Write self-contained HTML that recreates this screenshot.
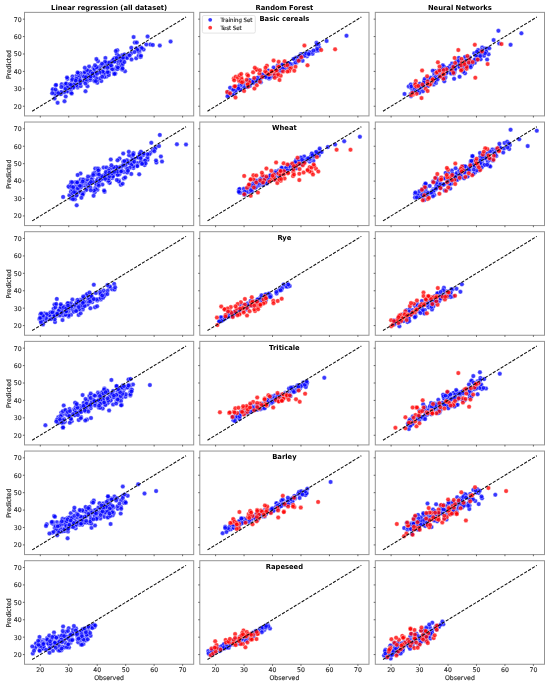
<!DOCTYPE html>
<html><head><meta charset="utf-8"><style>
html,body{margin:0;padding:0;background:#fff;width:550px;height:685px;overflow:hidden}
svg{display:block}
.tl{font-family:'DejaVu Sans','Liberation Sans',sans-serif;font-size:6.4px;fill:#2a2a2a;stroke:#2a2a2a;stroke-width:0.12px}
.al{font-family:'DejaVu Sans','Liberation Sans',sans-serif;font-size:6.4px;fill:#2a2a2a;stroke:#2a2a2a;stroke-width:0.15px}
.tb{font-family:'DejaVu Sans','Liberation Sans',sans-serif;font-size:7.0px;font-weight:bold;fill:#000}
.lg{font-family:'DejaVu Sans','Liberation Sans',sans-serif;font-size:5.8px;fill:#222;stroke:#222;stroke-width:0.15px}
</style></head><body>
<svg width="550" height="685" viewBox="0 0 550 685">
<rect width="550" height="685" fill="#fff"/>
<clipPath id="cp00"><rect x="24.50" y="12.36" width="169.2" height="103.55"/></clipPath>
<g clip-path="url(#cp00)"><g fill="#0000ff" fill-opacity="0.78" stroke="#fff" stroke-opacity="0.9" stroke-width="0.4"><circle cx="95.1" cy="81.6" r="2.25"/><circle cx="136.5" cy="48.2" r="2.25"/><circle cx="67.0" cy="90.7" r="2.25"/><circle cx="136.2" cy="58.3" r="2.25"/><circle cx="80.3" cy="79.7" r="2.25"/><circle cx="88.5" cy="77.3" r="2.25"/><circle cx="120.8" cy="59.6" r="2.25"/><circle cx="87.5" cy="86.2" r="2.25"/><circle cx="98.0" cy="61.2" r="2.25"/><circle cx="56.1" cy="95.0" r="2.25"/><circle cx="114.0" cy="73.4" r="2.25"/><circle cx="97.1" cy="68.7" r="2.25"/><circle cx="81.7" cy="81.6" r="2.25"/><circle cx="117.1" cy="60.8" r="2.25"/><circle cx="79.7" cy="82.5" r="2.25"/><circle cx="90.8" cy="75.6" r="2.25"/><circle cx="66.2" cy="86.0" r="2.25"/><circle cx="87.1" cy="81.4" r="2.25"/><circle cx="71.9" cy="80.7" r="2.25"/><circle cx="76.5" cy="84.8" r="2.25"/><circle cx="113.7" cy="69.6" r="2.25"/><circle cx="77.9" cy="81.0" r="2.25"/><circle cx="93.1" cy="71.5" r="2.25"/><circle cx="143.6" cy="49.5" r="2.25"/><circle cx="138.7" cy="55.5" r="2.25"/><circle cx="111.6" cy="62.0" r="2.25"/><circle cx="97.3" cy="82.7" r="2.25"/><circle cx="77.6" cy="87.4" r="2.25"/><circle cx="68.4" cy="86.0" r="2.25"/><circle cx="140.6" cy="56.9" r="2.25"/><circle cx="95.4" cy="72.9" r="2.25"/><circle cx="64.6" cy="88.4" r="2.25"/><circle cx="103.6" cy="64.0" r="2.25"/><circle cx="116.0" cy="68.6" r="2.25"/><circle cx="102.8" cy="73.4" r="2.25"/><circle cx="131.2" cy="53.3" r="2.25"/><circle cx="57.6" cy="102.8" r="2.25"/><circle cx="96.4" cy="59.1" r="2.25"/><circle cx="91.2" cy="79.2" r="2.25"/><circle cx="59.9" cy="94.1" r="2.25"/><circle cx="105.0" cy="63.6" r="2.25"/><circle cx="123.4" cy="59.6" r="2.25"/><circle cx="101.3" cy="81.0" r="2.25"/><circle cx="76.3" cy="78.7" r="2.25"/><circle cx="122.1" cy="55.2" r="2.25"/><circle cx="94.9" cy="76.0" r="2.25"/><circle cx="95.0" cy="75.0" r="2.25"/><circle cx="113.9" cy="61.5" r="2.25"/><circle cx="67.3" cy="91.6" r="2.25"/><circle cx="120.0" cy="58.6" r="2.25"/><circle cx="108.3" cy="66.0" r="2.25"/><circle cx="116.9" cy="66.7" r="2.25"/><circle cx="70.9" cy="92.6" r="2.25"/><circle cx="118.4" cy="63.3" r="2.25"/><circle cx="70.9" cy="89.8" r="2.25"/><circle cx="61.7" cy="84.3" r="2.25"/><circle cx="123.7" cy="58.4" r="2.25"/><circle cx="124.4" cy="54.4" r="2.25"/><circle cx="126.1" cy="57.2" r="2.25"/><circle cx="92.1" cy="73.1" r="2.25"/><circle cx="77.4" cy="86.1" r="2.25"/><circle cx="53.0" cy="90.4" r="2.25"/><circle cx="105.4" cy="58.0" r="2.25"/><circle cx="111.2" cy="67.7" r="2.25"/><circle cx="121.6" cy="63.7" r="2.25"/><circle cx="78.0" cy="82.3" r="2.25"/><circle cx="72.8" cy="86.7" r="2.25"/><circle cx="104.9" cy="73.0" r="2.25"/><circle cx="118.6" cy="61.1" r="2.25"/><circle cx="139.1" cy="52.3" r="2.25"/><circle cx="67.5" cy="78.8" r="2.25"/><circle cx="92.9" cy="74.3" r="2.25"/><circle cx="128.3" cy="54.9" r="2.25"/><circle cx="88.5" cy="70.6" r="2.25"/><circle cx="101.0" cy="72.3" r="2.25"/><circle cx="55.7" cy="85.3" r="2.25"/><circle cx="107.5" cy="71.3" r="2.25"/><circle cx="131.5" cy="59.4" r="2.25"/><circle cx="120.7" cy="62.9" r="2.25"/><circle cx="127.1" cy="58.0" r="2.25"/><circle cx="106.5" cy="76.4" r="2.25"/><circle cx="75.2" cy="83.0" r="2.25"/><circle cx="115.3" cy="73.4" r="2.25"/><circle cx="72.5" cy="76.4" r="2.25"/><circle cx="121.2" cy="61.0" r="2.25"/><circle cx="60.0" cy="93.6" r="2.25"/><circle cx="120.6" cy="66.0" r="2.25"/><circle cx="68.7" cy="88.1" r="2.25"/><circle cx="85.0" cy="79.2" r="2.25"/><circle cx="80.7" cy="86.1" r="2.25"/><circle cx="108.9" cy="72.4" r="2.25"/><circle cx="69.8" cy="86.5" r="2.25"/><circle cx="86.6" cy="80.3" r="2.25"/><circle cx="52.8" cy="89.2" r="2.25"/><circle cx="76.5" cy="75.7" r="2.25"/><circle cx="88.4" cy="76.2" r="2.25"/><circle cx="63.8" cy="86.0" r="2.25"/><circle cx="104.4" cy="76.9" r="2.25"/><circle cx="85.4" cy="73.9" r="2.25"/><circle cx="111.6" cy="65.8" r="2.25"/><circle cx="106.0" cy="65.4" r="2.25"/><circle cx="89.1" cy="66.5" r="2.25"/><circle cx="125.0" cy="71.3" r="2.25"/><circle cx="104.3" cy="67.5" r="2.25"/><circle cx="119.1" cy="68.0" r="2.25"/><circle cx="82.6" cy="75.7" r="2.25"/><circle cx="97.5" cy="79.9" r="2.25"/><circle cx="71.3" cy="87.5" r="2.25"/><circle cx="150.3" cy="44.4" r="2.25"/><circle cx="75.0" cy="79.4" r="2.25"/><circle cx="76.1" cy="81.9" r="2.25"/><circle cx="60.9" cy="94.0" r="2.25"/><circle cx="76.2" cy="85.4" r="2.25"/><circle cx="114.8" cy="58.8" r="2.25"/><circle cx="109.5" cy="66.7" r="2.25"/><circle cx="65.7" cy="96.5" r="2.25"/><circle cx="85.1" cy="72.9" r="2.25"/><circle cx="88.4" cy="73.9" r="2.25"/><circle cx="106.9" cy="62.7" r="2.25"/><circle cx="90.9" cy="77.2" r="2.25"/><circle cx="100.8" cy="65.8" r="2.25"/><circle cx="122.0" cy="66.1" r="2.25"/><circle cx="111.7" cy="62.2" r="2.25"/><circle cx="84.3" cy="81.2" r="2.25"/><circle cx="90.4" cy="71.4" r="2.25"/><circle cx="84.5" cy="72.3" r="2.25"/><circle cx="64.1" cy="92.2" r="2.25"/><circle cx="71.8" cy="84.8" r="2.25"/><circle cx="78.2" cy="81.1" r="2.25"/><circle cx="80.5" cy="73.3" r="2.25"/><circle cx="80.4" cy="76.1" r="2.25"/><circle cx="100.0" cy="78.2" r="2.25"/><circle cx="141.0" cy="47.5" r="2.25"/><circle cx="115.8" cy="59.0" r="2.25"/><circle cx="117.3" cy="50.3" r="2.25"/><circle cx="114.5" cy="73.9" r="2.25"/><circle cx="101.6" cy="73.5" r="2.25"/><circle cx="131.3" cy="47.8" r="2.25"/><circle cx="108.8" cy="75.0" r="2.25"/><circle cx="94.3" cy="80.8" r="2.25"/><circle cx="61.3" cy="87.0" r="2.25"/><circle cx="93.4" cy="68.0" r="2.25"/><circle cx="72.6" cy="87.8" r="2.25"/><circle cx="66.0" cy="84.5" r="2.25"/><circle cx="94.7" cy="72.8" r="2.25"/><circle cx="116.8" cy="54.1" r="2.25"/><circle cx="79.0" cy="80.9" r="2.25"/><circle cx="115.3" cy="57.9" r="2.25"/><circle cx="96.2" cy="78.1" r="2.25"/><circle cx="67.4" cy="87.7" r="2.25"/><circle cx="139.4" cy="51.1" r="2.25"/><circle cx="87.0" cy="70.2" r="2.25"/><circle cx="79.1" cy="77.6" r="2.25"/><circle cx="122.8" cy="63.9" r="2.25"/><circle cx="65.4" cy="84.1" r="2.25"/><circle cx="112.3" cy="60.7" r="2.25"/><circle cx="70.6" cy="85.7" r="2.25"/><circle cx="86.3" cy="78.8" r="2.25"/><circle cx="74.1" cy="84.4" r="2.25"/><circle cx="122.2" cy="69.6" r="2.25"/><circle cx="86.1" cy="76.3" r="2.25"/><circle cx="141.8" cy="48.2" r="2.25"/><circle cx="103.8" cy="74.4" r="2.25"/><circle cx="109.1" cy="62.5" r="2.25"/><circle cx="95.8" cy="81.1" r="2.25"/><circle cx="80.1" cy="83.5" r="2.25"/><circle cx="86.5" cy="80.0" r="2.25"/><circle cx="134.8" cy="42.6" r="2.25"/><circle cx="71.7" cy="93.4" r="2.25"/><circle cx="146.3" cy="44.5" r="2.25"/><circle cx="114.4" cy="58.6" r="2.25"/><circle cx="83.9" cy="76.3" r="2.25"/><circle cx="105.0" cy="61.7" r="2.25"/><circle cx="85.4" cy="83.6" r="2.25"/><circle cx="85.5" cy="91.2" r="2.25"/><circle cx="94.5" cy="69.0" r="2.25"/><circle cx="54.6" cy="98.4" r="2.25"/><circle cx="93.7" cy="75.8" r="2.25"/><circle cx="141.0" cy="55.7" r="2.25"/><circle cx="78.3" cy="75.2" r="2.25"/><circle cx="113.5" cy="59.5" r="2.25"/><circle cx="90.0" cy="79.9" r="2.25"/><circle cx="72.3" cy="79.2" r="2.25"/><circle cx="129.6" cy="55.4" r="2.25"/><circle cx="54.6" cy="93.4" r="2.25"/><circle cx="79.7" cy="80.2" r="2.25"/><circle cx="152.8" cy="44.9" r="2.25"/><circle cx="76.5" cy="78.7" r="2.25"/><circle cx="123.0" cy="57.8" r="2.25"/><circle cx="102.3" cy="72.1" r="2.25"/><circle cx="118.7" cy="56.0" r="2.25"/><circle cx="104.2" cy="72.7" r="2.25"/><circle cx="84.1" cy="76.7" r="2.25"/><circle cx="114.6" cy="61.6" r="2.25"/><circle cx="56.0" cy="85.0" r="2.25"/><circle cx="90.3" cy="78.5" r="2.25"/><circle cx="84.8" cy="67.8" r="2.25"/><circle cx="92.5" cy="73.4" r="2.25"/><circle cx="65.6" cy="88.6" r="2.25"/><circle cx="73.4" cy="87.4" r="2.25"/><circle cx="98.9" cy="68.0" r="2.25"/><circle cx="85.9" cy="77.2" r="2.25"/><circle cx="117.4" cy="69.0" r="2.25"/><circle cx="102.2" cy="76.7" r="2.25"/><circle cx="124.4" cy="62.0" r="2.25"/><circle cx="112.2" cy="69.3" r="2.25"/><circle cx="102.0" cy="63.7" r="2.25"/><circle cx="78.5" cy="73.3" r="2.25"/><circle cx="116.6" cy="58.0" r="2.25"/><circle cx="75.7" cy="80.6" r="2.25"/><circle cx="61.1" cy="92.0" r="2.25"/><circle cx="139.0" cy="50.6" r="2.25"/><circle cx="97.2" cy="67.0" r="2.25"/><circle cx="115.8" cy="51.0" r="2.25"/><circle cx="96.4" cy="67.3" r="2.25"/><circle cx="102.7" cy="71.4" r="2.25"/><circle cx="56.9" cy="91.5" r="2.25"/><circle cx="70.5" cy="87.8" r="2.25"/><circle cx="107.6" cy="72.2" r="2.25"/><circle cx="99.6" cy="72.3" r="2.25"/><circle cx="68.2" cy="85.2" r="2.25"/><circle cx="136.8" cy="42.5" r="2.25"/><circle cx="67.9" cy="86.2" r="2.25"/><circle cx="95.0" cy="65.3" r="2.25"/><circle cx="67.0" cy="77.4" r="2.25"/><circle cx="111.0" cy="65.5" r="2.25"/><circle cx="77.6" cy="72.5" r="2.25"/><circle cx="66.2" cy="83.5" r="2.25"/><circle cx="58.3" cy="93.2" r="2.25"/><circle cx="69.5" cy="84.2" r="2.25"/><circle cx="70.9" cy="84.8" r="2.25"/><circle cx="97.0" cy="73.8" r="2.25"/><circle cx="90.6" cy="76.5" r="2.25"/><circle cx="137.8" cy="50.8" r="2.25"/><circle cx="137.2" cy="49.6" r="2.25"/><circle cx="117.8" cy="67.4" r="2.25"/><circle cx="107.4" cy="67.7" r="2.25"/><circle cx="122.6" cy="68.4" r="2.25"/><circle cx="134.5" cy="52.0" r="2.25"/><circle cx="55.5" cy="89.4" r="2.25"/><circle cx="52.2" cy="93.2" r="2.25"/><circle cx="64.5" cy="101.2" r="2.25"/><circle cx="159.8" cy="45.6" r="2.25"/><circle cx="170.6" cy="41.6" r="2.25"/><circle cx="133.6" cy="37.1" r="2.25"/><circle cx="147.6" cy="36.4" r="2.25"/></g></g>
<line x1="32.18" y1="111.21" x2="186.02" y2="17.06" stroke="#111" stroke-width="1.05" stroke-dasharray="3.2 1.4"/>
<rect x="24.50" y="12.36" width="169.2" height="103.55" fill="none" stroke="#939393" stroke-width="1"/>
<path d="M40.30 115.91v1.6M24.50 106.24h-1.6M68.76 115.91v1.6M24.50 88.83h-1.6M97.22 115.91v1.6M24.50 71.41h-1.6M125.68 115.91v1.6M24.50 53.99h-1.6M154.14 115.91v1.6M24.50 36.57h-1.6M182.60 115.91v1.6M24.50 19.15h-1.6" stroke="#444" stroke-width="0.8" fill="none"/>
<text transform="translate(21.60,108.59) scale(0.97,1)" text-anchor="end" class="tl">20</text>
<text transform="translate(21.60,91.18) scale(0.97,1)" text-anchor="end" class="tl">30</text>
<text transform="translate(21.60,73.76) scale(0.97,1)" text-anchor="end" class="tl">40</text>
<text transform="translate(21.60,56.34) scale(0.97,1)" text-anchor="end" class="tl">50</text>
<text transform="translate(21.60,38.92) scale(0.97,1)" text-anchor="end" class="tl">60</text>
<text transform="translate(21.60,21.50) scale(0.97,1)" text-anchor="end" class="tl">70</text>
<text transform="translate(10.80,64.53) rotate(-90) scale(0.97,1)" text-anchor="middle" class="al">Predicted</text>
<clipPath id="cp01"><rect x="199.80" y="12.36" width="169.2" height="103.55"/></clipPath>
<g clip-path="url(#cp01)"><g fill="#0000ff" fill-opacity="0.78" stroke="#fff" stroke-opacity="0.9" stroke-width="0.4"><circle cx="253.9" cy="80.7" r="2.25"/><circle cx="256.9" cy="78.3" r="2.25"/><circle cx="299.3" cy="56.8" r="2.25"/><circle cx="238.9" cy="88.1" r="2.25"/><circle cx="280.9" cy="71.5" r="2.25"/><circle cx="291.6" cy="64.3" r="2.25"/><circle cx="247.7" cy="84.5" r="2.25"/><circle cx="234.7" cy="93.8" r="2.25"/><circle cx="255.0" cy="79.2" r="2.25"/><circle cx="285.6" cy="66.5" r="2.25"/><circle cx="277.9" cy="70.8" r="2.25"/><circle cx="244.5" cy="83.6" r="2.25"/><circle cx="267.8" cy="73.6" r="2.25"/><circle cx="286.6" cy="64.9" r="2.25"/><circle cx="267.0" cy="77.4" r="2.25"/><circle cx="283.6" cy="66.4" r="2.25"/><circle cx="317.0" cy="46.3" r="2.25"/><circle cx="287.7" cy="66.7" r="2.25"/><circle cx="264.5" cy="74.3" r="2.25"/><circle cx="247.6" cy="83.0" r="2.25"/><circle cx="260.8" cy="82.2" r="2.25"/><circle cx="274.0" cy="71.9" r="2.25"/><circle cx="307.0" cy="56.2" r="2.25"/><circle cx="295.8" cy="57.7" r="2.25"/><circle cx="258.5" cy="77.5" r="2.25"/><circle cx="310.9" cy="53.3" r="2.25"/><circle cx="270.8" cy="75.4" r="2.25"/><circle cx="288.6" cy="64.0" r="2.25"/><circle cx="240.4" cy="87.8" r="2.25"/><circle cx="240.2" cy="84.4" r="2.25"/><circle cx="248.9" cy="82.0" r="2.25"/><circle cx="306.3" cy="54.5" r="2.25"/><circle cx="287.4" cy="63.6" r="2.25"/><circle cx="302.6" cy="60.8" r="2.25"/><circle cx="284.5" cy="65.9" r="2.25"/><circle cx="265.7" cy="74.1" r="2.25"/><circle cx="274.4" cy="72.3" r="2.25"/><circle cx="280.4" cy="70.4" r="2.25"/><circle cx="303.9" cy="54.1" r="2.25"/><circle cx="268.2" cy="70.7" r="2.25"/><circle cx="307.1" cy="52.9" r="2.25"/><circle cx="282.0" cy="70.3" r="2.25"/><circle cx="300.7" cy="54.2" r="2.25"/><circle cx="272.9" cy="76.6" r="2.25"/><circle cx="288.5" cy="63.2" r="2.25"/><circle cx="260.2" cy="79.6" r="2.25"/><circle cx="274.9" cy="69.8" r="2.25"/><circle cx="250.1" cy="84.8" r="2.25"/><circle cx="239.8" cy="85.0" r="2.25"/><circle cx="232.7" cy="90.1" r="2.25"/><circle cx="289.3" cy="67.6" r="2.25"/><circle cx="269.7" cy="78.2" r="2.25"/><circle cx="307.7" cy="53.7" r="2.25"/><circle cx="301.3" cy="54.2" r="2.25"/><circle cx="264.0" cy="76.4" r="2.25"/><circle cx="318.0" cy="46.2" r="2.25"/><circle cx="280.3" cy="69.4" r="2.25"/><circle cx="294.9" cy="59.1" r="2.25"/><circle cx="265.7" cy="75.1" r="2.25"/><circle cx="248.4" cy="83.2" r="2.25"/><circle cx="246.3" cy="86.7" r="2.25"/><circle cx="247.1" cy="81.8" r="2.25"/><circle cx="281.2" cy="65.5" r="2.25"/><circle cx="241.0" cy="89.6" r="2.25"/><circle cx="230.1" cy="87.7" r="2.25"/><circle cx="301.1" cy="55.6" r="2.25"/><circle cx="239.6" cy="88.6" r="2.25"/><circle cx="269.2" cy="78.3" r="2.25"/><circle cx="272.2" cy="71.6" r="2.25"/><circle cx="282.5" cy="66.5" r="2.25"/><circle cx="273.4" cy="73.7" r="2.25"/><circle cx="312.6" cy="53.7" r="2.25"/><circle cx="293.5" cy="59.0" r="2.25"/><circle cx="278.9" cy="70.9" r="2.25"/><circle cx="282.3" cy="68.8" r="2.25"/><circle cx="273.6" cy="67.5" r="2.25"/><circle cx="316.5" cy="42.7" r="2.25"/><circle cx="251.0" cy="80.6" r="2.25"/><circle cx="288.2" cy="65.4" r="2.25"/><circle cx="277.4" cy="69.2" r="2.25"/><circle cx="233.1" cy="94.7" r="2.25"/><circle cx="256.7" cy="79.8" r="2.25"/><circle cx="311.3" cy="52.3" r="2.25"/><circle cx="296.6" cy="62.6" r="2.25"/><circle cx="229.0" cy="95.1" r="2.25"/><circle cx="256.8" cy="78.9" r="2.25"/><circle cx="228.5" cy="92.3" r="2.25"/><circle cx="300.6" cy="57.2" r="2.25"/><circle cx="240.7" cy="85.5" r="2.25"/><circle cx="235.0" cy="91.3" r="2.25"/><circle cx="319.4" cy="48.1" r="2.25"/><circle cx="268.8" cy="78.2" r="2.25"/><circle cx="258.6" cy="79.8" r="2.25"/><circle cx="234.0" cy="88.7" r="2.25"/><circle cx="264.3" cy="76.8" r="2.25"/><circle cx="262.4" cy="76.1" r="2.25"/><circle cx="274.9" cy="74.2" r="2.25"/><circle cx="228.1" cy="93.5" r="2.25"/><circle cx="244.3" cy="87.2" r="2.25"/><circle cx="249.6" cy="85.8" r="2.25"/><circle cx="268.4" cy="70.8" r="2.25"/><circle cx="257.2" cy="78.0" r="2.25"/><circle cx="282.0" cy="69.6" r="2.25"/><circle cx="255.9" cy="82.0" r="2.25"/><circle cx="309.1" cy="52.2" r="2.25"/><circle cx="316.1" cy="50.7" r="2.25"/><circle cx="235.2" cy="88.7" r="2.25"/><circle cx="249.5" cy="86.0" r="2.25"/><circle cx="278.0" cy="71.0" r="2.25"/><circle cx="295.3" cy="62.7" r="2.25"/><circle cx="235.8" cy="90.2" r="2.25"/><circle cx="247.4" cy="87.0" r="2.25"/><circle cx="269.7" cy="77.4" r="2.25"/><circle cx="286.5" cy="67.5" r="2.25"/><circle cx="308.4" cy="54.0" r="2.25"/><circle cx="304.4" cy="55.8" r="2.25"/><circle cx="297.4" cy="59.1" r="2.25"/><circle cx="234.4" cy="87.0" r="2.25"/><circle cx="318.5" cy="44.3" r="2.25"/><circle cx="282.1" cy="68.4" r="2.25"/><circle cx="238.3" cy="86.8" r="2.25"/><circle cx="253.3" cy="83.0" r="2.25"/><circle cx="282.6" cy="64.5" r="2.25"/><circle cx="264.0" cy="75.5" r="2.25"/><circle cx="268.9" cy="77.3" r="2.25"/><circle cx="298.4" cy="57.0" r="2.25"/><circle cx="300.2" cy="55.9" r="2.25"/><circle cx="276.7" cy="75.7" r="2.25"/><circle cx="297.3" cy="61.0" r="2.25"/><circle cx="265.6" cy="76.9" r="2.25"/><circle cx="318.1" cy="50.4" r="2.25"/><circle cx="281.3" cy="70.6" r="2.25"/><circle cx="317.0" cy="49.0" r="2.25"/><circle cx="233.3" cy="89.4" r="2.25"/><circle cx="306.1" cy="53.4" r="2.25"/><circle cx="277.7" cy="65.5" r="2.25"/><circle cx="290.3" cy="64.1" r="2.25"/><circle cx="248.1" cy="81.5" r="2.25"/><circle cx="276.9" cy="70.7" r="2.25"/><circle cx="256.2" cy="79.7" r="2.25"/><circle cx="240.3" cy="89.7" r="2.25"/><circle cx="227.5" cy="96.3" r="2.25"/><circle cx="308.8" cy="54.0" r="2.25"/><circle cx="286.7" cy="63.7" r="2.25"/><circle cx="249.1" cy="80.1" r="2.25"/><circle cx="253.6" cy="80.1" r="2.25"/><circle cx="270.4" cy="72.7" r="2.25"/><circle cx="299.7" cy="59.9" r="2.25"/><circle cx="241.5" cy="83.8" r="2.25"/><circle cx="317.0" cy="44.1" r="2.25"/><circle cx="313.5" cy="50.4" r="2.25"/><circle cx="252.5" cy="82.0" r="2.25"/><circle cx="284.2" cy="68.8" r="2.25"/><circle cx="262.0" cy="74.5" r="2.25"/><circle cx="288.9" cy="63.2" r="2.25"/><circle cx="238.3" cy="88.4" r="2.25"/><circle cx="270.7" cy="72.8" r="2.25"/><circle cx="280.0" cy="68.2" r="2.25"/><circle cx="283.0" cy="68.2" r="2.25"/><circle cx="288.5" cy="67.0" r="2.25"/><circle cx="346.5" cy="35.7" r="2.25"/><circle cx="326.6" cy="40.9" r="2.25"/></g><g fill="#ff0000" fill-opacity="0.78" stroke="#fff" stroke-opacity="0.9" stroke-width="0.4"><circle cx="233.8" cy="78.6" r="2.25"/><circle cx="244.1" cy="90.9" r="2.25"/><circle cx="283.0" cy="71.4" r="2.25"/><circle cx="266.5" cy="72.4" r="2.25"/><circle cx="234.4" cy="86.5" r="2.25"/><circle cx="256.9" cy="69.3" r="2.25"/><circle cx="259.9" cy="81.8" r="2.25"/><circle cx="238.9" cy="80.7" r="2.25"/><circle cx="277.6" cy="75.8" r="2.25"/><circle cx="235.7" cy="76.8" r="2.25"/><circle cx="254.2" cy="77.9" r="2.25"/><circle cx="262.2" cy="77.1" r="2.25"/><circle cx="256.8" cy="85.3" r="2.25"/><circle cx="266.9" cy="65.7" r="2.25"/><circle cx="277.8" cy="66.9" r="2.25"/><circle cx="298.7" cy="60.8" r="2.25"/><circle cx="247.2" cy="74.5" r="2.25"/><circle cx="271.1" cy="70.9" r="2.25"/><circle cx="274.6" cy="74.7" r="2.25"/><circle cx="247.8" cy="83.5" r="2.25"/><circle cx="227.1" cy="91.9" r="2.25"/><circle cx="301.4" cy="57.2" r="2.25"/><circle cx="248.2" cy="86.5" r="2.25"/><circle cx="249.2" cy="82.1" r="2.25"/><circle cx="291.3" cy="68.0" r="2.25"/><circle cx="266.7" cy="72.9" r="2.25"/><circle cx="259.4" cy="73.4" r="2.25"/><circle cx="280.7" cy="75.8" r="2.25"/><circle cx="230.0" cy="93.3" r="2.25"/><circle cx="275.5" cy="71.3" r="2.25"/><circle cx="253.1" cy="72.3" r="2.25"/><circle cx="234.2" cy="80.3" r="2.25"/><circle cx="272.0" cy="71.3" r="2.25"/><circle cx="295.5" cy="66.7" r="2.25"/><circle cx="242.1" cy="80.0" r="2.25"/><circle cx="269.8" cy="74.2" r="2.25"/><circle cx="248.1" cy="75.7" r="2.25"/><circle cx="278.1" cy="74.3" r="2.25"/><circle cx="276.6" cy="70.3" r="2.25"/><circle cx="242.9" cy="81.7" r="2.25"/><circle cx="285.5" cy="65.6" r="2.25"/><circle cx="271.8" cy="71.3" r="2.25"/><circle cx="273.6" cy="60.6" r="2.25"/><circle cx="284.6" cy="61.2" r="2.25"/><circle cx="256.6" cy="69.8" r="2.25"/><circle cx="279.5" cy="80.0" r="2.25"/><circle cx="290.0" cy="68.5" r="2.25"/><circle cx="235.0" cy="86.3" r="2.25"/><circle cx="287.3" cy="65.1" r="2.25"/><circle cx="254.4" cy="88.6" r="2.25"/><circle cx="259.9" cy="70.3" r="2.25"/><circle cx="238.0" cy="77.7" r="2.25"/><circle cx="274.8" cy="77.8" r="2.25"/><circle cx="247.7" cy="84.3" r="2.25"/><circle cx="289.3" cy="71.0" r="2.25"/><circle cx="246.6" cy="79.8" r="2.25"/><circle cx="265.2" cy="71.3" r="2.25"/><circle cx="254.8" cy="67.8" r="2.25"/><circle cx="268.6" cy="74.3" r="2.25"/><circle cx="241.4" cy="78.0" r="2.25"/><circle cx="240.3" cy="81.2" r="2.25"/><circle cx="278.6" cy="61.8" r="2.25"/><circle cx="279.0" cy="66.6" r="2.25"/><circle cx="265.5" cy="67.7" r="2.25"/><circle cx="294.3" cy="70.7" r="2.25"/><circle cx="242.0" cy="82.3" r="2.25"/><circle cx="287.4" cy="71.6" r="2.25"/><circle cx="239.5" cy="75.2" r="2.25"/><circle cx="335.1" cy="49.3" r="2.25"/><circle cx="321.2" cy="50.0" r="2.25"/><circle cx="307.5" cy="65.3" r="2.25"/><circle cx="304.4" cy="45.6" r="2.25"/><circle cx="241.2" cy="74.0" r="2.25"/><circle cx="235.5" cy="97.5" r="2.25"/></g></g>
<line x1="207.48" y1="111.21" x2="361.32" y2="17.06" stroke="#111" stroke-width="1.05" stroke-dasharray="3.2 1.4"/>
<rect x="199.80" y="12.36" width="169.2" height="103.55" fill="none" stroke="#939393" stroke-width="1"/>
<path d="M215.60 115.91v1.6M199.80 106.24h-1.6M244.06 115.91v1.6M199.80 88.83h-1.6M272.52 115.91v1.6M199.80 71.41h-1.6M300.98 115.91v1.6M199.80 53.99h-1.6M329.44 115.91v1.6M199.80 36.57h-1.6M357.90 115.91v1.6M199.80 19.15h-1.6" stroke="#444" stroke-width="0.8" fill="none"/>
<text transform="translate(284.40,20.66) scale(0.97,1)" text-anchor="middle" class="tb">Basic cereals</text>
<clipPath id="cp02"><rect x="375.30" y="12.36" width="169.2" height="103.55"/></clipPath>
<g clip-path="url(#cp02)"><g fill="#0000ff" fill-opacity="0.78" stroke="#fff" stroke-opacity="0.9" stroke-width="0.4"><circle cx="482.3" cy="54.1" r="2.25"/><circle cx="444.7" cy="72.8" r="2.25"/><circle cx="487.1" cy="59.6" r="2.25"/><circle cx="412.2" cy="92.6" r="2.25"/><circle cx="452.0" cy="63.6" r="2.25"/><circle cx="434.8" cy="78.3" r="2.25"/><circle cx="467.7" cy="64.5" r="2.25"/><circle cx="419.6" cy="90.2" r="2.25"/><circle cx="474.3" cy="53.3" r="2.25"/><circle cx="447.2" cy="68.5" r="2.25"/><circle cx="477.5" cy="54.1" r="2.25"/><circle cx="442.2" cy="73.1" r="2.25"/><circle cx="438.7" cy="70.6" r="2.25"/><circle cx="466.6" cy="59.9" r="2.25"/><circle cx="488.6" cy="54.3" r="2.25"/><circle cx="434.3" cy="75.5" r="2.25"/><circle cx="485.9" cy="50.7" r="2.25"/><circle cx="480.5" cy="55.6" r="2.25"/><circle cx="419.8" cy="83.7" r="2.25"/><circle cx="452.1" cy="70.3" r="2.25"/><circle cx="459.6" cy="76.7" r="2.25"/><circle cx="482.2" cy="47.5" r="2.25"/><circle cx="456.5" cy="64.2" r="2.25"/><circle cx="416.4" cy="89.0" r="2.25"/><circle cx="443.7" cy="75.7" r="2.25"/><circle cx="443.4" cy="73.4" r="2.25"/><circle cx="443.9" cy="79.3" r="2.25"/><circle cx="484.4" cy="51.2" r="2.25"/><circle cx="432.9" cy="80.3" r="2.25"/><circle cx="423.4" cy="86.1" r="2.25"/><circle cx="445.5" cy="77.1" r="2.25"/><circle cx="454.6" cy="72.1" r="2.25"/><circle cx="481.8" cy="49.7" r="2.25"/><circle cx="450.1" cy="65.9" r="2.25"/><circle cx="426.7" cy="80.8" r="2.25"/><circle cx="480.6" cy="55.2" r="2.25"/><circle cx="443.3" cy="77.9" r="2.25"/><circle cx="457.3" cy="65.2" r="2.25"/><circle cx="442.1" cy="68.4" r="2.25"/><circle cx="422.9" cy="91.3" r="2.25"/><circle cx="458.7" cy="62.7" r="2.25"/><circle cx="465.0" cy="73.3" r="2.25"/><circle cx="420.8" cy="87.4" r="2.25"/><circle cx="440.9" cy="73.8" r="2.25"/><circle cx="433.7" cy="84.4" r="2.25"/><circle cx="419.3" cy="92.8" r="2.25"/><circle cx="423.2" cy="84.1" r="2.25"/><circle cx="484.9" cy="48.5" r="2.25"/><circle cx="475.6" cy="60.0" r="2.25"/><circle cx="435.2" cy="72.7" r="2.25"/><circle cx="462.4" cy="69.0" r="2.25"/><circle cx="408.7" cy="86.4" r="2.25"/><circle cx="478.9" cy="55.6" r="2.25"/><circle cx="446.7" cy="71.9" r="2.25"/><circle cx="469.4" cy="59.1" r="2.25"/><circle cx="427.3" cy="81.2" r="2.25"/><circle cx="434.8" cy="71.0" r="2.25"/><circle cx="432.7" cy="70.7" r="2.25"/><circle cx="486.5" cy="48.8" r="2.25"/><circle cx="438.7" cy="77.0" r="2.25"/><circle cx="443.9" cy="78.9" r="2.25"/><circle cx="484.0" cy="55.8" r="2.25"/><circle cx="477.6" cy="56.8" r="2.25"/><circle cx="436.2" cy="78.0" r="2.25"/><circle cx="429.7" cy="81.3" r="2.25"/><circle cx="468.2" cy="62.4" r="2.25"/><circle cx="414.3" cy="87.8" r="2.25"/><circle cx="436.0" cy="83.1" r="2.25"/><circle cx="474.8" cy="62.8" r="2.25"/><circle cx="479.2" cy="51.3" r="2.25"/><circle cx="424.1" cy="81.0" r="2.25"/><circle cx="412.0" cy="93.0" r="2.25"/><circle cx="466.5" cy="58.0" r="2.25"/><circle cx="453.1" cy="72.8" r="2.25"/><circle cx="424.4" cy="85.1" r="2.25"/><circle cx="444.3" cy="81.3" r="2.25"/><circle cx="411.4" cy="88.1" r="2.25"/><circle cx="459.3" cy="67.3" r="2.25"/><circle cx="445.9" cy="68.8" r="2.25"/><circle cx="459.6" cy="64.2" r="2.25"/><circle cx="412.8" cy="90.2" r="2.25"/><circle cx="454.9" cy="68.5" r="2.25"/><circle cx="434.4" cy="73.8" r="2.25"/><circle cx="443.8" cy="74.7" r="2.25"/><circle cx="431.8" cy="80.6" r="2.25"/><circle cx="454.1" cy="69.3" r="2.25"/><circle cx="449.0" cy="68.5" r="2.25"/><circle cx="452.8" cy="66.3" r="2.25"/><circle cx="410.8" cy="84.4" r="2.25"/><circle cx="423.5" cy="84.8" r="2.25"/><circle cx="411.5" cy="86.4" r="2.25"/><circle cx="435.3" cy="80.6" r="2.25"/><circle cx="442.5" cy="72.1" r="2.25"/><circle cx="414.7" cy="88.9" r="2.25"/><circle cx="456.7" cy="61.1" r="2.25"/><circle cx="442.9" cy="71.9" r="2.25"/><circle cx="443.9" cy="75.7" r="2.25"/><circle cx="451.3" cy="68.3" r="2.25"/><circle cx="481.2" cy="53.0" r="2.25"/><circle cx="450.6" cy="72.2" r="2.25"/><circle cx="413.2" cy="91.3" r="2.25"/><circle cx="417.4" cy="91.5" r="2.25"/><circle cx="458.8" cy="57.9" r="2.25"/><circle cx="430.8" cy="79.8" r="2.25"/><circle cx="463.7" cy="60.7" r="2.25"/><circle cx="444.7" cy="78.3" r="2.25"/><circle cx="435.0" cy="82.3" r="2.25"/><circle cx="462.4" cy="66.2" r="2.25"/><circle cx="420.2" cy="86.8" r="2.25"/><circle cx="428.0" cy="78.7" r="2.25"/><circle cx="428.5" cy="85.6" r="2.25"/><circle cx="437.6" cy="74.5" r="2.25"/><circle cx="478.1" cy="50.1" r="2.25"/><circle cx="468.7" cy="65.7" r="2.25"/><circle cx="469.5" cy="57.6" r="2.25"/><circle cx="453.9" cy="73.4" r="2.25"/><circle cx="404.5" cy="93.9" r="2.25"/><circle cx="428.1" cy="80.4" r="2.25"/><circle cx="444.0" cy="66.8" r="2.25"/><circle cx="477.1" cy="59.9" r="2.25"/><circle cx="433.9" cy="78.0" r="2.25"/><circle cx="447.7" cy="67.9" r="2.25"/><circle cx="472.0" cy="64.8" r="2.25"/><circle cx="432.2" cy="79.6" r="2.25"/><circle cx="463.1" cy="68.8" r="2.25"/><circle cx="451.1" cy="73.6" r="2.25"/><circle cx="445.8" cy="70.3" r="2.25"/><circle cx="453.7" cy="66.6" r="2.25"/><circle cx="442.8" cy="65.3" r="2.25"/><circle cx="414.8" cy="84.0" r="2.25"/><circle cx="476.9" cy="51.7" r="2.25"/><circle cx="486.1" cy="51.7" r="2.25"/><circle cx="470.6" cy="62.0" r="2.25"/><circle cx="433.1" cy="78.5" r="2.25"/><circle cx="454.1" cy="78.8" r="2.25"/><circle cx="465.0" cy="57.1" r="2.25"/><circle cx="410.7" cy="94.1" r="2.25"/><circle cx="466.6" cy="67.6" r="2.25"/><circle cx="412.5" cy="92.3" r="2.25"/><circle cx="481.8" cy="50.4" r="2.25"/><circle cx="424.7" cy="78.9" r="2.25"/><circle cx="485.0" cy="53.3" r="2.25"/><circle cx="424.0" cy="82.5" r="2.25"/><circle cx="446.5" cy="73.0" r="2.25"/><circle cx="470.4" cy="65.1" r="2.25"/><circle cx="489.3" cy="48.2" r="2.25"/><circle cx="459.7" cy="66.9" r="2.25"/><circle cx="470.7" cy="67.2" r="2.25"/><circle cx="435.9" cy="73.2" r="2.25"/><circle cx="463.3" cy="71.7" r="2.25"/><circle cx="435.4" cy="77.0" r="2.25"/><circle cx="480.6" cy="59.3" r="2.25"/><circle cx="465.2" cy="67.4" r="2.25"/><circle cx="435.0" cy="80.9" r="2.25"/><circle cx="466.2" cy="60.5" r="2.25"/><circle cx="411.0" cy="96.2" r="2.25"/><circle cx="480.1" cy="56.1" r="2.25"/><circle cx="458.7" cy="61.0" r="2.25"/><circle cx="431.2" cy="83.0" r="2.25"/><circle cx="455.1" cy="69.2" r="2.25"/><circle cx="466.2" cy="60.7" r="2.25"/><circle cx="453.6" cy="72.1" r="2.25"/><circle cx="475.9" cy="55.8" r="2.25"/><circle cx="437.6" cy="79.4" r="2.25"/><circle cx="430.6" cy="77.8" r="2.25"/><circle cx="434.4" cy="78.2" r="2.25"/><circle cx="427.8" cy="85.9" r="2.25"/><circle cx="442.3" cy="69.0" r="2.25"/><circle cx="463.9" cy="65.2" r="2.25"/><circle cx="474.6" cy="59.7" r="2.25"/><circle cx="510.6" cy="44.8" r="2.25"/><circle cx="521.4" cy="33.3" r="2.25"/><circle cx="498.4" cy="30.8" r="2.25"/><circle cx="499.2" cy="43.5" r="2.25"/><circle cx="493.6" cy="40.1" r="2.25"/></g><g fill="#ff0000" fill-opacity="0.78" stroke="#fff" stroke-opacity="0.9" stroke-width="0.4"><circle cx="461.5" cy="58.9" r="2.25"/><circle cx="461.7" cy="69.4" r="2.25"/><circle cx="444.1" cy="73.1" r="2.25"/><circle cx="430.6" cy="83.9" r="2.25"/><circle cx="415.8" cy="81.1" r="2.25"/><circle cx="436.4" cy="72.8" r="2.25"/><circle cx="437.9" cy="62.3" r="2.25"/><circle cx="415.1" cy="85.3" r="2.25"/><circle cx="415.4" cy="84.2" r="2.25"/><circle cx="482.0" cy="51.4" r="2.25"/><circle cx="451.9" cy="70.1" r="2.25"/><circle cx="427.5" cy="81.6" r="2.25"/><circle cx="439.5" cy="66.6" r="2.25"/><circle cx="477.7" cy="59.5" r="2.25"/><circle cx="469.0" cy="59.4" r="2.25"/><circle cx="464.4" cy="62.2" r="2.25"/><circle cx="437.0" cy="72.2" r="2.25"/><circle cx="442.8" cy="74.1" r="2.25"/><circle cx="453.3" cy="66.9" r="2.25"/><circle cx="416.3" cy="86.5" r="2.25"/><circle cx="446.4" cy="69.3" r="2.25"/><circle cx="429.8" cy="84.5" r="2.25"/><circle cx="467.4" cy="55.9" r="2.25"/><circle cx="416.6" cy="93.8" r="2.25"/><circle cx="453.4" cy="72.9" r="2.25"/><circle cx="466.6" cy="68.7" r="2.25"/><circle cx="427.1" cy="76.3" r="2.25"/><circle cx="468.8" cy="62.6" r="2.25"/><circle cx="466.7" cy="66.9" r="2.25"/><circle cx="412.8" cy="94.7" r="2.25"/><circle cx="455.1" cy="62.9" r="2.25"/><circle cx="411.1" cy="95.1" r="2.25"/><circle cx="443.4" cy="78.8" r="2.25"/><circle cx="439.6" cy="70.6" r="2.25"/><circle cx="425.6" cy="88.7" r="2.25"/><circle cx="433.0" cy="79.7" r="2.25"/><circle cx="461.6" cy="63.1" r="2.25"/><circle cx="432.5" cy="80.7" r="2.25"/><circle cx="422.3" cy="84.6" r="2.25"/><circle cx="454.6" cy="57.9" r="2.25"/><circle cx="440.2" cy="76.5" r="2.25"/><circle cx="461.1" cy="70.5" r="2.25"/><circle cx="427.6" cy="91.0" r="2.25"/><circle cx="432.7" cy="79.3" r="2.25"/><circle cx="461.1" cy="65.3" r="2.25"/><circle cx="443.6" cy="70.1" r="2.25"/><circle cx="443.6" cy="74.2" r="2.25"/><circle cx="427.6" cy="83.7" r="2.25"/><circle cx="412.4" cy="93.0" r="2.25"/><circle cx="472.6" cy="62.1" r="2.25"/><circle cx="418.2" cy="85.9" r="2.25"/><circle cx="464.5" cy="64.2" r="2.25"/><circle cx="422.1" cy="70.4" r="2.25"/><circle cx="421.5" cy="98.1" r="2.25"/><circle cx="475.3" cy="77.7" r="2.25"/><circle cx="487.6" cy="64.1" r="2.25"/><circle cx="501.5" cy="44.1" r="2.25"/><circle cx="474.8" cy="44.8" r="2.25"/><circle cx="458.3" cy="50.0" r="2.25"/></g></g>
<line x1="382.98" y1="111.21" x2="536.82" y2="17.06" stroke="#111" stroke-width="1.05" stroke-dasharray="3.2 1.4"/>
<rect x="375.30" y="12.36" width="169.2" height="103.55" fill="none" stroke="#939393" stroke-width="1"/>
<path d="M391.10 115.91v1.6M375.30 106.24h-1.6M419.56 115.91v1.6M375.30 88.83h-1.6M448.02 115.91v1.6M375.30 71.41h-1.6M476.48 115.91v1.6M375.30 53.99h-1.6M504.94 115.91v1.6M375.30 36.57h-1.6M533.40 115.91v1.6M375.30 19.15h-1.6" stroke="#444" stroke-width="0.8" fill="none"/>
<clipPath id="cp10"><rect x="24.50" y="122.03" width="169.2" height="103.55"/></clipPath>
<g clip-path="url(#cp10)"><g fill="#0000ff" fill-opacity="0.78" stroke="#fff" stroke-opacity="0.9" stroke-width="0.4"><circle cx="80.7" cy="180.8" r="2.25"/><circle cx="108.7" cy="177.9" r="2.25"/><circle cx="116.2" cy="167.2" r="2.25"/><circle cx="71.1" cy="182.1" r="2.25"/><circle cx="82.3" cy="181.5" r="2.25"/><circle cx="147.5" cy="159.8" r="2.25"/><circle cx="75.6" cy="185.8" r="2.25"/><circle cx="80.8" cy="179.5" r="2.25"/><circle cx="150.5" cy="152.7" r="2.25"/><circle cx="117.7" cy="175.0" r="2.25"/><circle cx="99.1" cy="169.4" r="2.25"/><circle cx="109.6" cy="183.1" r="2.25"/><circle cx="120.9" cy="166.4" r="2.25"/><circle cx="92.2" cy="182.1" r="2.25"/><circle cx="81.4" cy="193.7" r="2.25"/><circle cx="131.8" cy="156.4" r="2.25"/><circle cx="121.5" cy="167.1" r="2.25"/><circle cx="109.6" cy="182.6" r="2.25"/><circle cx="134.5" cy="158.9" r="2.25"/><circle cx="112.3" cy="176.7" r="2.25"/><circle cx="156.4" cy="162.6" r="2.25"/><circle cx="86.8" cy="188.5" r="2.25"/><circle cx="112.7" cy="172.0" r="2.25"/><circle cx="107.5" cy="171.7" r="2.25"/><circle cx="98.0" cy="178.6" r="2.25"/><circle cx="115.5" cy="172.2" r="2.25"/><circle cx="89.2" cy="180.4" r="2.25"/><circle cx="133.1" cy="164.7" r="2.25"/><circle cx="139.8" cy="152.9" r="2.25"/><circle cx="80.7" cy="186.1" r="2.25"/><circle cx="106.3" cy="174.4" r="2.25"/><circle cx="92.4" cy="178.6" r="2.25"/><circle cx="76.8" cy="194.7" r="2.25"/><circle cx="143.2" cy="162.6" r="2.25"/><circle cx="103.6" cy="167.5" r="2.25"/><circle cx="82.2" cy="184.3" r="2.25"/><circle cx="121.8" cy="171.0" r="2.25"/><circle cx="86.6" cy="182.3" r="2.25"/><circle cx="143.9" cy="160.9" r="2.25"/><circle cx="87.8" cy="182.2" r="2.25"/><circle cx="71.7" cy="195.4" r="2.25"/><circle cx="86.5" cy="182.8" r="2.25"/><circle cx="97.4" cy="189.8" r="2.25"/><circle cx="106.5" cy="167.6" r="2.25"/><circle cx="144.5" cy="160.7" r="2.25"/><circle cx="123.8" cy="178.4" r="2.25"/><circle cx="97.0" cy="181.5" r="2.25"/><circle cx="69.4" cy="195.3" r="2.25"/><circle cx="83.2" cy="185.0" r="2.25"/><circle cx="160.9" cy="156.5" r="2.25"/><circle cx="105.8" cy="173.9" r="2.25"/><circle cx="123.2" cy="153.6" r="2.25"/><circle cx="74.1" cy="197.3" r="2.25"/><circle cx="71.8" cy="190.1" r="2.25"/><circle cx="137.5" cy="163.1" r="2.25"/><circle cx="115.2" cy="171.3" r="2.25"/><circle cx="94.7" cy="192.3" r="2.25"/><circle cx="95.4" cy="187.9" r="2.25"/><circle cx="77.3" cy="185.8" r="2.25"/><circle cx="84.3" cy="185.6" r="2.25"/><circle cx="70.6" cy="184.6" r="2.25"/><circle cx="136.8" cy="165.9" r="2.25"/><circle cx="106.3" cy="175.2" r="2.25"/><circle cx="80.5" cy="173.5" r="2.25"/><circle cx="127.3" cy="171.2" r="2.25"/><circle cx="86.1" cy="190.1" r="2.25"/><circle cx="74.9" cy="190.0" r="2.25"/><circle cx="116.0" cy="172.5" r="2.25"/><circle cx="143.2" cy="153.4" r="2.25"/><circle cx="70.9" cy="191.8" r="2.25"/><circle cx="133.4" cy="168.0" r="2.25"/><circle cx="85.7" cy="183.5" r="2.25"/><circle cx="77.6" cy="175.0" r="2.25"/><circle cx="69.6" cy="187.2" r="2.25"/><circle cx="93.6" cy="195.8" r="2.25"/><circle cx="126.3" cy="167.8" r="2.25"/><circle cx="108.2" cy="181.2" r="2.25"/><circle cx="138.2" cy="157.0" r="2.25"/><circle cx="87.8" cy="185.0" r="2.25"/><circle cx="95.2" cy="168.6" r="2.25"/><circle cx="91.0" cy="176.8" r="2.25"/><circle cx="155.8" cy="147.5" r="2.25"/><circle cx="149.3" cy="154.3" r="2.25"/><circle cx="97.1" cy="180.3" r="2.25"/><circle cx="104.0" cy="175.0" r="2.25"/><circle cx="95.1" cy="172.6" r="2.25"/><circle cx="128.0" cy="162.6" r="2.25"/><circle cx="72.5" cy="193.2" r="2.25"/><circle cx="75.4" cy="182.3" r="2.25"/><circle cx="101.7" cy="176.9" r="2.25"/><circle cx="90.0" cy="183.4" r="2.25"/><circle cx="137.4" cy="166.1" r="2.25"/><circle cx="127.6" cy="169.8" r="2.25"/><circle cx="112.1" cy="178.1" r="2.25"/><circle cx="120.8" cy="184.7" r="2.25"/><circle cx="123.3" cy="161.8" r="2.25"/><circle cx="131.1" cy="160.8" r="2.25"/><circle cx="147.4" cy="157.5" r="2.25"/><circle cx="82.4" cy="180.0" r="2.25"/><circle cx="118.1" cy="168.2" r="2.25"/><circle cx="81.9" cy="184.2" r="2.25"/><circle cx="104.6" cy="191.8" r="2.25"/><circle cx="131.6" cy="165.6" r="2.25"/><circle cx="143.0" cy="155.3" r="2.25"/><circle cx="129.1" cy="155.2" r="2.25"/><circle cx="72.0" cy="182.2" r="2.25"/><circle cx="98.4" cy="170.4" r="2.25"/><circle cx="83.5" cy="192.7" r="2.25"/><circle cx="162.0" cy="161.5" r="2.25"/><circle cx="81.9" cy="183.1" r="2.25"/><circle cx="89.9" cy="182.8" r="2.25"/><circle cx="98.3" cy="173.4" r="2.25"/><circle cx="74.8" cy="190.6" r="2.25"/><circle cx="140.2" cy="158.5" r="2.25"/><circle cx="118.9" cy="180.5" r="2.25"/><circle cx="83.2" cy="183.2" r="2.25"/><circle cx="108.6" cy="178.3" r="2.25"/><circle cx="76.4" cy="186.8" r="2.25"/><circle cx="116.9" cy="168.7" r="2.25"/><circle cx="88.9" cy="184.1" r="2.25"/><circle cx="72.4" cy="189.8" r="2.25"/><circle cx="79.5" cy="187.5" r="2.25"/><circle cx="112.8" cy="168.7" r="2.25"/><circle cx="118.9" cy="167.4" r="2.25"/><circle cx="95.9" cy="183.9" r="2.25"/><circle cx="119.4" cy="174.3" r="2.25"/><circle cx="97.9" cy="168.6" r="2.25"/><circle cx="80.8" cy="187.5" r="2.25"/><circle cx="95.2" cy="174.5" r="2.25"/><circle cx="101.1" cy="175.9" r="2.25"/><circle cx="145.3" cy="160.6" r="2.25"/><circle cx="79.6" cy="191.8" r="2.25"/><circle cx="77.0" cy="187.8" r="2.25"/><circle cx="113.2" cy="171.8" r="2.25"/><circle cx="152.9" cy="150.1" r="2.25"/><circle cx="144.6" cy="165.1" r="2.25"/><circle cx="124.0" cy="171.9" r="2.25"/><circle cx="75.3" cy="190.0" r="2.25"/><circle cx="133.5" cy="153.1" r="2.25"/><circle cx="122.6" cy="183.7" r="2.25"/><circle cx="81.9" cy="183.8" r="2.25"/><circle cx="106.2" cy="179.8" r="2.25"/><circle cx="73.6" cy="188.3" r="2.25"/><circle cx="133.1" cy="166.5" r="2.25"/><circle cx="125.6" cy="164.9" r="2.25"/><circle cx="133.3" cy="153.4" r="2.25"/><circle cx="129.2" cy="163.1" r="2.25"/><circle cx="91.6" cy="179.6" r="2.25"/><circle cx="131.9" cy="161.6" r="2.25"/><circle cx="90.3" cy="187.5" r="2.25"/><circle cx="81.4" cy="183.4" r="2.25"/><circle cx="100.7" cy="179.9" r="2.25"/><circle cx="108.6" cy="180.7" r="2.25"/><circle cx="93.0" cy="181.9" r="2.25"/><circle cx="116.5" cy="173.4" r="2.25"/><circle cx="116.3" cy="167.1" r="2.25"/><circle cx="89.6" cy="183.4" r="2.25"/><circle cx="117.8" cy="174.7" r="2.25"/><circle cx="98.3" cy="170.3" r="2.25"/><circle cx="126.9" cy="160.2" r="2.25"/><circle cx="93.4" cy="173.6" r="2.25"/><circle cx="132.8" cy="159.7" r="2.25"/><circle cx="102.5" cy="178.5" r="2.25"/><circle cx="112.6" cy="176.5" r="2.25"/><circle cx="121.8" cy="171.0" r="2.25"/><circle cx="110.1" cy="168.6" r="2.25"/><circle cx="90.9" cy="181.9" r="2.25"/><circle cx="156.0" cy="160.4" r="2.25"/><circle cx="77.9" cy="188.4" r="2.25"/><circle cx="95.9" cy="189.4" r="2.25"/><circle cx="112.3" cy="172.8" r="2.25"/><circle cx="71.1" cy="198.4" r="2.25"/><circle cx="82.8" cy="193.5" r="2.25"/><circle cx="132.8" cy="162.8" r="2.25"/><circle cx="131.4" cy="164.8" r="2.25"/><circle cx="118.9" cy="181.6" r="2.25"/><circle cx="143.9" cy="153.6" r="2.25"/><circle cx="128.8" cy="151.8" r="2.25"/><circle cx="94.0" cy="190.5" r="2.25"/><circle cx="119.5" cy="158.5" r="2.25"/><circle cx="97.0" cy="184.4" r="2.25"/><circle cx="128.3" cy="169.0" r="2.25"/><circle cx="100.3" cy="179.8" r="2.25"/><circle cx="82.7" cy="194.7" r="2.25"/><circle cx="140.9" cy="151.7" r="2.25"/><circle cx="123.2" cy="165.3" r="2.25"/><circle cx="127.8" cy="170.9" r="2.25"/><circle cx="113.1" cy="175.4" r="2.25"/><circle cx="131.3" cy="173.9" r="2.25"/><circle cx="104.9" cy="179.1" r="2.25"/><circle cx="113.6" cy="167.2" r="2.25"/><circle cx="74.9" cy="199.3" r="2.25"/><circle cx="112.8" cy="176.6" r="2.25"/><circle cx="134.3" cy="161.8" r="2.25"/><circle cx="124.4" cy="161.1" r="2.25"/><circle cx="133.2" cy="154.8" r="2.25"/><circle cx="108.4" cy="178.4" r="2.25"/><circle cx="141.4" cy="163.7" r="2.25"/><circle cx="78.9" cy="185.1" r="2.25"/><circle cx="140.8" cy="161.7" r="2.25"/><circle cx="99.3" cy="181.1" r="2.25"/><circle cx="77.5" cy="182.1" r="2.25"/><circle cx="117.5" cy="160.3" r="2.25"/><circle cx="105.4" cy="174.9" r="2.25"/><circle cx="103.5" cy="178.6" r="2.25"/><circle cx="138.1" cy="157.4" r="2.25"/><circle cx="81.4" cy="197.8" r="2.25"/><circle cx="117.4" cy="171.6" r="2.25"/><circle cx="102.4" cy="184.6" r="2.25"/><circle cx="110.8" cy="159.4" r="2.25"/><circle cx="108.7" cy="170.6" r="2.25"/><circle cx="81.1" cy="185.9" r="2.25"/><circle cx="109.6" cy="176.2" r="2.25"/><circle cx="139.2" cy="174.3" r="2.25"/><circle cx="84.2" cy="181.2" r="2.25"/><circle cx="68.5" cy="186.5" r="2.25"/><circle cx="75.4" cy="193.6" r="2.25"/><circle cx="105.8" cy="172.1" r="2.25"/><circle cx="155.0" cy="148.7" r="2.25"/><circle cx="73.0" cy="199.3" r="2.25"/><circle cx="159.0" cy="146.1" r="2.25"/><circle cx="111.4" cy="165.3" r="2.25"/><circle cx="79.9" cy="185.9" r="2.25"/><circle cx="102.8" cy="178.1" r="2.25"/><circle cx="87.0" cy="179.5" r="2.25"/><circle cx="125.2" cy="177.4" r="2.25"/><circle cx="111.8" cy="173.5" r="2.25"/><circle cx="93.2" cy="175.0" r="2.25"/><circle cx="90.8" cy="190.3" r="2.25"/><circle cx="139.8" cy="154.0" r="2.25"/><circle cx="129.7" cy="167.7" r="2.25"/><circle cx="104.1" cy="190.6" r="2.25"/><circle cx="101.8" cy="178.8" r="2.25"/><circle cx="127.2" cy="172.6" r="2.25"/><circle cx="154.3" cy="151.2" r="2.25"/><circle cx="76.5" cy="195.5" r="2.25"/><circle cx="83.2" cy="179.6" r="2.25"/><circle cx="98.6" cy="184.0" r="2.25"/><circle cx="109.3" cy="172.7" r="2.25"/><circle cx="75.7" cy="192.6" r="2.25"/><circle cx="74.0" cy="192.1" r="2.25"/><circle cx="88.0" cy="176.6" r="2.25"/><circle cx="100.4" cy="177.3" r="2.25"/><circle cx="127.3" cy="168.9" r="2.25"/><circle cx="116.8" cy="180.0" r="2.25"/><circle cx="71.2" cy="186.4" r="2.25"/><circle cx="73.1" cy="187.1" r="2.25"/><circle cx="105.2" cy="178.8" r="2.25"/><circle cx="140.7" cy="158.1" r="2.25"/><circle cx="145.6" cy="163.2" r="2.25"/><circle cx="98.8" cy="185.7" r="2.25"/><circle cx="142.2" cy="163.8" r="2.25"/><circle cx="147.6" cy="154.2" r="2.25"/><circle cx="101.9" cy="176.2" r="2.25"/><circle cx="127.9" cy="170.8" r="2.25"/><circle cx="98.9" cy="174.6" r="2.25"/><circle cx="82.7" cy="181.4" r="2.25"/><circle cx="114.2" cy="171.9" r="2.25"/><circle cx="77.1" cy="182.5" r="2.25"/><circle cx="121.0" cy="171.5" r="2.25"/><circle cx="63.1" cy="196.9" r="2.25"/><circle cx="76.7" cy="205.3" r="2.25"/><circle cx="159.8" cy="134.9" r="2.25"/><circle cx="176.9" cy="144.2" r="2.25"/><circle cx="186.0" cy="144.5" r="2.25"/><circle cx="151.3" cy="142.8" r="2.25"/></g></g>
<line x1="32.18" y1="220.88" x2="186.02" y2="126.73" stroke="#111" stroke-width="1.05" stroke-dasharray="3.2 1.4"/>
<rect x="24.50" y="122.03" width="169.2" height="103.55" fill="none" stroke="#939393" stroke-width="1"/>
<path d="M40.30 225.58v1.6M24.50 215.91h-1.6M68.76 225.58v1.6M24.50 198.50h-1.6M97.22 225.58v1.6M24.50 181.08h-1.6M125.68 225.58v1.6M24.50 163.66h-1.6M154.14 225.58v1.6M24.50 146.24h-1.6M182.60 225.58v1.6M24.50 128.82h-1.6" stroke="#444" stroke-width="0.8" fill="none"/>
<text transform="translate(21.60,218.26) scale(0.97,1)" text-anchor="end" class="tl">20</text>
<text transform="translate(21.60,200.85) scale(0.97,1)" text-anchor="end" class="tl">30</text>
<text transform="translate(21.60,183.43) scale(0.97,1)" text-anchor="end" class="tl">40</text>
<text transform="translate(21.60,166.01) scale(0.97,1)" text-anchor="end" class="tl">50</text>
<text transform="translate(21.60,148.59) scale(0.97,1)" text-anchor="end" class="tl">60</text>
<text transform="translate(21.60,131.17) scale(0.97,1)" text-anchor="end" class="tl">70</text>
<text transform="translate(10.80,174.21) rotate(-90) scale(0.97,1)" text-anchor="middle" class="al">Predicted</text>
<clipPath id="cp11"><rect x="199.80" y="122.03" width="169.2" height="103.55"/></clipPath>
<g clip-path="url(#cp11)"><g fill="#0000ff" fill-opacity="0.78" stroke="#fff" stroke-opacity="0.9" stroke-width="0.4"><circle cx="263.5" cy="178.9" r="2.25"/><circle cx="319.4" cy="150.7" r="2.25"/><circle cx="258.9" cy="181.6" r="2.25"/><circle cx="258.1" cy="181.5" r="2.25"/><circle cx="270.8" cy="175.3" r="2.25"/><circle cx="262.0" cy="183.4" r="2.25"/><circle cx="294.2" cy="165.2" r="2.25"/><circle cx="252.7" cy="187.9" r="2.25"/><circle cx="313.4" cy="160.7" r="2.25"/><circle cx="309.7" cy="161.5" r="2.25"/><circle cx="238.9" cy="189.7" r="2.25"/><circle cx="284.5" cy="172.4" r="2.25"/><circle cx="251.9" cy="191.3" r="2.25"/><circle cx="264.1" cy="181.8" r="2.25"/><circle cx="275.6" cy="171.2" r="2.25"/><circle cx="278.1" cy="173.2" r="2.25"/><circle cx="279.2" cy="171.8" r="2.25"/><circle cx="316.9" cy="154.2" r="2.25"/><circle cx="264.1" cy="180.7" r="2.25"/><circle cx="258.8" cy="180.8" r="2.25"/><circle cx="294.2" cy="163.6" r="2.25"/><circle cx="319.4" cy="152.4" r="2.25"/><circle cx="316.4" cy="151.9" r="2.25"/><circle cx="311.8" cy="154.1" r="2.25"/><circle cx="247.5" cy="189.5" r="2.25"/><circle cx="318.1" cy="152.3" r="2.25"/><circle cx="292.6" cy="165.6" r="2.25"/><circle cx="310.9" cy="158.5" r="2.25"/><circle cx="275.0" cy="172.3" r="2.25"/><circle cx="261.2" cy="182.5" r="2.25"/><circle cx="304.1" cy="162.0" r="2.25"/><circle cx="293.5" cy="169.4" r="2.25"/><circle cx="302.9" cy="164.0" r="2.25"/><circle cx="259.8" cy="179.7" r="2.25"/><circle cx="254.4" cy="187.9" r="2.25"/><circle cx="301.7" cy="160.8" r="2.25"/><circle cx="241.8" cy="192.6" r="2.25"/><circle cx="319.2" cy="151.2" r="2.25"/><circle cx="254.5" cy="184.4" r="2.25"/><circle cx="288.8" cy="169.6" r="2.25"/><circle cx="275.7" cy="174.9" r="2.25"/><circle cx="268.9" cy="177.8" r="2.25"/><circle cx="257.4" cy="183.9" r="2.25"/><circle cx="303.0" cy="161.2" r="2.25"/><circle cx="315.4" cy="155.1" r="2.25"/><circle cx="298.8" cy="161.7" r="2.25"/><circle cx="288.8" cy="165.1" r="2.25"/><circle cx="297.4" cy="162.6" r="2.25"/><circle cx="284.1" cy="171.8" r="2.25"/><circle cx="285.7" cy="168.6" r="2.25"/><circle cx="314.5" cy="154.9" r="2.25"/><circle cx="265.9" cy="178.6" r="2.25"/><circle cx="261.4" cy="178.2" r="2.25"/><circle cx="319.4" cy="152.6" r="2.25"/><circle cx="318.9" cy="152.5" r="2.25"/><circle cx="279.7" cy="174.2" r="2.25"/><circle cx="304.7" cy="160.9" r="2.25"/><circle cx="300.0" cy="163.8" r="2.25"/><circle cx="319.7" cy="148.5" r="2.25"/><circle cx="249.4" cy="187.5" r="2.25"/><circle cx="313.6" cy="156.7" r="2.25"/><circle cx="281.5" cy="167.4" r="2.25"/><circle cx="277.8" cy="176.0" r="2.25"/><circle cx="295.5" cy="162.9" r="2.25"/><circle cx="290.1" cy="165.2" r="2.25"/><circle cx="276.9" cy="172.5" r="2.25"/><circle cx="266.5" cy="179.8" r="2.25"/><circle cx="315.9" cy="154.5" r="2.25"/><circle cx="306.3" cy="160.3" r="2.25"/><circle cx="251.5" cy="185.5" r="2.25"/><circle cx="274.7" cy="179.7" r="2.25"/><circle cx="301.6" cy="162.9" r="2.25"/><circle cx="311.7" cy="156.2" r="2.25"/><circle cx="321.6" cy="152.1" r="2.25"/><circle cx="262.8" cy="185.1" r="2.25"/><circle cx="312.9" cy="156.4" r="2.25"/><circle cx="296.1" cy="166.1" r="2.25"/><circle cx="248.0" cy="187.3" r="2.25"/><circle cx="260.5" cy="179.6" r="2.25"/><circle cx="258.8" cy="183.3" r="2.25"/><circle cx="249.0" cy="192.1" r="2.25"/><circle cx="295.5" cy="165.2" r="2.25"/><circle cx="267.9" cy="180.5" r="2.25"/><circle cx="295.9" cy="163.1" r="2.25"/><circle cx="249.4" cy="184.8" r="2.25"/><circle cx="310.9" cy="156.3" r="2.25"/><circle cx="296.2" cy="159.9" r="2.25"/><circle cx="303.2" cy="157.7" r="2.25"/><circle cx="289.3" cy="166.2" r="2.25"/><circle cx="278.4" cy="174.8" r="2.25"/><circle cx="259.2" cy="182.8" r="2.25"/><circle cx="318.8" cy="155.4" r="2.25"/><circle cx="255.4" cy="182.8" r="2.25"/><circle cx="283.0" cy="170.3" r="2.25"/><circle cx="253.3" cy="183.2" r="2.25"/><circle cx="252.1" cy="186.0" r="2.25"/><circle cx="296.3" cy="168.3" r="2.25"/><circle cx="312.6" cy="154.3" r="2.25"/><circle cx="278.7" cy="170.6" r="2.25"/><circle cx="304.2" cy="156.5" r="2.25"/><circle cx="309.8" cy="159.5" r="2.25"/><circle cx="284.0" cy="171.9" r="2.25"/><circle cx="302.6" cy="160.8" r="2.25"/><circle cx="266.7" cy="181.1" r="2.25"/><circle cx="255.8" cy="187.5" r="2.25"/><circle cx="258.9" cy="185.4" r="2.25"/><circle cx="239.6" cy="188.9" r="2.25"/><circle cx="248.3" cy="189.6" r="2.25"/><circle cx="300.6" cy="164.3" r="2.25"/><circle cx="314.2" cy="155.9" r="2.25"/><circle cx="246.7" cy="189.3" r="2.25"/><circle cx="298.2" cy="160.4" r="2.25"/><circle cx="302.8" cy="158.9" r="2.25"/><circle cx="295.1" cy="163.0" r="2.25"/><circle cx="281.4" cy="171.2" r="2.25"/><circle cx="280.4" cy="171.5" r="2.25"/><circle cx="296.1" cy="165.6" r="2.25"/><circle cx="263.1" cy="184.0" r="2.25"/><circle cx="300.8" cy="157.5" r="2.25"/><circle cx="259.1" cy="184.0" r="2.25"/><circle cx="243.9" cy="188.8" r="2.25"/><circle cx="317.7" cy="153.6" r="2.25"/><circle cx="250.3" cy="187.6" r="2.25"/><circle cx="259.4" cy="183.2" r="2.25"/><circle cx="246.5" cy="192.0" r="2.25"/><circle cx="240.2" cy="192.7" r="2.25"/><circle cx="253.5" cy="185.1" r="2.25"/><circle cx="316.2" cy="152.0" r="2.25"/><circle cx="296.2" cy="163.1" r="2.25"/><circle cx="274.7" cy="172.5" r="2.25"/><circle cx="239.5" cy="192.4" r="2.25"/><circle cx="307.1" cy="159.0" r="2.25"/><circle cx="280.4" cy="176.0" r="2.25"/><circle cx="309.3" cy="159.0" r="2.25"/><circle cx="281.8" cy="167.9" r="2.25"/><circle cx="249.1" cy="187.9" r="2.25"/><circle cx="248.6" cy="186.8" r="2.25"/><circle cx="303.8" cy="161.0" r="2.25"/><circle cx="261.4" cy="183.3" r="2.25"/><circle cx="255.8" cy="180.6" r="2.25"/><circle cx="275.0" cy="173.8" r="2.25"/><circle cx="264.3" cy="177.1" r="2.25"/><circle cx="265.5" cy="178.6" r="2.25"/><circle cx="304.1" cy="161.1" r="2.25"/><circle cx="279.3" cy="177.1" r="2.25"/><circle cx="327.8" cy="147.0" r="2.25"/><circle cx="251.1" cy="190.2" r="2.25"/><circle cx="266.8" cy="183.6" r="2.25"/><circle cx="311.9" cy="153.5" r="2.25"/><circle cx="276.9" cy="172.0" r="2.25"/><circle cx="302.1" cy="159.9" r="2.25"/><circle cx="276.7" cy="173.5" r="2.25"/><circle cx="274.8" cy="174.7" r="2.25"/><circle cx="312.4" cy="155.1" r="2.25"/><circle cx="268.2" cy="177.9" r="2.25"/><circle cx="284.8" cy="169.6" r="2.25"/><circle cx="286.2" cy="167.5" r="2.25"/><circle cx="245.0" cy="194.6" r="2.25"/><circle cx="251.2" cy="185.3" r="2.25"/><circle cx="262.4" cy="182.6" r="2.25"/><circle cx="238.8" cy="191.8" r="2.25"/><circle cx="295.2" cy="162.1" r="2.25"/><circle cx="287.2" cy="170.4" r="2.25"/><circle cx="270.2" cy="175.5" r="2.25"/><circle cx="275.7" cy="172.6" r="2.25"/><circle cx="244.7" cy="191.7" r="2.25"/><circle cx="274.4" cy="176.0" r="2.25"/><circle cx="308.2" cy="158.2" r="2.25"/><circle cx="244.3" cy="194.7" r="2.25"/><circle cx="292.9" cy="166.9" r="2.25"/><circle cx="344.2" cy="141.2" r="2.25"/><circle cx="359.9" cy="136.8" r="2.25"/><circle cx="335.1" cy="144.5" r="2.25"/></g><g fill="#ff0000" fill-opacity="0.78" stroke="#fff" stroke-opacity="0.9" stroke-width="0.4"><circle cx="303.6" cy="172.5" r="2.25"/><circle cx="302.8" cy="165.3" r="2.25"/><circle cx="299.1" cy="163.6" r="2.25"/><circle cx="262.7" cy="175.3" r="2.25"/><circle cx="250.7" cy="195.8" r="2.25"/><circle cx="311.6" cy="172.2" r="2.25"/><circle cx="284.6" cy="178.4" r="2.25"/><circle cx="244.3" cy="194.2" r="2.25"/><circle cx="307.8" cy="170.4" r="2.25"/><circle cx="316.9" cy="157.0" r="2.25"/><circle cx="264.3" cy="179.7" r="2.25"/><circle cx="299.3" cy="173.8" r="2.25"/><circle cx="251.1" cy="179.0" r="2.25"/><circle cx="273.7" cy="174.4" r="2.25"/><circle cx="299.6" cy="169.1" r="2.25"/><circle cx="271.9" cy="179.3" r="2.25"/><circle cx="278.5" cy="173.5" r="2.25"/><circle cx="253.4" cy="179.2" r="2.25"/><circle cx="299.3" cy="180.1" r="2.25"/><circle cx="277.3" cy="182.9" r="2.25"/><circle cx="261.9" cy="172.7" r="2.25"/><circle cx="296.3" cy="165.8" r="2.25"/><circle cx="316.0" cy="168.7" r="2.25"/><circle cx="279.8" cy="179.1" r="2.25"/><circle cx="293.3" cy="171.9" r="2.25"/><circle cx="318.3" cy="171.5" r="2.25"/><circle cx="247.0" cy="187.7" r="2.25"/><circle cx="283.6" cy="163.3" r="2.25"/><circle cx="314.2" cy="166.0" r="2.25"/><circle cx="253.4" cy="175.2" r="2.25"/><circle cx="260.2" cy="180.6" r="2.25"/><circle cx="280.5" cy="171.0" r="2.25"/><circle cx="292.2" cy="163.5" r="2.25"/><circle cx="280.7" cy="180.7" r="2.25"/><circle cx="280.4" cy="175.1" r="2.25"/><circle cx="248.8" cy="185.4" r="2.25"/><circle cx="293.4" cy="169.3" r="2.25"/><circle cx="266.4" cy="168.4" r="2.25"/><circle cx="250.5" cy="179.5" r="2.25"/><circle cx="313.0" cy="174.5" r="2.25"/><circle cx="287.7" cy="173.3" r="2.25"/><circle cx="274.7" cy="179.6" r="2.25"/><circle cx="293.0" cy="176.0" r="2.25"/><circle cx="276.1" cy="162.4" r="2.25"/><circle cx="253.9" cy="187.4" r="2.25"/><circle cx="284.0" cy="171.2" r="2.25"/><circle cx="294.0" cy="174.6" r="2.25"/><circle cx="293.8" cy="166.1" r="2.25"/><circle cx="280.6" cy="171.1" r="2.25"/><circle cx="309.6" cy="167.2" r="2.25"/><circle cx="311.5" cy="167.7" r="2.25"/><circle cx="304.5" cy="162.9" r="2.25"/><circle cx="269.6" cy="181.5" r="2.25"/><circle cx="263.1" cy="182.5" r="2.25"/><circle cx="279.2" cy="179.7" r="2.25"/><circle cx="287.4" cy="164.5" r="2.25"/><circle cx="256.2" cy="182.4" r="2.25"/><circle cx="281.1" cy="178.9" r="2.25"/><circle cx="273.7" cy="177.2" r="2.25"/><circle cx="244.2" cy="175.9" r="2.25"/><circle cx="272.5" cy="175.8" r="2.25"/><circle cx="271.3" cy="170.8" r="2.25"/><circle cx="313.7" cy="164.4" r="2.25"/><circle cx="249.0" cy="184.4" r="2.25"/><circle cx="309.6" cy="171.4" r="2.25"/><circle cx="307.6" cy="170.1" r="2.25"/><circle cx="283.7" cy="174.5" r="2.25"/><circle cx="257.9" cy="192.5" r="2.25"/><circle cx="297.5" cy="157.7" r="2.25"/><circle cx="256.3" cy="175.5" r="2.25"/><circle cx="266.4" cy="176.6" r="2.25"/><circle cx="288.2" cy="172.9" r="2.25"/><circle cx="350.5" cy="149.7" r="2.25"/><circle cx="336.6" cy="149.7" r="2.25"/></g></g>
<line x1="207.48" y1="220.88" x2="361.32" y2="126.73" stroke="#111" stroke-width="1.05" stroke-dasharray="3.2 1.4"/>
<rect x="199.80" y="122.03" width="169.2" height="103.55" fill="none" stroke="#939393" stroke-width="1"/>
<path d="M215.60 225.58v1.6M199.80 215.91h-1.6M244.06 225.58v1.6M199.80 198.50h-1.6M272.52 225.58v1.6M199.80 181.08h-1.6M300.98 225.58v1.6M199.80 163.66h-1.6M329.44 225.58v1.6M199.80 146.24h-1.6M357.90 225.58v1.6M199.80 128.82h-1.6" stroke="#444" stroke-width="0.8" fill="none"/>
<text transform="translate(284.40,130.33) scale(0.97,1)" text-anchor="middle" class="tb">Wheat</text>
<clipPath id="cp12"><rect x="375.30" y="122.03" width="169.2" height="103.55"/></clipPath>
<g clip-path="url(#cp12)"><g fill="#0000ff" fill-opacity="0.78" stroke="#fff" stroke-opacity="0.9" stroke-width="0.4"><circle cx="486.4" cy="157.1" r="2.25"/><circle cx="449.2" cy="184.1" r="2.25"/><circle cx="475.1" cy="172.2" r="2.25"/><circle cx="489.2" cy="165.7" r="2.25"/><circle cx="470.1" cy="167.2" r="2.25"/><circle cx="463.1" cy="166.2" r="2.25"/><circle cx="480.2" cy="157.1" r="2.25"/><circle cx="476.2" cy="164.7" r="2.25"/><circle cx="457.1" cy="180.0" r="2.25"/><circle cx="464.9" cy="173.0" r="2.25"/><circle cx="478.8" cy="170.5" r="2.25"/><circle cx="424.3" cy="200.1" r="2.25"/><circle cx="470.6" cy="163.0" r="2.25"/><circle cx="477.9" cy="165.2" r="2.25"/><circle cx="452.1" cy="176.9" r="2.25"/><circle cx="460.1" cy="175.2" r="2.25"/><circle cx="439.0" cy="179.7" r="2.25"/><circle cx="470.8" cy="161.1" r="2.25"/><circle cx="503.2" cy="152.5" r="2.25"/><circle cx="444.5" cy="184.2" r="2.25"/><circle cx="456.8" cy="178.8" r="2.25"/><circle cx="492.4" cy="149.5" r="2.25"/><circle cx="463.3" cy="166.3" r="2.25"/><circle cx="453.8" cy="178.7" r="2.25"/><circle cx="472.3" cy="156.3" r="2.25"/><circle cx="419.9" cy="195.9" r="2.25"/><circle cx="433.1" cy="194.1" r="2.25"/><circle cx="490.3" cy="166.5" r="2.25"/><circle cx="433.4" cy="189.2" r="2.25"/><circle cx="419.7" cy="194.9" r="2.25"/><circle cx="496.4" cy="155.9" r="2.25"/><circle cx="479.3" cy="161.4" r="2.25"/><circle cx="504.5" cy="142.9" r="2.25"/><circle cx="479.9" cy="163.0" r="2.25"/><circle cx="496.0" cy="149.6" r="2.25"/><circle cx="448.0" cy="173.1" r="2.25"/><circle cx="479.5" cy="160.7" r="2.25"/><circle cx="433.9" cy="190.8" r="2.25"/><circle cx="485.7" cy="157.5" r="2.25"/><circle cx="477.6" cy="161.6" r="2.25"/><circle cx="436.1" cy="177.8" r="2.25"/><circle cx="435.5" cy="189.4" r="2.25"/><circle cx="434.3" cy="194.9" r="2.25"/><circle cx="485.3" cy="158.4" r="2.25"/><circle cx="472.0" cy="165.7" r="2.25"/><circle cx="443.1" cy="185.1" r="2.25"/><circle cx="471.2" cy="165.0" r="2.25"/><circle cx="473.7" cy="164.8" r="2.25"/><circle cx="473.9" cy="160.4" r="2.25"/><circle cx="509.2" cy="149.0" r="2.25"/><circle cx="487.7" cy="161.7" r="2.25"/><circle cx="454.4" cy="177.1" r="2.25"/><circle cx="422.2" cy="196.8" r="2.25"/><circle cx="439.0" cy="179.9" r="2.25"/><circle cx="425.6" cy="190.5" r="2.25"/><circle cx="482.1" cy="161.6" r="2.25"/><circle cx="482.9" cy="153.9" r="2.25"/><circle cx="437.9" cy="183.9" r="2.25"/><circle cx="499.4" cy="146.8" r="2.25"/><circle cx="446.3" cy="177.9" r="2.25"/><circle cx="457.1" cy="176.3" r="2.25"/><circle cx="465.5" cy="171.5" r="2.25"/><circle cx="509.9" cy="144.9" r="2.25"/><circle cx="492.9" cy="160.4" r="2.25"/><circle cx="432.3" cy="190.7" r="2.25"/><circle cx="492.6" cy="151.6" r="2.25"/><circle cx="437.0" cy="185.3" r="2.25"/><circle cx="483.8" cy="165.0" r="2.25"/><circle cx="472.5" cy="156.1" r="2.25"/><circle cx="432.9" cy="193.3" r="2.25"/><circle cx="423.1" cy="191.8" r="2.25"/><circle cx="496.8" cy="149.6" r="2.25"/><circle cx="415.0" cy="193.8" r="2.25"/><circle cx="432.6" cy="192.8" r="2.25"/><circle cx="503.9" cy="148.5" r="2.25"/><circle cx="474.6" cy="166.7" r="2.25"/><circle cx="464.2" cy="166.2" r="2.25"/><circle cx="456.1" cy="174.3" r="2.25"/><circle cx="464.8" cy="169.2" r="2.25"/><circle cx="456.8" cy="173.1" r="2.25"/><circle cx="424.6" cy="185.3" r="2.25"/><circle cx="439.2" cy="182.4" r="2.25"/><circle cx="445.6" cy="177.8" r="2.25"/><circle cx="459.3" cy="178.6" r="2.25"/><circle cx="451.7" cy="175.2" r="2.25"/><circle cx="476.7" cy="170.3" r="2.25"/><circle cx="483.8" cy="156.0" r="2.25"/><circle cx="480.7" cy="161.4" r="2.25"/><circle cx="456.7" cy="179.7" r="2.25"/><circle cx="451.6" cy="183.6" r="2.25"/><circle cx="418.6" cy="196.9" r="2.25"/><circle cx="448.6" cy="179.4" r="2.25"/><circle cx="482.3" cy="163.8" r="2.25"/><circle cx="448.3" cy="181.6" r="2.25"/><circle cx="443.5" cy="184.2" r="2.25"/><circle cx="433.8" cy="190.4" r="2.25"/><circle cx="469.5" cy="169.2" r="2.25"/><circle cx="459.6" cy="172.6" r="2.25"/><circle cx="422.1" cy="189.3" r="2.25"/><circle cx="440.0" cy="181.8" r="2.25"/><circle cx="425.8" cy="194.8" r="2.25"/><circle cx="433.1" cy="181.4" r="2.25"/><circle cx="441.3" cy="178.6" r="2.25"/><circle cx="425.7" cy="193.6" r="2.25"/><circle cx="507.2" cy="141.7" r="2.25"/><circle cx="469.5" cy="170.7" r="2.25"/><circle cx="430.0" cy="193.3" r="2.25"/><circle cx="461.4" cy="176.1" r="2.25"/><circle cx="451.9" cy="170.5" r="2.25"/><circle cx="436.3" cy="186.0" r="2.25"/><circle cx="453.1" cy="175.8" r="2.25"/><circle cx="464.4" cy="170.7" r="2.25"/><circle cx="428.2" cy="192.7" r="2.25"/><circle cx="500.4" cy="148.0" r="2.25"/><circle cx="459.3" cy="170.6" r="2.25"/><circle cx="425.9" cy="184.1" r="2.25"/><circle cx="473.7" cy="169.7" r="2.25"/><circle cx="499.4" cy="143.8" r="2.25"/><circle cx="417.4" cy="194.3" r="2.25"/><circle cx="473.4" cy="174.0" r="2.25"/><circle cx="487.1" cy="153.5" r="2.25"/><circle cx="455.6" cy="168.3" r="2.25"/><circle cx="425.7" cy="187.7" r="2.25"/><circle cx="479.7" cy="161.1" r="2.25"/><circle cx="447.1" cy="179.7" r="2.25"/><circle cx="444.8" cy="190.6" r="2.25"/><circle cx="480.8" cy="160.1" r="2.25"/><circle cx="415.0" cy="197.5" r="2.25"/><circle cx="440.4" cy="188.2" r="2.25"/><circle cx="494.0" cy="153.1" r="2.25"/><circle cx="433.5" cy="190.8" r="2.25"/><circle cx="425.4" cy="183.5" r="2.25"/><circle cx="427.6" cy="196.4" r="2.25"/><circle cx="461.0" cy="177.0" r="2.25"/><circle cx="450.2" cy="188.6" r="2.25"/><circle cx="460.5" cy="175.0" r="2.25"/><circle cx="495.0" cy="153.0" r="2.25"/><circle cx="440.0" cy="184.5" r="2.25"/><circle cx="480.7" cy="164.9" r="2.25"/><circle cx="465.5" cy="166.4" r="2.25"/><circle cx="469.0" cy="167.4" r="2.25"/><circle cx="419.4" cy="191.3" r="2.25"/><circle cx="422.3" cy="194.8" r="2.25"/><circle cx="432.9" cy="196.2" r="2.25"/><circle cx="455.3" cy="176.9" r="2.25"/><circle cx="449.6" cy="184.0" r="2.25"/><circle cx="444.5" cy="178.5" r="2.25"/><circle cx="489.7" cy="159.8" r="2.25"/><circle cx="464.4" cy="172.3" r="2.25"/><circle cx="447.4" cy="180.7" r="2.25"/><circle cx="467.6" cy="176.6" r="2.25"/><circle cx="490.2" cy="158.6" r="2.25"/><circle cx="436.3" cy="183.0" r="2.25"/><circle cx="452.1" cy="180.7" r="2.25"/><circle cx="437.7" cy="186.8" r="2.25"/><circle cx="460.5" cy="172.8" r="2.25"/><circle cx="431.2" cy="192.6" r="2.25"/><circle cx="447.6" cy="182.0" r="2.25"/><circle cx="509.0" cy="143.4" r="2.25"/><circle cx="495.6" cy="155.3" r="2.25"/><circle cx="416.8" cy="197.4" r="2.25"/><circle cx="448.2" cy="181.0" r="2.25"/><circle cx="484.7" cy="164.9" r="2.25"/><circle cx="487.1" cy="164.7" r="2.25"/><circle cx="445.6" cy="172.9" r="2.25"/><circle cx="471.5" cy="160.9" r="2.25"/><circle cx="480.2" cy="163.1" r="2.25"/><circle cx="452.4" cy="173.7" r="2.25"/><circle cx="429.7" cy="185.9" r="2.25"/><circle cx="482.2" cy="156.9" r="2.25"/><circle cx="477.8" cy="165.6" r="2.25"/><circle cx="464.1" cy="178.3" r="2.25"/><circle cx="481.7" cy="167.6" r="2.25"/><circle cx="507.4" cy="147.4" r="2.25"/><circle cx="438.4" cy="179.8" r="2.25"/><circle cx="415.4" cy="192.4" r="2.25"/><circle cx="468.8" cy="170.0" r="2.25"/><circle cx="436.0" cy="188.6" r="2.25"/><circle cx="489.9" cy="151.4" r="2.25"/><circle cx="480.0" cy="153.0" r="2.25"/><circle cx="510.6" cy="129.7" r="2.25"/><circle cx="536.8" cy="130.7" r="2.25"/><circle cx="527.7" cy="146.1" r="2.25"/><circle cx="519.2" cy="139.3" r="2.25"/></g><g fill="#ff0000" fill-opacity="0.78" stroke="#fff" stroke-opacity="0.9" stroke-width="0.4"><circle cx="470.2" cy="165.3" r="2.25"/><circle cx="480.2" cy="170.0" r="2.25"/><circle cx="447.0" cy="176.5" r="2.25"/><circle cx="424.8" cy="187.2" r="2.25"/><circle cx="462.0" cy="166.6" r="2.25"/><circle cx="433.4" cy="182.2" r="2.25"/><circle cx="472.2" cy="175.3" r="2.25"/><circle cx="447.1" cy="182.2" r="2.25"/><circle cx="454.5" cy="179.9" r="2.25"/><circle cx="499.0" cy="151.3" r="2.25"/><circle cx="477.2" cy="163.5" r="2.25"/><circle cx="482.8" cy="154.5" r="2.25"/><circle cx="460.9" cy="168.5" r="2.25"/><circle cx="493.5" cy="159.7" r="2.25"/><circle cx="421.9" cy="189.8" r="2.25"/><circle cx="487.3" cy="149.1" r="2.25"/><circle cx="450.1" cy="177.3" r="2.25"/><circle cx="439.4" cy="193.7" r="2.25"/><circle cx="459.6" cy="177.8" r="2.25"/><circle cx="493.9" cy="155.7" r="2.25"/><circle cx="446.1" cy="190.8" r="2.25"/><circle cx="489.5" cy="158.2" r="2.25"/><circle cx="455.2" cy="183.9" r="2.25"/><circle cx="497.4" cy="148.2" r="2.25"/><circle cx="475.8" cy="160.9" r="2.25"/><circle cx="477.3" cy="164.5" r="2.25"/><circle cx="448.2" cy="187.5" r="2.25"/><circle cx="463.0" cy="170.2" r="2.25"/><circle cx="440.5" cy="188.1" r="2.25"/><circle cx="478.8" cy="167.3" r="2.25"/><circle cx="441.2" cy="177.5" r="2.25"/><circle cx="468.8" cy="173.3" r="2.25"/><circle cx="427.8" cy="199.0" r="2.25"/><circle cx="440.4" cy="179.8" r="2.25"/><circle cx="448.0" cy="169.7" r="2.25"/><circle cx="435.2" cy="178.0" r="2.25"/><circle cx="441.3" cy="179.3" r="2.25"/><circle cx="437.3" cy="174.0" r="2.25"/><circle cx="424.3" cy="195.2" r="2.25"/><circle cx="446.9" cy="167.9" r="2.25"/><circle cx="455.3" cy="163.6" r="2.25"/><circle cx="451.9" cy="180.1" r="2.25"/><circle cx="488.5" cy="155.5" r="2.25"/><circle cx="428.9" cy="197.9" r="2.25"/><circle cx="465.4" cy="176.9" r="2.25"/><circle cx="447.3" cy="177.2" r="2.25"/><circle cx="422.8" cy="200.3" r="2.25"/><circle cx="476.5" cy="163.3" r="2.25"/><circle cx="452.2" cy="175.1" r="2.25"/><circle cx="499.0" cy="150.8" r="2.25"/><circle cx="476.6" cy="158.7" r="2.25"/><circle cx="485.2" cy="148.3" r="2.25"/><circle cx="461.6" cy="171.5" r="2.25"/><circle cx="446.7" cy="174.9" r="2.25"/><circle cx="483.8" cy="151.7" r="2.25"/></g></g>
<line x1="382.98" y1="220.88" x2="536.82" y2="126.73" stroke="#111" stroke-width="1.05" stroke-dasharray="3.2 1.4"/>
<rect x="375.30" y="122.03" width="169.2" height="103.55" fill="none" stroke="#939393" stroke-width="1"/>
<path d="M391.10 225.58v1.6M375.30 215.91h-1.6M419.56 225.58v1.6M375.30 198.50h-1.6M448.02 225.58v1.6M375.30 181.08h-1.6M476.48 225.58v1.6M375.30 163.66h-1.6M504.94 225.58v1.6M375.30 146.24h-1.6M533.40 225.58v1.6M375.30 128.82h-1.6" stroke="#444" stroke-width="0.8" fill="none"/>
<clipPath id="cp20"><rect x="24.50" y="231.70" width="169.2" height="103.55"/></clipPath>
<g clip-path="url(#cp20)"><g fill="#0000ff" fill-opacity="0.78" stroke="#fff" stroke-opacity="0.9" stroke-width="0.4"><circle cx="89.6" cy="302.4" r="2.25"/><circle cx="78.6" cy="314.9" r="2.25"/><circle cx="84.9" cy="305.3" r="2.25"/><circle cx="47.8" cy="318.8" r="2.25"/><circle cx="80.1" cy="299.8" r="2.25"/><circle cx="109.2" cy="287.3" r="2.25"/><circle cx="68.2" cy="313.6" r="2.25"/><circle cx="49.4" cy="315.0" r="2.25"/><circle cx="105.4" cy="292.7" r="2.25"/><circle cx="82.8" cy="309.5" r="2.25"/><circle cx="55.0" cy="322.1" r="2.25"/><circle cx="82.6" cy="303.5" r="2.25"/><circle cx="112.1" cy="289.3" r="2.25"/><circle cx="55.8" cy="315.9" r="2.25"/><circle cx="95.0" cy="307.3" r="2.25"/><circle cx="84.2" cy="302.5" r="2.25"/><circle cx="56.5" cy="315.6" r="2.25"/><circle cx="54.2" cy="317.6" r="2.25"/><circle cx="104.8" cy="294.5" r="2.25"/><circle cx="63.5" cy="315.5" r="2.25"/><circle cx="69.2" cy="306.0" r="2.25"/><circle cx="81.6" cy="303.5" r="2.25"/><circle cx="69.2" cy="311.1" r="2.25"/><circle cx="39.4" cy="319.0" r="2.25"/><circle cx="58.8" cy="312.5" r="2.25"/><circle cx="71.0" cy="314.7" r="2.25"/><circle cx="88.2" cy="301.2" r="2.25"/><circle cx="78.6" cy="306.8" r="2.25"/><circle cx="68.6" cy="316.6" r="2.25"/><circle cx="54.6" cy="316.5" r="2.25"/><circle cx="89.8" cy="298.0" r="2.25"/><circle cx="54.4" cy="316.4" r="2.25"/><circle cx="85.8" cy="295.4" r="2.25"/><circle cx="72.4" cy="299.6" r="2.25"/><circle cx="75.5" cy="307.4" r="2.25"/><circle cx="66.0" cy="307.3" r="2.25"/><circle cx="55.4" cy="305.4" r="2.25"/><circle cx="53.2" cy="315.6" r="2.25"/><circle cx="80.7" cy="307.9" r="2.25"/><circle cx="59.8" cy="313.8" r="2.25"/><circle cx="41.4" cy="323.1" r="2.25"/><circle cx="54.7" cy="319.3" r="2.25"/><circle cx="101.0" cy="294.1" r="2.25"/><circle cx="85.0" cy="303.9" r="2.25"/><circle cx="77.1" cy="304.2" r="2.25"/><circle cx="67.0" cy="307.2" r="2.25"/><circle cx="92.2" cy="302.1" r="2.25"/><circle cx="59.0" cy="313.1" r="2.25"/><circle cx="80.2" cy="305.3" r="2.25"/><circle cx="41.1" cy="321.1" r="2.25"/><circle cx="81.0" cy="307.6" r="2.25"/><circle cx="107.6" cy="290.8" r="2.25"/><circle cx="84.8" cy="302.8" r="2.25"/><circle cx="46.9" cy="315.3" r="2.25"/><circle cx="77.8" cy="300.5" r="2.25"/><circle cx="62.2" cy="306.7" r="2.25"/><circle cx="100.8" cy="299.5" r="2.25"/><circle cx="41.8" cy="321.4" r="2.25"/><circle cx="41.1" cy="319.9" r="2.25"/><circle cx="48.3" cy="315.6" r="2.25"/><circle cx="63.5" cy="306.6" r="2.25"/><circle cx="97.3" cy="300.6" r="2.25"/><circle cx="76.2" cy="307.7" r="2.25"/><circle cx="82.0" cy="302.2" r="2.25"/><circle cx="44.4" cy="313.4" r="2.25"/><circle cx="53.6" cy="308.7" r="2.25"/><circle cx="65.8" cy="314.2" r="2.25"/><circle cx="79.9" cy="305.2" r="2.25"/><circle cx="87.6" cy="304.5" r="2.25"/><circle cx="76.8" cy="301.6" r="2.25"/><circle cx="60.0" cy="310.0" r="2.25"/><circle cx="53.9" cy="315.5" r="2.25"/><circle cx="68.1" cy="311.7" r="2.25"/><circle cx="58.6" cy="311.2" r="2.25"/><circle cx="88.1" cy="296.3" r="2.25"/><circle cx="98.2" cy="299.3" r="2.25"/><circle cx="91.2" cy="300.7" r="2.25"/><circle cx="50.0" cy="315.0" r="2.25"/><circle cx="90.0" cy="299.7" r="2.25"/><circle cx="41.5" cy="317.9" r="2.25"/><circle cx="51.0" cy="319.0" r="2.25"/><circle cx="84.3" cy="305.0" r="2.25"/><circle cx="62.5" cy="320.1" r="2.25"/><circle cx="92.9" cy="298.3" r="2.25"/><circle cx="83.5" cy="297.9" r="2.25"/><circle cx="80.6" cy="313.2" r="2.25"/><circle cx="78.3" cy="307.7" r="2.25"/><circle cx="100.1" cy="291.7" r="2.25"/><circle cx="93.3" cy="299.0" r="2.25"/><circle cx="43.0" cy="324.4" r="2.25"/><circle cx="110.0" cy="286.5" r="2.25"/><circle cx="68.7" cy="315.2" r="2.25"/><circle cx="60.9" cy="305.7" r="2.25"/><circle cx="96.2" cy="299.5" r="2.25"/><circle cx="100.7" cy="297.9" r="2.25"/><circle cx="89.0" cy="300.1" r="2.25"/><circle cx="85.5" cy="301.9" r="2.25"/><circle cx="40.9" cy="317.4" r="2.25"/><circle cx="59.8" cy="309.8" r="2.25"/><circle cx="91.8" cy="299.7" r="2.25"/><circle cx="114.2" cy="283.9" r="2.25"/><circle cx="60.1" cy="308.9" r="2.25"/><circle cx="88.2" cy="299.4" r="2.25"/><circle cx="49.5" cy="315.1" r="2.25"/><circle cx="87.3" cy="301.4" r="2.25"/><circle cx="64.5" cy="310.6" r="2.25"/><circle cx="46.9" cy="314.1" r="2.25"/><circle cx="53.6" cy="312.3" r="2.25"/><circle cx="76.4" cy="305.5" r="2.25"/><circle cx="71.0" cy="303.2" r="2.25"/><circle cx="83.5" cy="303.9" r="2.25"/><circle cx="64.0" cy="308.5" r="2.25"/><circle cx="78.1" cy="301.1" r="2.25"/><circle cx="65.6" cy="314.8" r="2.25"/><circle cx="88.7" cy="301.6" r="2.25"/><circle cx="40.4" cy="314.5" r="2.25"/><circle cx="77.6" cy="309.5" r="2.25"/><circle cx="77.5" cy="299.9" r="2.25"/><circle cx="45.5" cy="320.9" r="2.25"/><circle cx="88.4" cy="298.7" r="2.25"/><circle cx="80.3" cy="308.9" r="2.25"/><circle cx="104.3" cy="295.9" r="2.25"/><circle cx="54.4" cy="315.4" r="2.25"/><circle cx="68.3" cy="311.3" r="2.25"/><circle cx="95.9" cy="293.0" r="2.25"/><circle cx="103.6" cy="290.5" r="2.25"/><circle cx="83.3" cy="298.8" r="2.25"/><circle cx="64.3" cy="309.5" r="2.25"/><circle cx="87.1" cy="293.9" r="2.25"/><circle cx="70.0" cy="303.6" r="2.25"/><circle cx="74.5" cy="304.9" r="2.25"/><circle cx="82.9" cy="307.7" r="2.25"/><circle cx="101.9" cy="291.8" r="2.25"/><circle cx="40.7" cy="317.3" r="2.25"/><circle cx="84.2" cy="302.0" r="2.25"/><circle cx="100.3" cy="292.3" r="2.25"/><circle cx="65.5" cy="306.5" r="2.25"/><circle cx="57.4" cy="314.1" r="2.25"/><circle cx="76.5" cy="303.0" r="2.25"/><circle cx="43.1" cy="317.0" r="2.25"/><circle cx="91.3" cy="297.9" r="2.25"/><circle cx="71.9" cy="309.0" r="2.25"/><circle cx="82.0" cy="305.4" r="2.25"/><circle cx="89.5" cy="299.5" r="2.25"/><circle cx="42.0" cy="314.2" r="2.25"/><circle cx="54.5" cy="304.6" r="2.25"/><circle cx="67.9" cy="310.7" r="2.25"/><circle cx="78.9" cy="309.4" r="2.25"/><circle cx="65.0" cy="311.6" r="2.25"/><circle cx="59.9" cy="315.5" r="2.25"/><circle cx="42.6" cy="319.7" r="2.25"/><circle cx="68.5" cy="307.0" r="2.25"/><circle cx="103.0" cy="297.7" r="2.25"/><circle cx="43.1" cy="316.2" r="2.25"/><circle cx="78.3" cy="301.3" r="2.25"/><circle cx="55.4" cy="307.4" r="2.25"/><circle cx="107.5" cy="285.1" r="2.25"/><circle cx="91.4" cy="294.9" r="2.25"/><circle cx="56.2" cy="303.9" r="2.25"/><circle cx="107.4" cy="294.1" r="2.25"/><circle cx="61.8" cy="310.0" r="2.25"/><circle cx="83.7" cy="301.9" r="2.25"/><circle cx="58.9" cy="310.4" r="2.25"/><circle cx="60.7" cy="307.3" r="2.25"/><circle cx="45.9" cy="318.1" r="2.25"/><circle cx="60.8" cy="304.3" r="2.25"/><circle cx="67.5" cy="303.5" r="2.25"/><circle cx="42.8" cy="317.2" r="2.25"/><circle cx="41.1" cy="317.7" r="2.25"/><circle cx="40.9" cy="322.0" r="2.25"/><circle cx="97.1" cy="306.2" r="2.25"/><circle cx="67.8" cy="309.4" r="2.25"/><circle cx="100.5" cy="293.9" r="2.25"/><circle cx="71.4" cy="306.6" r="2.25"/><circle cx="75.9" cy="310.8" r="2.25"/><circle cx="65.3" cy="311.9" r="2.25"/><circle cx="89.5" cy="292.4" r="2.25"/><circle cx="63.7" cy="307.3" r="2.25"/><circle cx="91.5" cy="296.5" r="2.25"/><circle cx="66.5" cy="310.9" r="2.25"/><circle cx="50.4" cy="312.4" r="2.25"/><circle cx="67.9" cy="303.2" r="2.25"/><circle cx="43.0" cy="315.7" r="2.25"/><circle cx="66.2" cy="311.4" r="2.25"/><circle cx="66.2" cy="308.3" r="2.25"/><circle cx="84.7" cy="306.0" r="2.25"/><circle cx="114.5" cy="289.5" r="2.25"/><circle cx="52.3" cy="312.3" r="2.25"/><circle cx="78.8" cy="307.0" r="2.25"/><circle cx="93.7" cy="299.1" r="2.25"/><circle cx="83.2" cy="296.4" r="2.25"/><circle cx="57.2" cy="313.6" r="2.25"/><circle cx="68.0" cy="305.5" r="2.25"/><circle cx="102.2" cy="295.5" r="2.25"/><circle cx="73.7" cy="311.8" r="2.25"/><circle cx="82.8" cy="302.9" r="2.25"/><circle cx="61.7" cy="312.8" r="2.25"/><circle cx="90.4" cy="308.3" r="2.25"/><circle cx="76.1" cy="311.1" r="2.25"/><circle cx="90.0" cy="301.6" r="2.25"/><circle cx="40.0" cy="318.1" r="2.25"/><circle cx="41.1" cy="313.4" r="2.25"/><circle cx="93.8" cy="284.7" r="2.25"/><circle cx="56.8" cy="298.9" r="2.25"/><circle cx="115.1" cy="287.3" r="2.25"/></g></g>
<line x1="32.18" y1="330.55" x2="186.02" y2="236.40" stroke="#111" stroke-width="1.05" stroke-dasharray="3.2 1.4"/>
<rect x="24.50" y="231.70" width="169.2" height="103.55" fill="none" stroke="#939393" stroke-width="1"/>
<path d="M40.30 335.25v1.6M24.50 325.58h-1.6M68.76 335.25v1.6M24.50 308.17h-1.6M97.22 335.25v1.6M24.50 290.75h-1.6M125.68 335.25v1.6M24.50 273.33h-1.6M154.14 335.25v1.6M24.50 255.91h-1.6M182.60 335.25v1.6M24.50 238.49h-1.6" stroke="#444" stroke-width="0.8" fill="none"/>
<text transform="translate(21.60,327.93) scale(0.97,1)" text-anchor="end" class="tl">20</text>
<text transform="translate(21.60,310.52) scale(0.97,1)" text-anchor="end" class="tl">30</text>
<text transform="translate(21.60,293.10) scale(0.97,1)" text-anchor="end" class="tl">40</text>
<text transform="translate(21.60,275.68) scale(0.97,1)" text-anchor="end" class="tl">50</text>
<text transform="translate(21.60,258.26) scale(0.97,1)" text-anchor="end" class="tl">60</text>
<text transform="translate(21.60,240.84) scale(0.97,1)" text-anchor="end" class="tl">70</text>
<text transform="translate(10.80,283.87) rotate(-90) scale(0.97,1)" text-anchor="middle" class="al">Predicted</text>
<clipPath id="cp21"><rect x="199.80" y="231.70" width="169.2" height="103.55"/></clipPath>
<g clip-path="url(#cp21)"><g fill="#0000ff" fill-opacity="0.78" stroke="#fff" stroke-opacity="0.9" stroke-width="0.4"><circle cx="240.9" cy="308.2" r="2.25"/><circle cx="231.6" cy="315.3" r="2.25"/><circle cx="224.6" cy="317.7" r="2.25"/><circle cx="256.6" cy="301.5" r="2.25"/><circle cx="245.8" cy="305.6" r="2.25"/><circle cx="287.4" cy="284.3" r="2.25"/><circle cx="270.3" cy="296.7" r="2.25"/><circle cx="269.1" cy="293.5" r="2.25"/><circle cx="221.7" cy="318.1" r="2.25"/><circle cx="251.0" cy="302.6" r="2.25"/><circle cx="253.9" cy="301.4" r="2.25"/><circle cx="221.6" cy="319.6" r="2.25"/><circle cx="246.8" cy="306.9" r="2.25"/><circle cx="238.9" cy="311.0" r="2.25"/><circle cx="232.6" cy="312.7" r="2.25"/><circle cx="266.0" cy="294.2" r="2.25"/><circle cx="243.8" cy="308.2" r="2.25"/><circle cx="225.7" cy="317.8" r="2.25"/><circle cx="241.0" cy="305.6" r="2.25"/><circle cx="276.6" cy="293.6" r="2.25"/><circle cx="242.1" cy="309.1" r="2.25"/><circle cx="231.0" cy="314.2" r="2.25"/><circle cx="223.0" cy="320.1" r="2.25"/><circle cx="248.6" cy="304.6" r="2.25"/><circle cx="257.5" cy="299.5" r="2.25"/><circle cx="243.4" cy="308.6" r="2.25"/><circle cx="270.1" cy="295.0" r="2.25"/><circle cx="249.3" cy="305.9" r="2.25"/><circle cx="266.0" cy="300.1" r="2.25"/><circle cx="251.5" cy="304.0" r="2.25"/><circle cx="253.0" cy="305.9" r="2.25"/><circle cx="243.4" cy="310.2" r="2.25"/><circle cx="226.1" cy="315.8" r="2.25"/><circle cx="259.8" cy="298.6" r="2.25"/><circle cx="270.9" cy="296.2" r="2.25"/><circle cx="261.1" cy="297.5" r="2.25"/><circle cx="243.7" cy="305.3" r="2.25"/><circle cx="224.5" cy="317.0" r="2.25"/><circle cx="230.9" cy="314.3" r="2.25"/><circle cx="250.8" cy="304.5" r="2.25"/><circle cx="257.0" cy="302.3" r="2.25"/><circle cx="219.5" cy="321.1" r="2.25"/><circle cx="280.0" cy="289.0" r="2.25"/><circle cx="260.4" cy="298.6" r="2.25"/><circle cx="260.9" cy="300.4" r="2.25"/><circle cx="287.5" cy="286.8" r="2.25"/><circle cx="254.7" cy="303.9" r="2.25"/><circle cx="247.6" cy="307.7" r="2.25"/><circle cx="233.1" cy="314.9" r="2.25"/><circle cx="258.6" cy="303.4" r="2.25"/><circle cx="259.4" cy="298.8" r="2.25"/><circle cx="281.4" cy="290.0" r="2.25"/><circle cx="278.8" cy="290.6" r="2.25"/><circle cx="247.5" cy="303.4" r="2.25"/><circle cx="270.4" cy="295.7" r="2.25"/><circle cx="282.2" cy="288.0" r="2.25"/><circle cx="243.6" cy="310.8" r="2.25"/><circle cx="253.9" cy="304.3" r="2.25"/><circle cx="253.1" cy="302.4" r="2.25"/><circle cx="246.9" cy="307.3" r="2.25"/><circle cx="246.3" cy="309.6" r="2.25"/><circle cx="232.9" cy="315.9" r="2.25"/><circle cx="231.0" cy="313.6" r="2.25"/><circle cx="237.7" cy="312.7" r="2.25"/><circle cx="253.1" cy="302.5" r="2.25"/><circle cx="257.0" cy="301.1" r="2.25"/><circle cx="267.7" cy="296.8" r="2.25"/><circle cx="236.6" cy="311.7" r="2.25"/><circle cx="248.8" cy="304.6" r="2.25"/><circle cx="245.5" cy="307.5" r="2.25"/><circle cx="230.0" cy="316.2" r="2.25"/><circle cx="286.2" cy="286.4" r="2.25"/><circle cx="239.2" cy="311.0" r="2.25"/><circle cx="258.9" cy="301.0" r="2.25"/><circle cx="259.0" cy="299.6" r="2.25"/><circle cx="264.1" cy="297.4" r="2.25"/><circle cx="268.8" cy="294.0" r="2.25"/><circle cx="280.5" cy="290.2" r="2.25"/><circle cx="238.4" cy="311.6" r="2.25"/><circle cx="257.5" cy="301.9" r="2.25"/><circle cx="238.2" cy="310.2" r="2.25"/><circle cx="237.2" cy="312.7" r="2.25"/><circle cx="265.7" cy="297.9" r="2.25"/><circle cx="262.7" cy="300.2" r="2.25"/><circle cx="261.5" cy="300.6" r="2.25"/><circle cx="227.0" cy="316.4" r="2.25"/><circle cx="283.6" cy="284.4" r="2.25"/><circle cx="255.1" cy="303.2" r="2.25"/><circle cx="246.1" cy="306.8" r="2.25"/><circle cx="276.3" cy="291.9" r="2.25"/><circle cx="226.3" cy="316.7" r="2.25"/><circle cx="237.4" cy="311.2" r="2.25"/><circle cx="228.3" cy="312.1" r="2.25"/><circle cx="238.8" cy="311.0" r="2.25"/><circle cx="265.2" cy="294.7" r="2.25"/><circle cx="228.7" cy="314.1" r="2.25"/><circle cx="263.5" cy="299.8" r="2.25"/><circle cx="253.4" cy="304.6" r="2.25"/><circle cx="238.9" cy="311.3" r="2.25"/><circle cx="270.2" cy="296.9" r="2.25"/><circle cx="220.9" cy="317.2" r="2.25"/><circle cx="234.1" cy="312.0" r="2.25"/><circle cx="248.0" cy="305.4" r="2.25"/><circle cx="242.7" cy="310.6" r="2.25"/><circle cx="241.9" cy="308.4" r="2.25"/><circle cx="289.7" cy="285.9" r="2.25"/><circle cx="250.6" cy="300.9" r="2.25"/><circle cx="257.1" cy="301.7" r="2.25"/><circle cx="245.6" cy="307.0" r="2.25"/><circle cx="231.6" cy="313.1" r="2.25"/><circle cx="225.7" cy="317.5" r="2.25"/><circle cx="263.1" cy="299.2" r="2.25"/><circle cx="260.9" cy="300.2" r="2.25"/><circle cx="288.3" cy="284.5" r="2.25"/><circle cx="234.6" cy="313.7" r="2.25"/><circle cx="242.4" cy="309.2" r="2.25"/><circle cx="241.4" cy="308.9" r="2.25"/><circle cx="252.0" cy="304.9" r="2.25"/><circle cx="221.4" cy="320.9" r="2.25"/><circle cx="266.0" cy="299.1" r="2.25"/><circle cx="261.6" cy="300.0" r="2.25"/><circle cx="225.0" cy="318.6" r="2.25"/><circle cx="260.3" cy="298.3" r="2.25"/><circle cx="239.4" cy="310.3" r="2.25"/><circle cx="244.4" cy="308.1" r="2.25"/><circle cx="231.8" cy="315.5" r="2.25"/><circle cx="258.7" cy="299.8" r="2.25"/><circle cx="252.2" cy="304.7" r="2.25"/><circle cx="219.1" cy="321.4" r="2.25"/><circle cx="228.7" cy="316.3" r="2.25"/><circle cx="261.5" cy="295.3" r="2.25"/><circle cx="227.8" cy="316.7" r="2.25"/><circle cx="246.2" cy="308.7" r="2.25"/><circle cx="257.6" cy="299.4" r="2.25"/><circle cx="229.9" cy="313.4" r="2.25"/></g><g fill="#ff0000" fill-opacity="0.78" stroke="#fff" stroke-opacity="0.9" stroke-width="0.4"><circle cx="255.0" cy="311.0" r="2.25"/><circle cx="252.1" cy="303.0" r="2.25"/><circle cx="225.7" cy="314.9" r="2.25"/><circle cx="224.8" cy="309.6" r="2.25"/><circle cx="252.8" cy="303.6" r="2.25"/><circle cx="265.4" cy="298.6" r="2.25"/><circle cx="230.0" cy="311.0" r="2.25"/><circle cx="230.8" cy="307.1" r="2.25"/><circle cx="256.3" cy="303.7" r="2.25"/><circle cx="243.6" cy="310.7" r="2.25"/><circle cx="240.9" cy="302.2" r="2.25"/><circle cx="237.6" cy="304.0" r="2.25"/><circle cx="221.2" cy="306.5" r="2.25"/><circle cx="242.8" cy="307.3" r="2.25"/><circle cx="235.2" cy="311.4" r="2.25"/><circle cx="239.6" cy="313.8" r="2.25"/><circle cx="247.0" cy="315.5" r="2.25"/><circle cx="254.4" cy="309.4" r="2.25"/><circle cx="251.2" cy="302.3" r="2.25"/><circle cx="257.9" cy="306.7" r="2.25"/><circle cx="217.4" cy="325.1" r="2.25"/><circle cx="252.8" cy="301.4" r="2.25"/><circle cx="247.0" cy="308.1" r="2.25"/><circle cx="265.2" cy="302.6" r="2.25"/><circle cx="273.3" cy="300.8" r="2.25"/><circle cx="216.9" cy="317.6" r="2.25"/><circle cx="263.5" cy="299.4" r="2.25"/><circle cx="232.7" cy="317.0" r="2.25"/><circle cx="251.2" cy="305.5" r="2.25"/><circle cx="259.3" cy="304.7" r="2.25"/><circle cx="264.9" cy="296.3" r="2.25"/><circle cx="273.5" cy="303.2" r="2.25"/><circle cx="251.8" cy="297.2" r="2.25"/><circle cx="265.9" cy="298.3" r="2.25"/><circle cx="244.9" cy="299.0" r="2.25"/><circle cx="231.6" cy="312.9" r="2.25"/><circle cx="227.6" cy="308.5" r="2.25"/><circle cx="244.9" cy="304.5" r="2.25"/><circle cx="258.1" cy="309.3" r="2.25"/><circle cx="242.6" cy="307.9" r="2.25"/><circle cx="254.3" cy="305.7" r="2.25"/><circle cx="225.5" cy="316.6" r="2.25"/><circle cx="277.7" cy="300.9" r="2.25"/><circle cx="243.7" cy="312.6" r="2.25"/><circle cx="263.4" cy="303.5" r="2.25"/><circle cx="257.1" cy="301.6" r="2.25"/><circle cx="260.3" cy="305.7" r="2.25"/><circle cx="239.3" cy="314.4" r="2.25"/><circle cx="224.5" cy="309.2" r="2.25"/><circle cx="242.8" cy="308.3" r="2.25"/><circle cx="236.7" cy="308.4" r="2.25"/><circle cx="240.1" cy="308.5" r="2.25"/><circle cx="281.7" cy="298.7" r="2.25"/><circle cx="235.5" cy="306.3" r="2.25"/><circle cx="260.4" cy="304.6" r="2.25"/><circle cx="228.0" cy="311.5" r="2.25"/><circle cx="249.6" cy="311.2" r="2.25"/><circle cx="237.5" cy="315.2" r="2.25"/></g></g>
<line x1="207.48" y1="330.55" x2="361.32" y2="236.40" stroke="#111" stroke-width="1.05" stroke-dasharray="3.2 1.4"/>
<rect x="199.80" y="231.70" width="169.2" height="103.55" fill="none" stroke="#939393" stroke-width="1"/>
<path d="M215.60 335.25v1.6M199.80 325.58h-1.6M244.06 335.25v1.6M199.80 308.17h-1.6M272.52 335.25v1.6M199.80 290.75h-1.6M300.98 335.25v1.6M199.80 273.33h-1.6M329.44 335.25v1.6M199.80 255.91h-1.6M357.90 335.25v1.6M199.80 238.49h-1.6" stroke="#444" stroke-width="0.8" fill="none"/>
<text transform="translate(284.40,240.00) scale(0.97,1)" text-anchor="middle" class="tb">Rye</text>
<clipPath id="cp22"><rect x="375.30" y="231.70" width="169.2" height="103.55"/></clipPath>
<g clip-path="url(#cp22)"><g fill="#0000ff" fill-opacity="0.78" stroke="#fff" stroke-opacity="0.9" stroke-width="0.4"><circle cx="414.8" cy="310.8" r="2.25"/><circle cx="419.1" cy="308.0" r="2.25"/><circle cx="429.0" cy="301.6" r="2.25"/><circle cx="424.9" cy="309.9" r="2.25"/><circle cx="428.4" cy="298.3" r="2.25"/><circle cx="428.7" cy="307.3" r="2.25"/><circle cx="449.6" cy="293.8" r="2.25"/><circle cx="399.4" cy="326.2" r="2.25"/><circle cx="439.8" cy="296.7" r="2.25"/><circle cx="445.2" cy="291.8" r="2.25"/><circle cx="437.7" cy="294.6" r="2.25"/><circle cx="419.4" cy="306.9" r="2.25"/><circle cx="456.5" cy="288.8" r="2.25"/><circle cx="394.5" cy="324.2" r="2.25"/><circle cx="443.9" cy="297.1" r="2.25"/><circle cx="430.7" cy="303.3" r="2.25"/><circle cx="395.5" cy="321.3" r="2.25"/><circle cx="414.9" cy="314.7" r="2.25"/><circle cx="417.6" cy="310.9" r="2.25"/><circle cx="405.6" cy="314.6" r="2.25"/><circle cx="433.2" cy="300.7" r="2.25"/><circle cx="421.0" cy="308.2" r="2.25"/><circle cx="438.0" cy="301.5" r="2.25"/><circle cx="417.2" cy="308.9" r="2.25"/><circle cx="396.7" cy="320.6" r="2.25"/><circle cx="438.0" cy="293.5" r="2.25"/><circle cx="439.1" cy="298.0" r="2.25"/><circle cx="399.0" cy="316.9" r="2.25"/><circle cx="422.5" cy="311.6" r="2.25"/><circle cx="421.9" cy="301.1" r="2.25"/><circle cx="453.4" cy="296.2" r="2.25"/><circle cx="430.4" cy="303.1" r="2.25"/><circle cx="413.5" cy="313.2" r="2.25"/><circle cx="450.2" cy="295.1" r="2.25"/><circle cx="414.4" cy="312.5" r="2.25"/><circle cx="438.7" cy="300.3" r="2.25"/><circle cx="406.3" cy="315.6" r="2.25"/><circle cx="408.0" cy="314.2" r="2.25"/><circle cx="403.6" cy="313.9" r="2.25"/><circle cx="445.3" cy="291.0" r="2.25"/><circle cx="406.5" cy="310.3" r="2.25"/><circle cx="411.0" cy="311.8" r="2.25"/><circle cx="407.2" cy="318.0" r="2.25"/><circle cx="443.9" cy="287.8" r="2.25"/><circle cx="424.7" cy="304.0" r="2.25"/><circle cx="407.5" cy="322.1" r="2.25"/><circle cx="452.5" cy="289.6" r="2.25"/><circle cx="444.8" cy="295.9" r="2.25"/><circle cx="413.7" cy="314.3" r="2.25"/><circle cx="414.9" cy="313.2" r="2.25"/><circle cx="400.6" cy="318.9" r="2.25"/><circle cx="400.1" cy="321.7" r="2.25"/><circle cx="438.1" cy="297.9" r="2.25"/><circle cx="445.8" cy="295.6" r="2.25"/><circle cx="436.1" cy="300.4" r="2.25"/><circle cx="410.1" cy="312.3" r="2.25"/><circle cx="447.5" cy="293.1" r="2.25"/><circle cx="409.7" cy="308.9" r="2.25"/><circle cx="410.4" cy="312.1" r="2.25"/><circle cx="434.5" cy="303.9" r="2.25"/><circle cx="409.8" cy="313.8" r="2.25"/><circle cx="443.0" cy="290.2" r="2.25"/><circle cx="414.5" cy="305.6" r="2.25"/><circle cx="447.6" cy="296.9" r="2.25"/><circle cx="447.8" cy="291.7" r="2.25"/><circle cx="430.0" cy="304.6" r="2.25"/><circle cx="449.8" cy="294.1" r="2.25"/><circle cx="433.3" cy="306.5" r="2.25"/><circle cx="415.5" cy="316.3" r="2.25"/><circle cx="412.0" cy="313.7" r="2.25"/><circle cx="442.4" cy="295.5" r="2.25"/><circle cx="403.4" cy="315.9" r="2.25"/><circle cx="439.0" cy="301.2" r="2.25"/><circle cx="427.4" cy="305.2" r="2.25"/><circle cx="395.0" cy="321.7" r="2.25"/><circle cx="407.8" cy="315.5" r="2.25"/><circle cx="424.4" cy="313.6" r="2.25"/><circle cx="408.9" cy="317.8" r="2.25"/><circle cx="436.0" cy="299.4" r="2.25"/><circle cx="439.3" cy="296.0" r="2.25"/><circle cx="460.4" cy="291.8" r="2.25"/><circle cx="451.4" cy="289.2" r="2.25"/><circle cx="432.0" cy="309.5" r="2.25"/><circle cx="434.6" cy="296.2" r="2.25"/><circle cx="437.6" cy="301.5" r="2.25"/><circle cx="401.4" cy="318.6" r="2.25"/><circle cx="399.2" cy="322.6" r="2.25"/><circle cx="450.8" cy="296.9" r="2.25"/><circle cx="446.1" cy="296.0" r="2.25"/><circle cx="421.5" cy="307.5" r="2.25"/><circle cx="408.6" cy="318.3" r="2.25"/><circle cx="399.6" cy="317.2" r="2.25"/><circle cx="441.2" cy="298.6" r="2.25"/><circle cx="413.7" cy="311.6" r="2.25"/><circle cx="431.4" cy="304.9" r="2.25"/><circle cx="419.0" cy="311.3" r="2.25"/><circle cx="421.1" cy="308.1" r="2.25"/><circle cx="420.4" cy="313.0" r="2.25"/><circle cx="412.7" cy="310.2" r="2.25"/><circle cx="431.5" cy="306.8" r="2.25"/><circle cx="426.0" cy="303.9" r="2.25"/><circle cx="403.5" cy="321.1" r="2.25"/><circle cx="440.4" cy="298.4" r="2.25"/><circle cx="445.1" cy="297.8" r="2.25"/><circle cx="426.6" cy="300.7" r="2.25"/><circle cx="437.3" cy="293.3" r="2.25"/><circle cx="436.2" cy="301.3" r="2.25"/><circle cx="430.6" cy="301.3" r="2.25"/><circle cx="412.1" cy="312.1" r="2.25"/><circle cx="418.6" cy="306.7" r="2.25"/><circle cx="416.0" cy="307.1" r="2.25"/><circle cx="417.1" cy="303.8" r="2.25"/><circle cx="420.6" cy="307.8" r="2.25"/><circle cx="414.9" cy="317.3" r="2.25"/><circle cx="398.4" cy="318.2" r="2.25"/><circle cx="411.7" cy="314.2" r="2.25"/><circle cx="434.2" cy="301.3" r="2.25"/><circle cx="417.1" cy="305.8" r="2.25"/><circle cx="440.6" cy="292.0" r="2.25"/><circle cx="450.8" cy="292.5" r="2.25"/><circle cx="417.7" cy="305.3" r="2.25"/><circle cx="419.1" cy="307.3" r="2.25"/><circle cx="409.2" cy="311.6" r="2.25"/><circle cx="402.0" cy="318.6" r="2.25"/><circle cx="427.2" cy="299.8" r="2.25"/><circle cx="448.9" cy="295.6" r="2.25"/><circle cx="442.4" cy="296.1" r="2.25"/><circle cx="420.2" cy="305.0" r="2.25"/><circle cx="423.0" cy="310.1" r="2.25"/><circle cx="422.0" cy="305.9" r="2.25"/><circle cx="427.1" cy="302.9" r="2.25"/><circle cx="393.7" cy="320.4" r="2.25"/><circle cx="429.3" cy="297.3" r="2.25"/><circle cx="409.3" cy="321.0" r="2.25"/><circle cx="404.4" cy="313.9" r="2.25"/><circle cx="399.2" cy="318.7" r="2.25"/><circle cx="461.9" cy="284.3" r="2.25"/><circle cx="448.3" cy="291.5" r="2.25"/><circle cx="432.5" cy="303.9" r="2.25"/><circle cx="393.9" cy="324.2" r="2.25"/></g><g fill="#ff0000" fill-opacity="0.78" stroke="#fff" stroke-opacity="0.9" stroke-width="0.4"><circle cx="403.4" cy="317.4" r="2.25"/><circle cx="391.1" cy="320.2" r="2.25"/><circle cx="406.6" cy="319.9" r="2.25"/><circle cx="414.6" cy="311.6" r="2.25"/><circle cx="391.3" cy="326.2" r="2.25"/><circle cx="405.3" cy="311.2" r="2.25"/><circle cx="455.0" cy="295.7" r="2.25"/><circle cx="437.6" cy="304.7" r="2.25"/><circle cx="401.0" cy="314.7" r="2.25"/><circle cx="407.1" cy="314.6" r="2.25"/><circle cx="436.3" cy="301.3" r="2.25"/><circle cx="446.8" cy="296.5" r="2.25"/><circle cx="413.9" cy="303.7" r="2.25"/><circle cx="437.5" cy="296.5" r="2.25"/><circle cx="402.6" cy="318.4" r="2.25"/><circle cx="423.5" cy="292.6" r="2.25"/><circle cx="426.4" cy="300.0" r="2.25"/><circle cx="437.8" cy="288.1" r="2.25"/><circle cx="409.9" cy="306.0" r="2.25"/><circle cx="416.9" cy="300.4" r="2.25"/><circle cx="415.0" cy="312.2" r="2.25"/><circle cx="402.0" cy="317.9" r="2.25"/><circle cx="430.9" cy="297.3" r="2.25"/><circle cx="424.3" cy="303.8" r="2.25"/><circle cx="421.6" cy="304.2" r="2.25"/><circle cx="428.0" cy="296.4" r="2.25"/><circle cx="426.9" cy="313.3" r="2.25"/><circle cx="397.6" cy="319.5" r="2.25"/><circle cx="411.0" cy="303.1" r="2.25"/><circle cx="416.4" cy="309.5" r="2.25"/><circle cx="405.0" cy="313.4" r="2.25"/><circle cx="433.5" cy="297.3" r="2.25"/><circle cx="430.8" cy="298.9" r="2.25"/><circle cx="436.3" cy="296.3" r="2.25"/><circle cx="392.7" cy="324.9" r="2.25"/><circle cx="399.4" cy="315.6" r="2.25"/><circle cx="408.0" cy="314.7" r="2.25"/><circle cx="423.5" cy="296.1" r="2.25"/><circle cx="397.9" cy="320.6" r="2.25"/><circle cx="447.7" cy="292.3" r="2.25"/><circle cx="394.0" cy="321.1" r="2.25"/><circle cx="428.4" cy="296.1" r="2.25"/><circle cx="436.1" cy="297.4" r="2.25"/><circle cx="425.7" cy="299.3" r="2.25"/><circle cx="415.5" cy="310.5" r="2.25"/><circle cx="442.5" cy="296.8" r="2.25"/><circle cx="410.8" cy="314.8" r="2.25"/><circle cx="404.8" cy="314.5" r="2.25"/><circle cx="424.0" cy="304.9" r="2.25"/><circle cx="401.1" cy="320.9" r="2.25"/><circle cx="398.3" cy="323.0" r="2.25"/><circle cx="448.7" cy="292.4" r="2.25"/><circle cx="420.0" cy="306.2" r="2.25"/><circle cx="406.9" cy="315.7" r="2.25"/><circle cx="432.3" cy="304.1" r="2.25"/><circle cx="444.9" cy="299.5" r="2.25"/><circle cx="398.5" cy="317.2" r="2.25"/><circle cx="416.8" cy="309.6" r="2.25"/><circle cx="412.6" cy="312.4" r="2.25"/><circle cx="445.2" cy="296.8" r="2.25"/></g></g>
<line x1="382.98" y1="330.55" x2="536.82" y2="236.40" stroke="#111" stroke-width="1.05" stroke-dasharray="3.2 1.4"/>
<rect x="375.30" y="231.70" width="169.2" height="103.55" fill="none" stroke="#939393" stroke-width="1"/>
<path d="M391.10 335.25v1.6M375.30 325.58h-1.6M419.56 335.25v1.6M375.30 308.17h-1.6M448.02 335.25v1.6M375.30 290.75h-1.6M476.48 335.25v1.6M375.30 273.33h-1.6M504.94 335.25v1.6M375.30 255.91h-1.6M533.40 335.25v1.6M375.30 238.49h-1.6" stroke="#444" stroke-width="0.8" fill="none"/>
<clipPath id="cp30"><rect x="24.50" y="341.37" width="169.2" height="103.55"/></clipPath>
<g clip-path="url(#cp30)"><g fill="#0000ff" fill-opacity="0.78" stroke="#fff" stroke-opacity="0.9" stroke-width="0.4"><circle cx="121.7" cy="397.7" r="2.25"/><circle cx="63.6" cy="414.2" r="2.25"/><circle cx="103.7" cy="400.8" r="2.25"/><circle cx="90.5" cy="403.9" r="2.25"/><circle cx="104.0" cy="393.9" r="2.25"/><circle cx="61.2" cy="412.7" r="2.25"/><circle cx="62.3" cy="415.0" r="2.25"/><circle cx="71.7" cy="421.3" r="2.25"/><circle cx="130.2" cy="386.0" r="2.25"/><circle cx="79.8" cy="411.2" r="2.25"/><circle cx="98.2" cy="395.6" r="2.25"/><circle cx="131.0" cy="389.7" r="2.25"/><circle cx="106.0" cy="390.7" r="2.25"/><circle cx="74.0" cy="409.4" r="2.25"/><circle cx="87.5" cy="406.2" r="2.25"/><circle cx="66.5" cy="414.5" r="2.25"/><circle cx="78.7" cy="420.0" r="2.25"/><circle cx="79.8" cy="406.1" r="2.25"/><circle cx="59.0" cy="419.4" r="2.25"/><circle cx="116.5" cy="400.8" r="2.25"/><circle cx="121.2" cy="391.0" r="2.25"/><circle cx="93.4" cy="401.9" r="2.25"/><circle cx="101.2" cy="398.5" r="2.25"/><circle cx="98.5" cy="402.3" r="2.25"/><circle cx="102.9" cy="395.4" r="2.25"/><circle cx="133.0" cy="384.4" r="2.25"/><circle cx="97.4" cy="401.6" r="2.25"/><circle cx="69.3" cy="415.0" r="2.25"/><circle cx="105.1" cy="401.7" r="2.25"/><circle cx="105.0" cy="402.5" r="2.25"/><circle cx="117.5" cy="391.3" r="2.25"/><circle cx="104.2" cy="402.5" r="2.25"/><circle cx="81.1" cy="417.0" r="2.25"/><circle cx="61.3" cy="417.5" r="2.25"/><circle cx="89.0" cy="399.3" r="2.25"/><circle cx="100.7" cy="402.3" r="2.25"/><circle cx="108.1" cy="393.1" r="2.25"/><circle cx="103.6" cy="396.9" r="2.25"/><circle cx="98.7" cy="407.4" r="2.25"/><circle cx="99.1" cy="399.5" r="2.25"/><circle cx="75.5" cy="412.1" r="2.25"/><circle cx="85.4" cy="403.2" r="2.25"/><circle cx="87.0" cy="419.6" r="2.25"/><circle cx="61.4" cy="414.5" r="2.25"/><circle cx="126.7" cy="387.2" r="2.25"/><circle cx="64.9" cy="421.8" r="2.25"/><circle cx="128.9" cy="384.7" r="2.25"/><circle cx="112.5" cy="397.2" r="2.25"/><circle cx="74.8" cy="410.8" r="2.25"/><circle cx="83.6" cy="402.9" r="2.25"/><circle cx="76.4" cy="403.4" r="2.25"/><circle cx="100.1" cy="400.0" r="2.25"/><circle cx="60.4" cy="415.9" r="2.25"/><circle cx="87.5" cy="403.7" r="2.25"/><circle cx="109.5" cy="401.5" r="2.25"/><circle cx="89.4" cy="396.0" r="2.25"/><circle cx="100.7" cy="396.3" r="2.25"/><circle cx="87.7" cy="405.3" r="2.25"/><circle cx="100.7" cy="394.5" r="2.25"/><circle cx="118.3" cy="391.3" r="2.25"/><circle cx="103.9" cy="402.6" r="2.25"/><circle cx="121.2" cy="387.8" r="2.25"/><circle cx="116.4" cy="394.5" r="2.25"/><circle cx="92.4" cy="400.5" r="2.25"/><circle cx="86.9" cy="400.9" r="2.25"/><circle cx="105.6" cy="393.5" r="2.25"/><circle cx="104.4" cy="388.6" r="2.25"/><circle cx="80.7" cy="407.8" r="2.25"/><circle cx="100.4" cy="401.7" r="2.25"/><circle cx="85.3" cy="411.2" r="2.25"/><circle cx="130.3" cy="391.9" r="2.25"/><circle cx="75.5" cy="407.6" r="2.25"/><circle cx="87.2" cy="403.8" r="2.25"/><circle cx="117.2" cy="399.1" r="2.25"/><circle cx="90.6" cy="408.3" r="2.25"/><circle cx="77.3" cy="412.9" r="2.25"/><circle cx="75.1" cy="402.8" r="2.25"/><circle cx="107.5" cy="403.2" r="2.25"/><circle cx="103.3" cy="397.5" r="2.25"/><circle cx="80.8" cy="418.2" r="2.25"/><circle cx="80.3" cy="410.3" r="2.25"/><circle cx="93.7" cy="395.5" r="2.25"/><circle cx="118.7" cy="400.5" r="2.25"/><circle cx="102.8" cy="393.1" r="2.25"/><circle cx="62.8" cy="427.6" r="2.25"/><circle cx="100.6" cy="400.2" r="2.25"/><circle cx="125.5" cy="396.7" r="2.25"/><circle cx="86.9" cy="406.4" r="2.25"/><circle cx="118.9" cy="395.1" r="2.25"/><circle cx="121.5" cy="388.6" r="2.25"/><circle cx="74.8" cy="410.1" r="2.25"/><circle cx="83.0" cy="406.9" r="2.25"/><circle cx="74.7" cy="414.7" r="2.25"/><circle cx="91.8" cy="401.7" r="2.25"/><circle cx="104.4" cy="403.7" r="2.25"/><circle cx="110.8" cy="400.3" r="2.25"/><circle cx="63.4" cy="420.8" r="2.25"/><circle cx="124.1" cy="388.9" r="2.25"/><circle cx="63.7" cy="405.4" r="2.25"/><circle cx="123.3" cy="392.5" r="2.25"/><circle cx="90.7" cy="393.6" r="2.25"/><circle cx="63.7" cy="422.6" r="2.25"/><circle cx="58.2" cy="422.9" r="2.25"/><circle cx="68.7" cy="412.0" r="2.25"/><circle cx="58.3" cy="417.2" r="2.25"/><circle cx="125.9" cy="387.2" r="2.25"/><circle cx="98.0" cy="392.6" r="2.25"/><circle cx="75.9" cy="412.2" r="2.25"/><circle cx="65.0" cy="410.9" r="2.25"/><circle cx="95.9" cy="401.1" r="2.25"/><circle cx="85.3" cy="420.4" r="2.25"/><circle cx="70.9" cy="419.0" r="2.25"/><circle cx="79.0" cy="412.5" r="2.25"/><circle cx="109.7" cy="396.5" r="2.25"/><circle cx="60.8" cy="416.2" r="2.25"/><circle cx="113.8" cy="397.2" r="2.25"/><circle cx="122.8" cy="385.5" r="2.25"/><circle cx="119.1" cy="398.8" r="2.25"/><circle cx="67.8" cy="415.3" r="2.25"/><circle cx="113.1" cy="390.9" r="2.25"/><circle cx="105.4" cy="405.1" r="2.25"/><circle cx="62.9" cy="411.2" r="2.25"/><circle cx="69.5" cy="409.1" r="2.25"/><circle cx="85.1" cy="407.9" r="2.25"/><circle cx="88.1" cy="405.7" r="2.25"/><circle cx="103.4" cy="400.0" r="2.25"/><circle cx="100.3" cy="400.5" r="2.25"/><circle cx="99.0" cy="394.0" r="2.25"/><circle cx="75.8" cy="408.1" r="2.25"/><circle cx="130.3" cy="395.4" r="2.25"/><circle cx="121.0" cy="401.1" r="2.25"/><circle cx="77.6" cy="406.7" r="2.25"/><circle cx="121.7" cy="405.1" r="2.25"/><circle cx="113.1" cy="404.5" r="2.25"/><circle cx="81.1" cy="412.1" r="2.25"/><circle cx="116.3" cy="394.9" r="2.25"/><circle cx="102.2" cy="392.2" r="2.25"/><circle cx="98.3" cy="400.5" r="2.25"/><circle cx="82.6" cy="395.1" r="2.25"/><circle cx="59.7" cy="418.4" r="2.25"/><circle cx="122.6" cy="388.0" r="2.25"/><circle cx="121.7" cy="387.5" r="2.25"/><circle cx="95.5" cy="403.3" r="2.25"/><circle cx="101.1" cy="394.9" r="2.25"/><circle cx="112.3" cy="393.0" r="2.25"/><circle cx="57.0" cy="419.7" r="2.25"/><circle cx="74.7" cy="415.3" r="2.25"/><circle cx="64.2" cy="419.3" r="2.25"/><circle cx="129.2" cy="385.7" r="2.25"/><circle cx="90.3" cy="405.1" r="2.25"/><circle cx="84.9" cy="404.8" r="2.25"/><circle cx="112.1" cy="394.1" r="2.25"/><circle cx="91.6" cy="402.8" r="2.25"/><circle cx="94.9" cy="402.9" r="2.25"/><circle cx="127.6" cy="387.4" r="2.25"/><circle cx="99.9" cy="396.1" r="2.25"/><circle cx="85.5" cy="399.0" r="2.25"/><circle cx="86.5" cy="403.6" r="2.25"/><circle cx="100.7" cy="403.8" r="2.25"/><circle cx="86.6" cy="410.3" r="2.25"/><circle cx="93.4" cy="399.9" r="2.25"/><circle cx="102.7" cy="408.5" r="2.25"/><circle cx="86.5" cy="409.4" r="2.25"/><circle cx="107.2" cy="392.3" r="2.25"/><circle cx="131.9" cy="389.8" r="2.25"/><circle cx="125.9" cy="394.3" r="2.25"/><circle cx="65.4" cy="409.9" r="2.25"/><circle cx="109.1" cy="410.4" r="2.25"/><circle cx="85.6" cy="407.3" r="2.25"/><circle cx="95.0" cy="405.5" r="2.25"/><circle cx="63.1" cy="420.2" r="2.25"/><circle cx="128.4" cy="385.5" r="2.25"/><circle cx="116.7" cy="386.6" r="2.25"/><circle cx="123.9" cy="386.1" r="2.25"/><circle cx="67.7" cy="412.0" r="2.25"/><circle cx="83.5" cy="405.8" r="2.25"/><circle cx="90.7" cy="406.1" r="2.25"/><circle cx="90.2" cy="404.9" r="2.25"/><circle cx="116.2" cy="403.5" r="2.25"/><circle cx="100.2" cy="403.8" r="2.25"/><circle cx="119.4" cy="390.5" r="2.25"/><circle cx="59.9" cy="419.8" r="2.25"/><circle cx="76.3" cy="406.2" r="2.25"/><circle cx="69.8" cy="422.7" r="2.25"/><circle cx="120.7" cy="396.1" r="2.25"/><circle cx="117.7" cy="399.6" r="2.25"/><circle cx="103.5" cy="393.5" r="2.25"/><circle cx="72.9" cy="414.1" r="2.25"/><circle cx="108.2" cy="399.4" r="2.25"/><circle cx="100.1" cy="407.8" r="2.25"/><circle cx="108.2" cy="400.6" r="2.25"/><circle cx="88.4" cy="411.5" r="2.25"/><circle cx="104.1" cy="402.5" r="2.25"/><circle cx="128.5" cy="379.4" r="2.25"/><circle cx="130.4" cy="394.3" r="2.25"/><circle cx="122.4" cy="393.9" r="2.25"/><circle cx="61.9" cy="422.8" r="2.25"/><circle cx="107.3" cy="390.8" r="2.25"/><circle cx="71.0" cy="418.9" r="2.25"/><circle cx="77.9" cy="415.1" r="2.25"/><circle cx="94.5" cy="401.1" r="2.25"/><circle cx="116.5" cy="385.9" r="2.25"/><circle cx="120.1" cy="392.2" r="2.25"/><circle cx="84.7" cy="410.5" r="2.25"/><circle cx="121.1" cy="405.3" r="2.25"/><circle cx="91.0" cy="418.0" r="2.25"/><circle cx="56.3" cy="421.5" r="2.25"/><circle cx="113.9" cy="395.6" r="2.25"/><circle cx="90.7" cy="398.0" r="2.25"/><circle cx="77.5" cy="407.7" r="2.25"/><circle cx="69.2" cy="416.0" r="2.25"/><circle cx="94.9" cy="395.7" r="2.25"/><circle cx="104.1" cy="389.5" r="2.25"/><circle cx="131.5" cy="391.5" r="2.25"/><circle cx="118.2" cy="389.3" r="2.25"/><circle cx="105.6" cy="392.1" r="2.25"/><circle cx="99.0" cy="405.7" r="2.25"/><circle cx="70.0" cy="411.1" r="2.25"/><circle cx="107.5" cy="398.3" r="2.25"/><circle cx="76.7" cy="404.1" r="2.25"/><circle cx="45.4" cy="425.2" r="2.25"/><circle cx="149.9" cy="385.1" r="2.25"/><circle cx="111.4" cy="379.9" r="2.25"/><circle cx="130.5" cy="379.0" r="2.25"/><circle cx="63.1" cy="427.4" r="2.25"/></g></g>
<line x1="32.18" y1="440.22" x2="186.02" y2="346.07" stroke="#111" stroke-width="1.05" stroke-dasharray="3.2 1.4"/>
<rect x="24.50" y="341.37" width="169.2" height="103.55" fill="none" stroke="#939393" stroke-width="1"/>
<path d="M40.30 444.92v1.6M24.50 435.25h-1.6M68.76 444.92v1.6M24.50 417.84h-1.6M97.22 444.92v1.6M24.50 400.42h-1.6M125.68 444.92v1.6M24.50 383.00h-1.6M154.14 444.92v1.6M24.50 365.58h-1.6M182.60 444.92v1.6M24.50 348.16h-1.6" stroke="#444" stroke-width="0.8" fill="none"/>
<text transform="translate(21.60,437.60) scale(0.97,1)" text-anchor="end" class="tl">20</text>
<text transform="translate(21.60,420.19) scale(0.97,1)" text-anchor="end" class="tl">30</text>
<text transform="translate(21.60,402.77) scale(0.97,1)" text-anchor="end" class="tl">40</text>
<text transform="translate(21.60,385.35) scale(0.97,1)" text-anchor="end" class="tl">50</text>
<text transform="translate(21.60,367.93) scale(0.97,1)" text-anchor="end" class="tl">60</text>
<text transform="translate(21.60,350.51) scale(0.97,1)" text-anchor="end" class="tl">70</text>
<text transform="translate(10.80,393.54) rotate(-90) scale(0.97,1)" text-anchor="middle" class="al">Predicted</text>
<clipPath id="cp31"><rect x="199.80" y="341.37" width="169.2" height="103.55"/></clipPath>
<g clip-path="url(#cp31)"><g fill="#0000ff" fill-opacity="0.78" stroke="#fff" stroke-opacity="0.9" stroke-width="0.4"><circle cx="246.4" cy="409.2" r="2.25"/><circle cx="272.7" cy="401.9" r="2.25"/><circle cx="260.3" cy="409.3" r="2.25"/><circle cx="257.0" cy="406.2" r="2.25"/><circle cx="280.4" cy="395.0" r="2.25"/><circle cx="304.1" cy="385.7" r="2.25"/><circle cx="303.3" cy="382.6" r="2.25"/><circle cx="279.3" cy="396.1" r="2.25"/><circle cx="290.6" cy="390.0" r="2.25"/><circle cx="265.4" cy="402.1" r="2.25"/><circle cx="256.6" cy="405.3" r="2.25"/><circle cx="270.7" cy="401.8" r="2.25"/><circle cx="274.6" cy="400.5" r="2.25"/><circle cx="297.4" cy="385.5" r="2.25"/><circle cx="262.3" cy="405.3" r="2.25"/><circle cx="271.3" cy="403.1" r="2.25"/><circle cx="262.4" cy="404.3" r="2.25"/><circle cx="245.9" cy="412.6" r="2.25"/><circle cx="237.2" cy="415.5" r="2.25"/><circle cx="251.2" cy="405.3" r="2.25"/><circle cx="275.0" cy="395.5" r="2.25"/><circle cx="296.6" cy="389.2" r="2.25"/><circle cx="233.4" cy="420.3" r="2.25"/><circle cx="265.4" cy="403.5" r="2.25"/><circle cx="289.3" cy="393.8" r="2.25"/><circle cx="302.7" cy="384.9" r="2.25"/><circle cx="246.5" cy="410.9" r="2.25"/><circle cx="239.7" cy="413.5" r="2.25"/><circle cx="245.7" cy="411.7" r="2.25"/><circle cx="257.2" cy="409.8" r="2.25"/><circle cx="259.6" cy="406.4" r="2.25"/><circle cx="273.9" cy="399.3" r="2.25"/><circle cx="237.8" cy="415.3" r="2.25"/><circle cx="298.5" cy="385.2" r="2.25"/><circle cx="278.8" cy="399.0" r="2.25"/><circle cx="270.3" cy="401.5" r="2.25"/><circle cx="306.5" cy="384.4" r="2.25"/><circle cx="263.6" cy="406.0" r="2.25"/><circle cx="255.4" cy="406.6" r="2.25"/><circle cx="284.7" cy="395.4" r="2.25"/><circle cx="289.0" cy="388.5" r="2.25"/><circle cx="282.5" cy="399.9" r="2.25"/><circle cx="293.3" cy="387.3" r="2.25"/><circle cx="243.7" cy="413.1" r="2.25"/><circle cx="299.1" cy="389.4" r="2.25"/><circle cx="253.7" cy="408.3" r="2.25"/><circle cx="275.9" cy="398.3" r="2.25"/><circle cx="252.7" cy="407.1" r="2.25"/><circle cx="269.2" cy="399.4" r="2.25"/><circle cx="300.2" cy="388.0" r="2.25"/><circle cx="258.0" cy="406.9" r="2.25"/><circle cx="307.1" cy="382.5" r="2.25"/><circle cx="267.8" cy="402.0" r="2.25"/><circle cx="299.1" cy="387.8" r="2.25"/><circle cx="267.6" cy="399.9" r="2.25"/><circle cx="260.8" cy="405.2" r="2.25"/><circle cx="289.5" cy="394.5" r="2.25"/><circle cx="254.6" cy="407.7" r="2.25"/><circle cx="289.1" cy="392.7" r="2.25"/><circle cx="254.4" cy="408.9" r="2.25"/><circle cx="260.1" cy="404.5" r="2.25"/><circle cx="285.2" cy="392.8" r="2.25"/><circle cx="260.6" cy="405.3" r="2.25"/><circle cx="284.8" cy="393.4" r="2.25"/><circle cx="247.0" cy="409.6" r="2.25"/><circle cx="248.3" cy="412.0" r="2.25"/><circle cx="243.3" cy="412.7" r="2.25"/><circle cx="292.4" cy="388.2" r="2.25"/><circle cx="289.5" cy="393.1" r="2.25"/><circle cx="288.2" cy="393.5" r="2.25"/><circle cx="297.0" cy="389.4" r="2.25"/><circle cx="232.5" cy="416.9" r="2.25"/><circle cx="288.0" cy="393.7" r="2.25"/><circle cx="235.5" cy="415.2" r="2.25"/><circle cx="246.8" cy="412.2" r="2.25"/><circle cx="237.2" cy="415.9" r="2.25"/><circle cx="244.8" cy="411.7" r="2.25"/><circle cx="235.4" cy="418.2" r="2.25"/><circle cx="295.1" cy="391.2" r="2.25"/><circle cx="251.3" cy="407.8" r="2.25"/><circle cx="270.6" cy="401.9" r="2.25"/><circle cx="277.4" cy="396.9" r="2.25"/><circle cx="258.6" cy="405.5" r="2.25"/><circle cx="268.0" cy="405.2" r="2.25"/><circle cx="277.9" cy="395.3" r="2.25"/><circle cx="298.5" cy="387.3" r="2.25"/><circle cx="266.3" cy="403.9" r="2.25"/><circle cx="256.1" cy="408.4" r="2.25"/><circle cx="293.4" cy="391.1" r="2.25"/><circle cx="272.1" cy="400.0" r="2.25"/><circle cx="272.1" cy="396.5" r="2.25"/><circle cx="293.0" cy="390.6" r="2.25"/><circle cx="293.9" cy="392.0" r="2.25"/><circle cx="272.5" cy="400.7" r="2.25"/><circle cx="270.7" cy="397.1" r="2.25"/><circle cx="301.0" cy="386.1" r="2.25"/><circle cx="291.0" cy="387.6" r="2.25"/><circle cx="246.9" cy="412.9" r="2.25"/><circle cx="288.4" cy="394.1" r="2.25"/><circle cx="256.7" cy="409.7" r="2.25"/><circle cx="256.6" cy="409.3" r="2.25"/><circle cx="287.3" cy="393.2" r="2.25"/><circle cx="286.8" cy="393.2" r="2.25"/><circle cx="305.8" cy="387.0" r="2.25"/><circle cx="280.4" cy="398.5" r="2.25"/><circle cx="250.2" cy="411.7" r="2.25"/><circle cx="239.8" cy="415.6" r="2.25"/><circle cx="246.8" cy="408.9" r="2.25"/><circle cx="241.0" cy="411.5" r="2.25"/><circle cx="255.6" cy="407.2" r="2.25"/><circle cx="274.3" cy="398.0" r="2.25"/><circle cx="281.7" cy="397.6" r="2.25"/><circle cx="252.5" cy="408.7" r="2.25"/><circle cx="265.1" cy="407.4" r="2.25"/><circle cx="281.7" cy="396.2" r="2.25"/><circle cx="255.8" cy="407.5" r="2.25"/><circle cx="245.3" cy="410.7" r="2.25"/><circle cx="242.8" cy="413.7" r="2.25"/><circle cx="237.4" cy="416.6" r="2.25"/><circle cx="250.7" cy="412.1" r="2.25"/><circle cx="290.5" cy="396.1" r="2.25"/><circle cx="272.4" cy="401.9" r="2.25"/><circle cx="239.5" cy="418.9" r="2.25"/><circle cx="258.4" cy="407.9" r="2.25"/><circle cx="266.9" cy="403.9" r="2.25"/><circle cx="262.3" cy="408.2" r="2.25"/><circle cx="235.0" cy="421.1" r="2.25"/><circle cx="249.3" cy="411.2" r="2.25"/><circle cx="252.5" cy="410.7" r="2.25"/><circle cx="257.8" cy="406.6" r="2.25"/><circle cx="266.8" cy="401.7" r="2.25"/><circle cx="245.3" cy="409.3" r="2.25"/><circle cx="262.0" cy="403.8" r="2.25"/><circle cx="263.0" cy="406.9" r="2.25"/><circle cx="304.8" cy="384.8" r="2.25"/><circle cx="245.7" cy="408.2" r="2.25"/><circle cx="284.1" cy="396.7" r="2.25"/><circle cx="274.3" cy="400.4" r="2.25"/><circle cx="306.6" cy="381.4" r="2.25"/><circle cx="298.3" cy="386.8" r="2.25"/><circle cx="239.7" cy="416.4" r="2.25"/><circle cx="240.7" cy="414.0" r="2.25"/><circle cx="276.8" cy="399.7" r="2.25"/><circle cx="252.8" cy="407.6" r="2.25"/><circle cx="257.9" cy="407.5" r="2.25"/><circle cx="262.9" cy="405.0" r="2.25"/><circle cx="276.5" cy="398.2" r="2.25"/><circle cx="264.5" cy="408.2" r="2.25"/><circle cx="244.9" cy="412.8" r="2.25"/><circle cx="284.5" cy="393.9" r="2.25"/><circle cx="324.3" cy="377.8" r="2.25"/></g><g fill="#ff0000" fill-opacity="0.78" stroke="#fff" stroke-opacity="0.9" stroke-width="0.4"><circle cx="259.9" cy="403.6" r="2.25"/><circle cx="268.4" cy="395.2" r="2.25"/><circle cx="296.0" cy="399.2" r="2.25"/><circle cx="247.1" cy="411.9" r="2.25"/><circle cx="269.8" cy="396.4" r="2.25"/><circle cx="254.2" cy="410.2" r="2.25"/><circle cx="282.5" cy="394.2" r="2.25"/><circle cx="266.6" cy="405.8" r="2.25"/><circle cx="243.4" cy="408.3" r="2.25"/><circle cx="264.7" cy="398.4" r="2.25"/><circle cx="246.2" cy="408.7" r="2.25"/><circle cx="232.5" cy="416.9" r="2.25"/><circle cx="237.1" cy="413.1" r="2.25"/><circle cx="253.1" cy="401.9" r="2.25"/><circle cx="229.2" cy="412.9" r="2.25"/><circle cx="283.9" cy="395.3" r="2.25"/><circle cx="286.4" cy="397.2" r="2.25"/><circle cx="229.8" cy="412.4" r="2.25"/><circle cx="265.4" cy="403.6" r="2.25"/><circle cx="259.1" cy="408.6" r="2.25"/><circle cx="257.1" cy="403.0" r="2.25"/><circle cx="234.1" cy="411.4" r="2.25"/><circle cx="299.7" cy="401.8" r="2.25"/><circle cx="250.0" cy="407.3" r="2.25"/><circle cx="298.7" cy="390.6" r="2.25"/><circle cx="257.2" cy="397.5" r="2.25"/><circle cx="243.9" cy="414.4" r="2.25"/><circle cx="246.8" cy="407.8" r="2.25"/><circle cx="246.6" cy="406.1" r="2.25"/><circle cx="286.5" cy="394.4" r="2.25"/><circle cx="288.7" cy="399.7" r="2.25"/><circle cx="286.9" cy="395.4" r="2.25"/><circle cx="247.9" cy="409.6" r="2.25"/><circle cx="249.9" cy="407.5" r="2.25"/><circle cx="266.2" cy="404.8" r="2.25"/><circle cx="279.0" cy="398.2" r="2.25"/><circle cx="278.6" cy="401.1" r="2.25"/><circle cx="289.8" cy="395.4" r="2.25"/><circle cx="283.2" cy="398.7" r="2.25"/><circle cx="264.6" cy="399.4" r="2.25"/><circle cx="277.5" cy="393.0" r="2.25"/><circle cx="283.2" cy="398.7" r="2.25"/><circle cx="242.7" cy="412.3" r="2.25"/><circle cx="305.1" cy="393.7" r="2.25"/><circle cx="266.3" cy="404.8" r="2.25"/><circle cx="273.2" cy="407.5" r="2.25"/><circle cx="275.8" cy="400.1" r="2.25"/><circle cx="278.7" cy="401.5" r="2.25"/><circle cx="235.3" cy="408.3" r="2.25"/><circle cx="234.5" cy="412.5" r="2.25"/><circle cx="250.2" cy="403.6" r="2.25"/><circle cx="238.5" cy="407.8" r="2.25"/><circle cx="281.8" cy="400.7" r="2.25"/><circle cx="261.8" cy="405.1" r="2.25"/><circle cx="242.0" cy="411.8" r="2.25"/><circle cx="257.2" cy="407.0" r="2.25"/><circle cx="243.1" cy="406.2" r="2.25"/><circle cx="281.9" cy="400.8" r="2.25"/><circle cx="219.9" cy="412.3" r="2.25"/></g></g>
<line x1="207.48" y1="440.22" x2="361.32" y2="346.07" stroke="#111" stroke-width="1.05" stroke-dasharray="3.2 1.4"/>
<rect x="199.80" y="341.37" width="169.2" height="103.55" fill="none" stroke="#939393" stroke-width="1"/>
<path d="M215.60 444.92v1.6M199.80 435.25h-1.6M244.06 444.92v1.6M199.80 417.84h-1.6M272.52 444.92v1.6M199.80 400.42h-1.6M300.98 444.92v1.6M199.80 383.00h-1.6M329.44 444.92v1.6M199.80 365.58h-1.6M357.90 444.92v1.6M199.80 348.16h-1.6" stroke="#444" stroke-width="0.8" fill="none"/>
<text transform="translate(284.40,349.67) scale(0.97,1)" text-anchor="middle" class="tb">Triticale</text>
<clipPath id="cp32"><rect x="375.30" y="341.37" width="169.2" height="103.55"/></clipPath>
<g clip-path="url(#cp32)"><g fill="#0000ff" fill-opacity="0.78" stroke="#fff" stroke-opacity="0.9" stroke-width="0.4"><circle cx="408.2" cy="425.0" r="2.25"/><circle cx="471.0" cy="381.3" r="2.25"/><circle cx="428.1" cy="410.0" r="2.25"/><circle cx="455.0" cy="393.0" r="2.25"/><circle cx="444.1" cy="395.4" r="2.25"/><circle cx="464.7" cy="400.3" r="2.25"/><circle cx="471.7" cy="380.6" r="2.25"/><circle cx="473.3" cy="376.1" r="2.25"/><circle cx="446.5" cy="401.2" r="2.25"/><circle cx="480.1" cy="386.0" r="2.25"/><circle cx="474.4" cy="386.7" r="2.25"/><circle cx="456.8" cy="391.6" r="2.25"/><circle cx="462.7" cy="392.1" r="2.25"/><circle cx="423.7" cy="418.7" r="2.25"/><circle cx="470.8" cy="391.9" r="2.25"/><circle cx="486.0" cy="388.5" r="2.25"/><circle cx="474.3" cy="389.2" r="2.25"/><circle cx="419.3" cy="420.3" r="2.25"/><circle cx="437.8" cy="412.9" r="2.25"/><circle cx="475.7" cy="384.1" r="2.25"/><circle cx="417.5" cy="418.1" r="2.25"/><circle cx="432.8" cy="406.3" r="2.25"/><circle cx="456.4" cy="404.9" r="2.25"/><circle cx="453.4" cy="392.9" r="2.25"/><circle cx="431.1" cy="403.1" r="2.25"/><circle cx="459.8" cy="395.7" r="2.25"/><circle cx="408.9" cy="429.0" r="2.25"/><circle cx="469.7" cy="397.5" r="2.25"/><circle cx="450.5" cy="394.5" r="2.25"/><circle cx="410.4" cy="423.0" r="2.25"/><circle cx="455.3" cy="394.4" r="2.25"/><circle cx="438.4" cy="406.5" r="2.25"/><circle cx="451.4" cy="405.9" r="2.25"/><circle cx="443.4" cy="405.3" r="2.25"/><circle cx="431.3" cy="410.2" r="2.25"/><circle cx="438.0" cy="409.8" r="2.25"/><circle cx="447.5" cy="399.3" r="2.25"/><circle cx="422.6" cy="418.1" r="2.25"/><circle cx="444.5" cy="398.1" r="2.25"/><circle cx="477.6" cy="394.2" r="2.25"/><circle cx="410.1" cy="421.2" r="2.25"/><circle cx="451.7" cy="398.2" r="2.25"/><circle cx="477.7" cy="381.4" r="2.25"/><circle cx="438.3" cy="399.8" r="2.25"/><circle cx="433.9" cy="405.7" r="2.25"/><circle cx="448.8" cy="398.4" r="2.25"/><circle cx="422.8" cy="417.2" r="2.25"/><circle cx="412.8" cy="416.6" r="2.25"/><circle cx="465.6" cy="390.2" r="2.25"/><circle cx="447.3" cy="398.5" r="2.25"/><circle cx="475.2" cy="386.3" r="2.25"/><circle cx="434.6" cy="406.8" r="2.25"/><circle cx="454.8" cy="399.2" r="2.25"/><circle cx="423.2" cy="404.2" r="2.25"/><circle cx="448.3" cy="398.7" r="2.25"/><circle cx="425.4" cy="414.5" r="2.25"/><circle cx="433.8" cy="409.8" r="2.25"/><circle cx="436.4" cy="404.8" r="2.25"/><circle cx="431.5" cy="411.2" r="2.25"/><circle cx="484.2" cy="379.1" r="2.25"/><circle cx="442.2" cy="402.8" r="2.25"/><circle cx="411.6" cy="420.2" r="2.25"/><circle cx="456.2" cy="390.1" r="2.25"/><circle cx="432.7" cy="407.1" r="2.25"/><circle cx="449.3" cy="397.0" r="2.25"/><circle cx="429.6" cy="407.9" r="2.25"/><circle cx="419.3" cy="410.5" r="2.25"/><circle cx="426.7" cy="412.3" r="2.25"/><circle cx="446.7" cy="394.8" r="2.25"/><circle cx="477.4" cy="381.5" r="2.25"/><circle cx="476.5" cy="383.0" r="2.25"/><circle cx="468.6" cy="394.0" r="2.25"/><circle cx="428.0" cy="410.4" r="2.25"/><circle cx="481.9" cy="389.0" r="2.25"/><circle cx="449.4" cy="401.5" r="2.25"/><circle cx="454.4" cy="397.4" r="2.25"/><circle cx="421.7" cy="417.0" r="2.25"/><circle cx="440.6" cy="409.8" r="2.25"/><circle cx="429.9" cy="406.2" r="2.25"/><circle cx="481.2" cy="384.4" r="2.25"/><circle cx="425.1" cy="407.3" r="2.25"/><circle cx="435.8" cy="406.8" r="2.25"/><circle cx="439.5" cy="412.6" r="2.25"/><circle cx="443.3" cy="396.1" r="2.25"/><circle cx="434.2" cy="403.5" r="2.25"/><circle cx="447.8" cy="392.2" r="2.25"/><circle cx="475.5" cy="387.1" r="2.25"/><circle cx="471.5" cy="396.6" r="2.25"/><circle cx="460.7" cy="392.3" r="2.25"/><circle cx="457.5" cy="399.6" r="2.25"/><circle cx="424.9" cy="416.9" r="2.25"/><circle cx="447.6" cy="405.0" r="2.25"/><circle cx="483.4" cy="387.9" r="2.25"/><circle cx="423.9" cy="409.5" r="2.25"/><circle cx="431.3" cy="414.3" r="2.25"/><circle cx="457.6" cy="404.8" r="2.25"/><circle cx="443.1" cy="394.8" r="2.25"/><circle cx="458.7" cy="397.8" r="2.25"/><circle cx="446.8" cy="405.8" r="2.25"/><circle cx="409.9" cy="419.4" r="2.25"/><circle cx="418.6" cy="416.0" r="2.25"/><circle cx="438.2" cy="412.9" r="2.25"/><circle cx="468.9" cy="384.4" r="2.25"/><circle cx="444.0" cy="398.5" r="2.25"/><circle cx="432.1" cy="407.5" r="2.25"/><circle cx="462.7" cy="400.3" r="2.25"/><circle cx="433.7" cy="408.3" r="2.25"/><circle cx="448.3" cy="408.3" r="2.25"/><circle cx="458.2" cy="393.6" r="2.25"/><circle cx="447.7" cy="397.4" r="2.25"/><circle cx="448.4" cy="395.8" r="2.25"/><circle cx="479.5" cy="388.1" r="2.25"/><circle cx="480.4" cy="377.9" r="2.25"/><circle cx="476.0" cy="386.4" r="2.25"/><circle cx="452.8" cy="398.7" r="2.25"/><circle cx="411.3" cy="424.8" r="2.25"/><circle cx="435.4" cy="405.2" r="2.25"/><circle cx="475.7" cy="383.2" r="2.25"/><circle cx="468.9" cy="388.9" r="2.25"/><circle cx="412.7" cy="423.8" r="2.25"/><circle cx="443.7" cy="396.4" r="2.25"/><circle cx="418.1" cy="416.2" r="2.25"/><circle cx="473.7" cy="382.7" r="2.25"/><circle cx="409.3" cy="420.8" r="2.25"/><circle cx="462.7" cy="391.3" r="2.25"/><circle cx="426.6" cy="415.1" r="2.25"/><circle cx="427.4" cy="414.2" r="2.25"/><circle cx="455.3" cy="397.5" r="2.25"/><circle cx="454.5" cy="406.5" r="2.25"/><circle cx="476.1" cy="388.4" r="2.25"/><circle cx="480.2" cy="380.1" r="2.25"/><circle cx="446.8" cy="400.1" r="2.25"/><circle cx="425.1" cy="419.1" r="2.25"/><circle cx="478.7" cy="382.7" r="2.25"/><circle cx="463.3" cy="393.5" r="2.25"/><circle cx="420.5" cy="411.4" r="2.25"/><circle cx="451.1" cy="399.2" r="2.25"/><circle cx="410.3" cy="425.8" r="2.25"/><circle cx="407.9" cy="423.4" r="2.25"/><circle cx="430.3" cy="411.4" r="2.25"/><circle cx="431.8" cy="406.5" r="2.25"/><circle cx="469.5" cy="391.1" r="2.25"/><circle cx="445.5" cy="395.6" r="2.25"/><circle cx="425.8" cy="413.8" r="2.25"/><circle cx="438.6" cy="410.8" r="2.25"/><circle cx="444.6" cy="404.5" r="2.25"/><circle cx="454.1" cy="398.4" r="2.25"/><circle cx="450.3" cy="394.5" r="2.25"/><circle cx="438.2" cy="403.5" r="2.25"/><circle cx="459.9" cy="393.5" r="2.25"/><circle cx="499.8" cy="373.8" r="2.25"/><circle cx="479.9" cy="372.2" r="2.25"/></g><g fill="#ff0000" fill-opacity="0.78" stroke="#fff" stroke-opacity="0.9" stroke-width="0.4"><circle cx="431.7" cy="410.6" r="2.25"/><circle cx="439.5" cy="403.2" r="2.25"/><circle cx="473.2" cy="394.6" r="2.25"/><circle cx="474.4" cy="387.6" r="2.25"/><circle cx="415.1" cy="421.6" r="2.25"/><circle cx="405.4" cy="428.3" r="2.25"/><circle cx="439.2" cy="411.4" r="2.25"/><circle cx="470.8" cy="388.2" r="2.25"/><circle cx="462.9" cy="402.6" r="2.25"/><circle cx="470.4" cy="399.6" r="2.25"/><circle cx="463.1" cy="398.3" r="2.25"/><circle cx="420.0" cy="412.6" r="2.25"/><circle cx="478.4" cy="383.3" r="2.25"/><circle cx="433.0" cy="404.0" r="2.25"/><circle cx="405.4" cy="417.2" r="2.25"/><circle cx="410.4" cy="422.4" r="2.25"/><circle cx="408.8" cy="422.8" r="2.25"/><circle cx="447.3" cy="391.8" r="2.25"/><circle cx="446.9" cy="401.8" r="2.25"/><circle cx="415.5" cy="415.0" r="2.25"/><circle cx="453.5" cy="403.2" r="2.25"/><circle cx="419.8" cy="411.7" r="2.25"/><circle cx="436.4" cy="413.3" r="2.25"/><circle cx="431.5" cy="411.3" r="2.25"/><circle cx="466.3" cy="393.6" r="2.25"/><circle cx="426.6" cy="412.3" r="2.25"/><circle cx="476.6" cy="384.5" r="2.25"/><circle cx="475.9" cy="383.9" r="2.25"/><circle cx="423.6" cy="407.5" r="2.25"/><circle cx="413.6" cy="417.7" r="2.25"/><circle cx="455.0" cy="401.0" r="2.25"/><circle cx="418.8" cy="415.6" r="2.25"/><circle cx="458.7" cy="398.4" r="2.25"/><circle cx="432.4" cy="413.3" r="2.25"/><circle cx="416.3" cy="407.4" r="2.25"/><circle cx="453.3" cy="405.2" r="2.25"/><circle cx="464.5" cy="389.4" r="2.25"/><circle cx="440.4" cy="407.3" r="2.25"/><circle cx="416.5" cy="426.3" r="2.25"/><circle cx="412.6" cy="407.5" r="2.25"/><circle cx="427.7" cy="413.2" r="2.25"/><circle cx="465.5" cy="398.9" r="2.25"/><circle cx="422.7" cy="400.3" r="2.25"/><circle cx="448.8" cy="402.4" r="2.25"/><circle cx="446.1" cy="401.2" r="2.25"/><circle cx="417.0" cy="407.5" r="2.25"/><circle cx="450.6" cy="405.5" r="2.25"/><circle cx="444.4" cy="408.4" r="2.25"/><circle cx="466.0" cy="388.8" r="2.25"/><circle cx="422.2" cy="411.1" r="2.25"/><circle cx="432.3" cy="413.4" r="2.25"/><circle cx="419.4" cy="423.3" r="2.25"/><circle cx="395.4" cy="427.8" r="2.25"/><circle cx="458.3" cy="373.1" r="2.25"/><circle cx="469.1" cy="406.7" r="2.25"/></g></g>
<line x1="382.98" y1="440.22" x2="536.82" y2="346.07" stroke="#111" stroke-width="1.05" stroke-dasharray="3.2 1.4"/>
<rect x="375.30" y="341.37" width="169.2" height="103.55" fill="none" stroke="#939393" stroke-width="1"/>
<path d="M391.10 444.92v1.6M375.30 435.25h-1.6M419.56 444.92v1.6M375.30 417.84h-1.6M448.02 444.92v1.6M375.30 400.42h-1.6M476.48 444.92v1.6M375.30 383.00h-1.6M504.94 444.92v1.6M375.30 365.58h-1.6M533.40 444.92v1.6M375.30 348.16h-1.6" stroke="#444" stroke-width="0.8" fill="none"/>
<clipPath id="cp40"><rect x="24.50" y="451.04" width="169.2" height="103.55"/></clipPath>
<g clip-path="url(#cp40)"><g fill="#0000ff" fill-opacity="0.78" stroke="#fff" stroke-opacity="0.9" stroke-width="0.4"><circle cx="121.0" cy="507.0" r="2.25"/><circle cx="103.5" cy="513.6" r="2.25"/><circle cx="60.4" cy="531.8" r="2.25"/><circle cx="108.0" cy="500.6" r="2.25"/><circle cx="109.9" cy="508.7" r="2.25"/><circle cx="75.6" cy="528.3" r="2.25"/><circle cx="86.0" cy="516.4" r="2.25"/><circle cx="92.1" cy="502.4" r="2.25"/><circle cx="74.8" cy="518.9" r="2.25"/><circle cx="93.4" cy="513.9" r="2.25"/><circle cx="100.9" cy="509.3" r="2.25"/><circle cx="111.0" cy="509.1" r="2.25"/><circle cx="74.8" cy="526.3" r="2.25"/><circle cx="80.7" cy="510.8" r="2.25"/><circle cx="91.5" cy="527.8" r="2.25"/><circle cx="124.2" cy="503.1" r="2.25"/><circle cx="117.7" cy="508.8" r="2.25"/><circle cx="54.7" cy="527.9" r="2.25"/><circle cx="103.3" cy="514.2" r="2.25"/><circle cx="62.6" cy="518.8" r="2.25"/><circle cx="70.8" cy="513.2" r="2.25"/><circle cx="90.8" cy="513.8" r="2.25"/><circle cx="104.3" cy="516.8" r="2.25"/><circle cx="63.7" cy="528.8" r="2.25"/><circle cx="117.6" cy="506.2" r="2.25"/><circle cx="75.5" cy="525.4" r="2.25"/><circle cx="108.9" cy="514.6" r="2.25"/><circle cx="114.4" cy="496.5" r="2.25"/><circle cx="67.5" cy="518.0" r="2.25"/><circle cx="63.1" cy="530.4" r="2.25"/><circle cx="112.6" cy="511.1" r="2.25"/><circle cx="61.9" cy="525.1" r="2.25"/><circle cx="105.1" cy="513.1" r="2.25"/><circle cx="127.7" cy="495.8" r="2.25"/><circle cx="56.9" cy="522.2" r="2.25"/><circle cx="89.7" cy="514.9" r="2.25"/><circle cx="75.7" cy="525.5" r="2.25"/><circle cx="99.3" cy="513.4" r="2.25"/><circle cx="112.7" cy="515.2" r="2.25"/><circle cx="73.8" cy="523.1" r="2.25"/><circle cx="74.1" cy="510.6" r="2.25"/><circle cx="69.0" cy="525.9" r="2.25"/><circle cx="110.1" cy="503.8" r="2.25"/><circle cx="103.2" cy="503.4" r="2.25"/><circle cx="111.0" cy="498.4" r="2.25"/><circle cx="89.0" cy="523.0" r="2.25"/><circle cx="113.5" cy="507.2" r="2.25"/><circle cx="60.7" cy="528.9" r="2.25"/><circle cx="113.0" cy="499.1" r="2.25"/><circle cx="76.9" cy="513.6" r="2.25"/><circle cx="79.7" cy="524.8" r="2.25"/><circle cx="108.5" cy="511.2" r="2.25"/><circle cx="100.6" cy="509.2" r="2.25"/><circle cx="54.1" cy="516.1" r="2.25"/><circle cx="69.1" cy="524.8" r="2.25"/><circle cx="117.0" cy="498.3" r="2.25"/><circle cx="58.8" cy="530.7" r="2.25"/><circle cx="100.3" cy="518.4" r="2.25"/><circle cx="71.6" cy="517.2" r="2.25"/><circle cx="78.4" cy="523.8" r="2.25"/><circle cx="108.5" cy="516.7" r="2.25"/><circle cx="106.5" cy="502.0" r="2.25"/><circle cx="53.3" cy="524.0" r="2.25"/><circle cx="113.7" cy="512.9" r="2.25"/><circle cx="51.9" cy="523.0" r="2.25"/><circle cx="93.4" cy="511.4" r="2.25"/><circle cx="88.7" cy="512.4" r="2.25"/><circle cx="58.2" cy="532.1" r="2.25"/><circle cx="124.2" cy="502.7" r="2.25"/><circle cx="95.0" cy="525.5" r="2.25"/><circle cx="120.7" cy="513.6" r="2.25"/><circle cx="98.4" cy="507.4" r="2.25"/><circle cx="95.9" cy="515.7" r="2.25"/><circle cx="61.0" cy="524.7" r="2.25"/><circle cx="79.1" cy="520.4" r="2.25"/><circle cx="90.6" cy="518.0" r="2.25"/><circle cx="55.9" cy="529.5" r="2.25"/><circle cx="60.5" cy="523.2" r="2.25"/><circle cx="95.5" cy="514.5" r="2.25"/><circle cx="91.2" cy="523.6" r="2.25"/><circle cx="83.2" cy="511.2" r="2.25"/><circle cx="111.5" cy="499.5" r="2.25"/><circle cx="86.2" cy="512.1" r="2.25"/><circle cx="99.5" cy="503.2" r="2.25"/><circle cx="63.5" cy="523.9" r="2.25"/><circle cx="102.5" cy="510.4" r="2.25"/><circle cx="122.7" cy="495.8" r="2.25"/><circle cx="94.7" cy="510.3" r="2.25"/><circle cx="82.1" cy="524.8" r="2.25"/><circle cx="99.7" cy="512.6" r="2.25"/><circle cx="55.7" cy="526.3" r="2.25"/><circle cx="108.0" cy="496.3" r="2.25"/><circle cx="85.1" cy="516.6" r="2.25"/><circle cx="76.4" cy="524.5" r="2.25"/><circle cx="86.4" cy="522.6" r="2.25"/><circle cx="66.8" cy="524.6" r="2.25"/><circle cx="67.6" cy="527.1" r="2.25"/><circle cx="104.9" cy="510.3" r="2.25"/><circle cx="80.2" cy="524.5" r="2.25"/><circle cx="107.8" cy="517.4" r="2.25"/><circle cx="125.1" cy="501.7" r="2.25"/><circle cx="101.9" cy="508.9" r="2.25"/><circle cx="64.6" cy="523.9" r="2.25"/><circle cx="110.1" cy="515.9" r="2.25"/><circle cx="82.6" cy="519.6" r="2.25"/><circle cx="102.5" cy="506.1" r="2.25"/><circle cx="61.3" cy="524.3" r="2.25"/><circle cx="69.5" cy="526.4" r="2.25"/><circle cx="95.2" cy="516.0" r="2.25"/><circle cx="94.8" cy="516.1" r="2.25"/><circle cx="57.7" cy="525.4" r="2.25"/><circle cx="105.0" cy="511.8" r="2.25"/><circle cx="121.1" cy="500.2" r="2.25"/><circle cx="81.1" cy="517.5" r="2.25"/><circle cx="82.5" cy="517.1" r="2.25"/><circle cx="90.7" cy="510.5" r="2.25"/><circle cx="71.1" cy="517.5" r="2.25"/><circle cx="79.7" cy="521.3" r="2.25"/><circle cx="101.6" cy="512.7" r="2.25"/><circle cx="65.1" cy="519.3" r="2.25"/><circle cx="75.9" cy="522.1" r="2.25"/><circle cx="121.2" cy="508.8" r="2.25"/><circle cx="125.8" cy="502.7" r="2.25"/><circle cx="62.7" cy="531.3" r="2.25"/><circle cx="119.5" cy="503.6" r="2.25"/><circle cx="59.2" cy="525.7" r="2.25"/><circle cx="82.4" cy="510.3" r="2.25"/><circle cx="66.8" cy="521.4" r="2.25"/><circle cx="63.6" cy="521.7" r="2.25"/><circle cx="89.4" cy="506.9" r="2.25"/><circle cx="71.9" cy="517.7" r="2.25"/><circle cx="97.7" cy="517.5" r="2.25"/><circle cx="65.3" cy="524.8" r="2.25"/><circle cx="100.6" cy="515.1" r="2.25"/><circle cx="111.1" cy="508.3" r="2.25"/><circle cx="86.7" cy="509.7" r="2.25"/><circle cx="93.8" cy="500.5" r="2.25"/><circle cx="104.4" cy="505.3" r="2.25"/><circle cx="107.6" cy="507.3" r="2.25"/><circle cx="71.2" cy="526.2" r="2.25"/><circle cx="104.4" cy="508.4" r="2.25"/><circle cx="79.7" cy="510.1" r="2.25"/><circle cx="91.2" cy="519.2" r="2.25"/><circle cx="110.1" cy="505.3" r="2.25"/><circle cx="103.6" cy="505.5" r="2.25"/><circle cx="69.3" cy="517.5" r="2.25"/><circle cx="74.4" cy="507.7" r="2.25"/><circle cx="57.7" cy="526.4" r="2.25"/><circle cx="70.3" cy="521.1" r="2.25"/><circle cx="112.2" cy="512.3" r="2.25"/><circle cx="105.4" cy="512.1" r="2.25"/><circle cx="96.0" cy="518.3" r="2.25"/><circle cx="112.5" cy="506.1" r="2.25"/><circle cx="107.6" cy="506.2" r="2.25"/><circle cx="71.9" cy="518.0" r="2.25"/><circle cx="61.7" cy="521.3" r="2.25"/><circle cx="107.8" cy="511.3" r="2.25"/><circle cx="52.3" cy="532.7" r="2.25"/><circle cx="73.0" cy="527.1" r="2.25"/><circle cx="73.4" cy="522.9" r="2.25"/><circle cx="68.9" cy="525.5" r="2.25"/><circle cx="64.9" cy="531.1" r="2.25"/><circle cx="106.1" cy="507.0" r="2.25"/><circle cx="90.2" cy="521.4" r="2.25"/><circle cx="109.8" cy="508.4" r="2.25"/><circle cx="78.2" cy="522.9" r="2.25"/><circle cx="91.8" cy="512.6" r="2.25"/><circle cx="77.3" cy="517.0" r="2.25"/><circle cx="80.8" cy="523.7" r="2.25"/><circle cx="103.3" cy="507.9" r="2.25"/><circle cx="93.2" cy="502.6" r="2.25"/><circle cx="66.6" cy="521.3" r="2.25"/><circle cx="96.5" cy="518.9" r="2.25"/><circle cx="108.0" cy="496.4" r="2.25"/><circle cx="84.5" cy="522.5" r="2.25"/><circle cx="122.8" cy="497.9" r="2.25"/><circle cx="109.5" cy="513.6" r="2.25"/><circle cx="67.6" cy="519.3" r="2.25"/><circle cx="102.5" cy="511.4" r="2.25"/><circle cx="95.6" cy="510.1" r="2.25"/><circle cx="96.5" cy="511.5" r="2.25"/><circle cx="68.0" cy="531.6" r="2.25"/><circle cx="57.2" cy="535.2" r="2.25"/><circle cx="64.4" cy="529.3" r="2.25"/><circle cx="116.2" cy="500.6" r="2.25"/><circle cx="88.5" cy="513.9" r="2.25"/><circle cx="89.1" cy="508.6" r="2.25"/><circle cx="124.7" cy="494.4" r="2.25"/><circle cx="85.6" cy="507.0" r="2.25"/><circle cx="93.4" cy="519.3" r="2.25"/><circle cx="67.7" cy="529.9" r="2.25"/><circle cx="49.4" cy="533.6" r="2.25"/><circle cx="88.2" cy="508.1" r="2.25"/><circle cx="81.9" cy="520.4" r="2.25"/><circle cx="70.7" cy="520.5" r="2.25"/><circle cx="54.9" cy="516.7" r="2.25"/><circle cx="66.3" cy="526.1" r="2.25"/><circle cx="68.8" cy="526.4" r="2.25"/><circle cx="81.1" cy="523.7" r="2.25"/><circle cx="101.4" cy="505.4" r="2.25"/><circle cx="52.8" cy="521.9" r="2.25"/><circle cx="94.7" cy="512.8" r="2.25"/><circle cx="69.4" cy="524.8" r="2.25"/><circle cx="96.1" cy="513.5" r="2.25"/><circle cx="80.4" cy="516.4" r="2.25"/><circle cx="46.7" cy="524.2" r="2.25"/><circle cx="68.1" cy="528.7" r="2.25"/><circle cx="86.2" cy="520.8" r="2.25"/><circle cx="74.3" cy="515.8" r="2.25"/><circle cx="77.8" cy="514.8" r="2.25"/><circle cx="46.0" cy="525.9" r="2.25"/><circle cx="51.7" cy="521.9" r="2.25"/><circle cx="53.7" cy="531.9" r="2.25"/><circle cx="138.2" cy="484.3" r="2.25"/><circle cx="144.5" cy="493.5" r="2.25"/><circle cx="156.1" cy="491.1" r="2.25"/><circle cx="122.8" cy="486.6" r="2.25"/><circle cx="67.6" cy="538.3" r="2.25"/><circle cx="110.6" cy="524.0" r="2.25"/></g></g>
<line x1="32.18" y1="549.89" x2="186.02" y2="455.74" stroke="#111" stroke-width="1.05" stroke-dasharray="3.2 1.4"/>
<rect x="24.50" y="451.04" width="169.2" height="103.55" fill="none" stroke="#939393" stroke-width="1"/>
<path d="M40.30 554.59v1.6M24.50 544.92h-1.6M68.76 554.59v1.6M24.50 527.51h-1.6M97.22 554.59v1.6M24.50 510.09h-1.6M125.68 554.59v1.6M24.50 492.67h-1.6M154.14 554.59v1.6M24.50 475.25h-1.6M182.60 554.59v1.6M24.50 457.83h-1.6" stroke="#444" stroke-width="0.8" fill="none"/>
<text transform="translate(21.60,547.27) scale(0.97,1)" text-anchor="end" class="tl">20</text>
<text transform="translate(21.60,529.86) scale(0.97,1)" text-anchor="end" class="tl">30</text>
<text transform="translate(21.60,512.44) scale(0.97,1)" text-anchor="end" class="tl">40</text>
<text transform="translate(21.60,495.02) scale(0.97,1)" text-anchor="end" class="tl">50</text>
<text transform="translate(21.60,477.60) scale(0.97,1)" text-anchor="end" class="tl">60</text>
<text transform="translate(21.60,460.18) scale(0.97,1)" text-anchor="end" class="tl">70</text>
<text transform="translate(10.80,503.21) rotate(-90) scale(0.97,1)" text-anchor="middle" class="al">Predicted</text>
<clipPath id="cp41"><rect x="199.80" y="451.04" width="169.2" height="103.55"/></clipPath>
<g clip-path="url(#cp41)"><g fill="#0000ff" fill-opacity="0.78" stroke="#fff" stroke-opacity="0.9" stroke-width="0.4"><circle cx="287.5" cy="500.9" r="2.25"/><circle cx="262.2" cy="515.2" r="2.25"/><circle cx="294.9" cy="498.4" r="2.25"/><circle cx="281.3" cy="505.8" r="2.25"/><circle cx="234.3" cy="526.2" r="2.25"/><circle cx="307.3" cy="488.8" r="2.25"/><circle cx="286.4" cy="501.7" r="2.25"/><circle cx="288.5" cy="501.2" r="2.25"/><circle cx="237.7" cy="526.3" r="2.25"/><circle cx="263.0" cy="516.5" r="2.25"/><circle cx="257.1" cy="516.8" r="2.25"/><circle cx="301.4" cy="494.3" r="2.25"/><circle cx="277.2" cy="503.4" r="2.25"/><circle cx="291.7" cy="499.0" r="2.25"/><circle cx="262.5" cy="511.6" r="2.25"/><circle cx="246.0" cy="521.5" r="2.25"/><circle cx="270.6" cy="512.3" r="2.25"/><circle cx="230.8" cy="529.2" r="2.25"/><circle cx="292.1" cy="500.4" r="2.25"/><circle cx="276.3" cy="503.2" r="2.25"/><circle cx="286.2" cy="503.7" r="2.25"/><circle cx="255.8" cy="514.8" r="2.25"/><circle cx="306.6" cy="492.8" r="2.25"/><circle cx="298.1" cy="494.1" r="2.25"/><circle cx="287.8" cy="500.5" r="2.25"/><circle cx="243.5" cy="522.0" r="2.25"/><circle cx="264.2" cy="512.8" r="2.25"/><circle cx="228.3" cy="529.8" r="2.25"/><circle cx="240.1" cy="522.4" r="2.25"/><circle cx="280.2" cy="506.1" r="2.25"/><circle cx="285.1" cy="505.0" r="2.25"/><circle cx="306.1" cy="493.8" r="2.25"/><circle cx="253.7" cy="517.0" r="2.25"/><circle cx="257.0" cy="512.8" r="2.25"/><circle cx="264.4" cy="512.4" r="2.25"/><circle cx="243.0" cy="522.1" r="2.25"/><circle cx="237.8" cy="523.7" r="2.25"/><circle cx="264.9" cy="510.0" r="2.25"/><circle cx="246.0" cy="520.2" r="2.25"/><circle cx="279.1" cy="506.6" r="2.25"/><circle cx="262.0" cy="511.6" r="2.25"/><circle cx="292.5" cy="498.0" r="2.25"/><circle cx="281.5" cy="501.6" r="2.25"/><circle cx="252.6" cy="517.4" r="2.25"/><circle cx="292.5" cy="501.2" r="2.25"/><circle cx="290.1" cy="502.7" r="2.25"/><circle cx="258.3" cy="512.1" r="2.25"/><circle cx="250.8" cy="515.2" r="2.25"/><circle cx="280.1" cy="505.6" r="2.25"/><circle cx="238.8" cy="524.6" r="2.25"/><circle cx="243.9" cy="518.7" r="2.25"/><circle cx="222.6" cy="533.2" r="2.25"/><circle cx="288.6" cy="502.6" r="2.25"/><circle cx="278.8" cy="504.7" r="2.25"/><circle cx="281.9" cy="505.1" r="2.25"/><circle cx="288.0" cy="501.1" r="2.25"/><circle cx="263.7" cy="513.3" r="2.25"/><circle cx="271.7" cy="508.9" r="2.25"/><circle cx="238.8" cy="521.2" r="2.25"/><circle cx="236.4" cy="524.8" r="2.25"/><circle cx="279.0" cy="504.6" r="2.25"/><circle cx="264.6" cy="516.6" r="2.25"/><circle cx="271.4" cy="509.8" r="2.25"/><circle cx="286.7" cy="503.4" r="2.25"/><circle cx="276.5" cy="509.5" r="2.25"/><circle cx="270.6" cy="511.7" r="2.25"/><circle cx="271.0" cy="510.5" r="2.25"/><circle cx="252.0" cy="516.3" r="2.25"/><circle cx="226.4" cy="531.9" r="2.25"/><circle cx="262.0" cy="513.7" r="2.25"/><circle cx="245.0" cy="521.9" r="2.25"/><circle cx="259.9" cy="515.2" r="2.25"/><circle cx="294.4" cy="495.9" r="2.25"/><circle cx="246.6" cy="519.3" r="2.25"/><circle cx="230.2" cy="525.4" r="2.25"/><circle cx="250.2" cy="519.1" r="2.25"/><circle cx="251.2" cy="519.7" r="2.25"/><circle cx="278.5" cy="506.5" r="2.25"/><circle cx="270.8" cy="509.5" r="2.25"/><circle cx="288.3" cy="500.7" r="2.25"/><circle cx="278.7" cy="508.1" r="2.25"/><circle cx="259.7" cy="514.5" r="2.25"/><circle cx="290.9" cy="499.2" r="2.25"/><circle cx="241.2" cy="518.4" r="2.25"/><circle cx="225.2" cy="526.7" r="2.25"/><circle cx="233.8" cy="527.7" r="2.25"/><circle cx="283.3" cy="504.2" r="2.25"/><circle cx="263.9" cy="515.7" r="2.25"/><circle cx="240.7" cy="524.1" r="2.25"/><circle cx="266.8" cy="511.1" r="2.25"/><circle cx="239.9" cy="521.0" r="2.25"/><circle cx="281.2" cy="506.1" r="2.25"/><circle cx="262.7" cy="514.7" r="2.25"/><circle cx="257.8" cy="519.6" r="2.25"/><circle cx="251.8" cy="518.4" r="2.25"/><circle cx="276.1" cy="509.4" r="2.25"/><circle cx="256.4" cy="517.1" r="2.25"/><circle cx="233.6" cy="527.8" r="2.25"/><circle cx="236.7" cy="525.0" r="2.25"/><circle cx="305.4" cy="495.1" r="2.25"/><circle cx="299.6" cy="497.9" r="2.25"/><circle cx="281.5" cy="500.5" r="2.25"/><circle cx="249.0" cy="521.7" r="2.25"/><circle cx="306.4" cy="493.3" r="2.25"/><circle cx="287.9" cy="497.7" r="2.25"/><circle cx="282.8" cy="499.5" r="2.25"/><circle cx="262.9" cy="515.6" r="2.25"/><circle cx="249.5" cy="519.8" r="2.25"/><circle cx="234.5" cy="525.2" r="2.25"/><circle cx="299.0" cy="492.1" r="2.25"/><circle cx="263.4" cy="515.0" r="2.25"/><circle cx="244.1" cy="521.9" r="2.25"/><circle cx="252.1" cy="516.5" r="2.25"/><circle cx="272.4" cy="508.4" r="2.25"/><circle cx="242.0" cy="523.1" r="2.25"/><circle cx="294.7" cy="497.9" r="2.25"/><circle cx="286.2" cy="504.7" r="2.25"/><circle cx="283.0" cy="504.2" r="2.25"/><circle cx="261.7" cy="514.4" r="2.25"/><circle cx="275.9" cy="507.0" r="2.25"/><circle cx="272.8" cy="510.1" r="2.25"/><circle cx="277.6" cy="505.7" r="2.25"/><circle cx="233.2" cy="524.5" r="2.25"/><circle cx="260.5" cy="514.1" r="2.25"/><circle cx="228.0" cy="528.2" r="2.25"/><circle cx="266.2" cy="511.8" r="2.25"/><circle cx="254.0" cy="517.2" r="2.25"/><circle cx="239.2" cy="525.0" r="2.25"/><circle cx="235.2" cy="524.9" r="2.25"/><circle cx="273.0" cy="509.1" r="2.25"/><circle cx="241.5" cy="518.6" r="2.25"/><circle cx="301.2" cy="491.3" r="2.25"/><circle cx="272.6" cy="508.5" r="2.25"/><circle cx="255.3" cy="518.1" r="2.25"/><circle cx="273.3" cy="511.0" r="2.25"/><circle cx="225.2" cy="527.9" r="2.25"/><circle cx="305.0" cy="491.6" r="2.25"/><circle cx="265.4" cy="511.4" r="2.25"/><circle cx="288.2" cy="504.4" r="2.25"/><circle cx="233.0" cy="524.8" r="2.25"/><circle cx="265.7" cy="511.3" r="2.25"/><circle cx="266.0" cy="514.1" r="2.25"/><circle cx="302.5" cy="494.4" r="2.25"/><circle cx="271.9" cy="509.0" r="2.25"/><circle cx="264.7" cy="512.5" r="2.25"/><circle cx="330.6" cy="481.9" r="2.25"/></g><g fill="#ff0000" fill-opacity="0.78" stroke="#fff" stroke-opacity="0.9" stroke-width="0.4"><circle cx="270.9" cy="512.9" r="2.25"/><circle cx="234.0" cy="520.6" r="2.25"/><circle cx="232.0" cy="522.7" r="2.25"/><circle cx="283.9" cy="511.5" r="2.25"/><circle cx="266.8" cy="508.2" r="2.25"/><circle cx="245.5" cy="522.7" r="2.25"/><circle cx="277.5" cy="508.0" r="2.25"/><circle cx="247.8" cy="517.2" r="2.25"/><circle cx="257.1" cy="510.0" r="2.25"/><circle cx="258.9" cy="518.1" r="2.25"/><circle cx="294.4" cy="507.1" r="2.25"/><circle cx="288.1" cy="506.6" r="2.25"/><circle cx="248.7" cy="516.5" r="2.25"/><circle cx="248.7" cy="514.1" r="2.25"/><circle cx="257.2" cy="513.4" r="2.25"/><circle cx="230.3" cy="522.9" r="2.25"/><circle cx="250.5" cy="512.9" r="2.25"/><circle cx="294.0" cy="497.8" r="2.25"/><circle cx="283.8" cy="512.1" r="2.25"/><circle cx="263.7" cy="512.6" r="2.25"/><circle cx="260.8" cy="510.6" r="2.25"/><circle cx="293.2" cy="505.0" r="2.25"/><circle cx="267.2" cy="506.4" r="2.25"/><circle cx="293.0" cy="506.6" r="2.25"/><circle cx="300.8" cy="507.6" r="2.25"/><circle cx="233.2" cy="519.1" r="2.25"/><circle cx="238.9" cy="528.2" r="2.25"/><circle cx="278.1" cy="510.4" r="2.25"/><circle cx="239.4" cy="512.0" r="2.25"/><circle cx="252.5" cy="515.9" r="2.25"/><circle cx="250.0" cy="515.5" r="2.25"/><circle cx="264.6" cy="515.8" r="2.25"/><circle cx="234.5" cy="521.7" r="2.25"/><circle cx="258.9" cy="514.5" r="2.25"/><circle cx="264.9" cy="505.5" r="2.25"/><circle cx="239.0" cy="523.7" r="2.25"/><circle cx="252.5" cy="524.3" r="2.25"/><circle cx="261.9" cy="511.6" r="2.25"/><circle cx="250.2" cy="511.1" r="2.25"/><circle cx="256.9" cy="517.1" r="2.25"/><circle cx="256.7" cy="521.3" r="2.25"/><circle cx="237.4" cy="524.4" r="2.25"/><circle cx="266.9" cy="510.2" r="2.25"/><circle cx="236.2" cy="523.0" r="2.25"/><circle cx="266.4" cy="511.7" r="2.25"/><circle cx="236.7" cy="528.9" r="2.25"/><circle cx="263.9" cy="514.4" r="2.25"/><circle cx="284.7" cy="504.0" r="2.25"/><circle cx="249.3" cy="517.9" r="2.25"/><circle cx="236.7" cy="524.4" r="2.25"/><circle cx="251.2" cy="512.6" r="2.25"/><circle cx="257.3" cy="510.9" r="2.25"/><circle cx="318.1" cy="501.9" r="2.25"/><circle cx="282.8" cy="495.8" r="2.25"/><circle cx="278.2" cy="517.4" r="2.25"/></g></g>
<line x1="207.48" y1="549.89" x2="361.32" y2="455.74" stroke="#111" stroke-width="1.05" stroke-dasharray="3.2 1.4"/>
<rect x="199.80" y="451.04" width="169.2" height="103.55" fill="none" stroke="#939393" stroke-width="1"/>
<path d="M215.60 554.59v1.6M199.80 544.92h-1.6M244.06 554.59v1.6M199.80 527.51h-1.6M272.52 554.59v1.6M199.80 510.09h-1.6M300.98 554.59v1.6M199.80 492.67h-1.6M329.44 554.59v1.6M199.80 475.25h-1.6M357.90 554.59v1.6M199.80 457.83h-1.6" stroke="#444" stroke-width="0.8" fill="none"/>
<text transform="translate(284.40,459.34) scale(0.97,1)" text-anchor="middle" class="tb">Barley</text>
<clipPath id="cp42"><rect x="375.30" y="451.04" width="169.2" height="103.55"/></clipPath>
<g clip-path="url(#cp42)"><g fill="#0000ff" fill-opacity="0.78" stroke="#fff" stroke-opacity="0.9" stroke-width="0.4"><circle cx="413.7" cy="518.9" r="2.25"/><circle cx="423.1" cy="524.7" r="2.25"/><circle cx="433.0" cy="509.4" r="2.25"/><circle cx="477.3" cy="489.2" r="2.25"/><circle cx="416.5" cy="527.1" r="2.25"/><circle cx="465.0" cy="496.9" r="2.25"/><circle cx="416.6" cy="528.9" r="2.25"/><circle cx="428.5" cy="524.6" r="2.25"/><circle cx="451.3" cy="513.8" r="2.25"/><circle cx="446.9" cy="514.5" r="2.25"/><circle cx="475.3" cy="501.0" r="2.25"/><circle cx="433.3" cy="516.6" r="2.25"/><circle cx="473.3" cy="489.9" r="2.25"/><circle cx="471.8" cy="499.0" r="2.25"/><circle cx="454.0" cy="510.1" r="2.25"/><circle cx="404.2" cy="528.0" r="2.25"/><circle cx="460.2" cy="504.4" r="2.25"/><circle cx="469.0" cy="498.8" r="2.25"/><circle cx="440.7" cy="510.8" r="2.25"/><circle cx="419.0" cy="521.5" r="2.25"/><circle cx="417.8" cy="526.8" r="2.25"/><circle cx="464.0" cy="502.6" r="2.25"/><circle cx="411.1" cy="523.5" r="2.25"/><circle cx="442.2" cy="513.6" r="2.25"/><circle cx="419.4" cy="524.1" r="2.25"/><circle cx="426.1" cy="518.5" r="2.25"/><circle cx="478.6" cy="493.1" r="2.25"/><circle cx="424.4" cy="522.0" r="2.25"/><circle cx="451.7" cy="504.8" r="2.25"/><circle cx="457.9" cy="504.5" r="2.25"/><circle cx="425.2" cy="525.9" r="2.25"/><circle cx="415.4" cy="522.3" r="2.25"/><circle cx="458.2" cy="508.2" r="2.25"/><circle cx="436.1" cy="504.3" r="2.25"/><circle cx="425.2" cy="519.0" r="2.25"/><circle cx="420.0" cy="524.0" r="2.25"/><circle cx="479.7" cy="490.8" r="2.25"/><circle cx="449.0" cy="502.0" r="2.25"/><circle cx="440.6" cy="505.8" r="2.25"/><circle cx="413.1" cy="524.9" r="2.25"/><circle cx="470.2" cy="494.0" r="2.25"/><circle cx="428.2" cy="515.6" r="2.25"/><circle cx="459.7" cy="503.1" r="2.25"/><circle cx="469.5" cy="505.5" r="2.25"/><circle cx="419.6" cy="522.9" r="2.25"/><circle cx="478.7" cy="504.1" r="2.25"/><circle cx="468.4" cy="503.3" r="2.25"/><circle cx="443.5" cy="505.1" r="2.25"/><circle cx="454.7" cy="505.1" r="2.25"/><circle cx="424.5" cy="520.7" r="2.25"/><circle cx="454.6" cy="509.9" r="2.25"/><circle cx="434.6" cy="519.3" r="2.25"/><circle cx="427.7" cy="521.9" r="2.25"/><circle cx="452.6" cy="513.2" r="2.25"/><circle cx="431.5" cy="527.1" r="2.25"/><circle cx="453.2" cy="501.9" r="2.25"/><circle cx="464.5" cy="493.9" r="2.25"/><circle cx="424.0" cy="523.5" r="2.25"/><circle cx="419.6" cy="519.7" r="2.25"/><circle cx="427.3" cy="524.5" r="2.25"/><circle cx="434.2" cy="514.2" r="2.25"/><circle cx="455.0" cy="512.1" r="2.25"/><circle cx="435.0" cy="511.2" r="2.25"/><circle cx="452.4" cy="506.8" r="2.25"/><circle cx="482.0" cy="498.3" r="2.25"/><circle cx="421.5" cy="519.7" r="2.25"/><circle cx="457.2" cy="497.2" r="2.25"/><circle cx="437.6" cy="514.0" r="2.25"/><circle cx="433.8" cy="516.1" r="2.25"/><circle cx="445.9" cy="510.0" r="2.25"/><circle cx="413.4" cy="525.5" r="2.25"/><circle cx="427.0" cy="513.8" r="2.25"/><circle cx="424.2" cy="515.1" r="2.25"/><circle cx="446.5" cy="519.4" r="2.25"/><circle cx="420.9" cy="517.2" r="2.25"/><circle cx="407.4" cy="529.7" r="2.25"/><circle cx="406.7" cy="523.0" r="2.25"/><circle cx="458.4" cy="502.1" r="2.25"/><circle cx="451.7" cy="503.0" r="2.25"/><circle cx="464.3" cy="503.7" r="2.25"/><circle cx="451.2" cy="513.6" r="2.25"/><circle cx="407.9" cy="527.8" r="2.25"/><circle cx="453.0" cy="502.4" r="2.25"/><circle cx="442.2" cy="508.5" r="2.25"/><circle cx="476.2" cy="492.6" r="2.25"/><circle cx="421.2" cy="521.2" r="2.25"/><circle cx="410.3" cy="524.7" r="2.25"/><circle cx="463.0" cy="505.7" r="2.25"/><circle cx="434.1" cy="516.4" r="2.25"/><circle cx="437.1" cy="521.3" r="2.25"/><circle cx="454.1" cy="506.4" r="2.25"/><circle cx="418.0" cy="525.1" r="2.25"/><circle cx="435.9" cy="514.6" r="2.25"/><circle cx="460.6" cy="498.4" r="2.25"/><circle cx="445.4" cy="510.1" r="2.25"/><circle cx="469.3" cy="509.0" r="2.25"/><circle cx="465.7" cy="494.6" r="2.25"/><circle cx="424.2" cy="520.0" r="2.25"/><circle cx="460.0" cy="499.9" r="2.25"/><circle cx="448.3" cy="512.6" r="2.25"/><circle cx="413.6" cy="522.5" r="2.25"/><circle cx="423.5" cy="514.4" r="2.25"/><circle cx="456.8" cy="512.2" r="2.25"/><circle cx="464.0" cy="496.0" r="2.25"/><circle cx="416.0" cy="528.7" r="2.25"/><circle cx="453.2" cy="510.1" r="2.25"/><circle cx="427.7" cy="519.0" r="2.25"/><circle cx="418.0" cy="514.9" r="2.25"/><circle cx="412.0" cy="534.1" r="2.25"/><circle cx="412.0" cy="529.4" r="2.25"/><circle cx="436.7" cy="514.3" r="2.25"/><circle cx="413.3" cy="523.4" r="2.25"/><circle cx="446.2" cy="510.5" r="2.25"/><circle cx="462.3" cy="500.3" r="2.25"/><circle cx="434.1" cy="520.5" r="2.25"/><circle cx="447.2" cy="506.0" r="2.25"/><circle cx="463.2" cy="497.1" r="2.25"/><circle cx="462.3" cy="507.3" r="2.25"/><circle cx="426.9" cy="522.8" r="2.25"/><circle cx="443.5" cy="509.5" r="2.25"/><circle cx="437.5" cy="512.6" r="2.25"/><circle cx="413.6" cy="523.8" r="2.25"/><circle cx="419.1" cy="528.4" r="2.25"/><circle cx="410.8" cy="528.9" r="2.25"/><circle cx="420.7" cy="524.5" r="2.25"/><circle cx="475.7" cy="490.4" r="2.25"/><circle cx="469.7" cy="499.3" r="2.25"/><circle cx="462.2" cy="504.6" r="2.25"/><circle cx="464.1" cy="505.6" r="2.25"/><circle cx="471.0" cy="498.3" r="2.25"/><circle cx="418.3" cy="518.5" r="2.25"/><circle cx="444.5" cy="517.9" r="2.25"/><circle cx="431.1" cy="516.8" r="2.25"/><circle cx="418.6" cy="521.3" r="2.25"/><circle cx="414.8" cy="517.0" r="2.25"/><circle cx="466.0" cy="497.6" r="2.25"/><circle cx="448.5" cy="502.7" r="2.25"/><circle cx="453.5" cy="506.3" r="2.25"/><circle cx="468.1" cy="505.8" r="2.25"/><circle cx="418.4" cy="529.7" r="2.25"/><circle cx="481.5" cy="496.4" r="2.25"/><circle cx="438.5" cy="513.0" r="2.25"/><circle cx="428.9" cy="519.6" r="2.25"/><circle cx="473.0" cy="499.3" r="2.25"/><circle cx="423.3" cy="513.2" r="2.25"/><circle cx="495.3" cy="494.8" r="2.25"/><circle cx="427.5" cy="503.5" r="2.25"/></g><g fill="#ff0000" fill-opacity="0.78" stroke="#fff" stroke-opacity="0.9" stroke-width="0.4"><circle cx="441.1" cy="504.9" r="2.25"/><circle cx="438.6" cy="509.4" r="2.25"/><circle cx="452.8" cy="505.9" r="2.25"/><circle cx="456.3" cy="514.1" r="2.25"/><circle cx="437.5" cy="518.7" r="2.25"/><circle cx="453.9" cy="507.7" r="2.25"/><circle cx="455.1" cy="504.1" r="2.25"/><circle cx="442.3" cy="522.4" r="2.25"/><circle cx="431.6" cy="512.8" r="2.25"/><circle cx="446.8" cy="517.1" r="2.25"/><circle cx="444.2" cy="518.9" r="2.25"/><circle cx="458.5" cy="500.4" r="2.25"/><circle cx="450.2" cy="512.9" r="2.25"/><circle cx="438.6" cy="512.7" r="2.25"/><circle cx="470.7" cy="495.7" r="2.25"/><circle cx="435.1" cy="512.7" r="2.25"/><circle cx="456.2" cy="512.8" r="2.25"/><circle cx="460.6" cy="508.2" r="2.25"/><circle cx="444.3" cy="515.7" r="2.25"/><circle cx="407.5" cy="525.6" r="2.25"/><circle cx="408.2" cy="525.6" r="2.25"/><circle cx="413.6" cy="519.1" r="2.25"/><circle cx="448.7" cy="507.6" r="2.25"/><circle cx="407.2" cy="522.6" r="2.25"/><circle cx="448.6" cy="511.4" r="2.25"/><circle cx="432.3" cy="519.1" r="2.25"/><circle cx="429.3" cy="527.2" r="2.25"/><circle cx="416.1" cy="527.8" r="2.25"/><circle cx="412.6" cy="534.7" r="2.25"/><circle cx="414.0" cy="529.5" r="2.25"/><circle cx="453.8" cy="500.0" r="2.25"/><circle cx="417.4" cy="522.2" r="2.25"/><circle cx="449.2" cy="509.7" r="2.25"/><circle cx="448.7" cy="510.8" r="2.25"/><circle cx="438.3" cy="517.5" r="2.25"/><circle cx="470.2" cy="501.3" r="2.25"/><circle cx="429.6" cy="512.6" r="2.25"/><circle cx="406.4" cy="533.5" r="2.25"/><circle cx="436.7" cy="519.0" r="2.25"/><circle cx="419.2" cy="527.8" r="2.25"/><circle cx="413.9" cy="526.7" r="2.25"/><circle cx="475.0" cy="487.2" r="2.25"/><circle cx="428.7" cy="508.1" r="2.25"/><circle cx="448.1" cy="499.5" r="2.25"/><circle cx="419.7" cy="529.7" r="2.25"/><circle cx="404.0" cy="536.2" r="2.25"/><circle cx="472.2" cy="495.2" r="2.25"/><circle cx="450.1" cy="514.5" r="2.25"/><circle cx="449.0" cy="508.2" r="2.25"/><circle cx="456.8" cy="513.9" r="2.25"/><circle cx="426.3" cy="513.1" r="2.25"/><circle cx="433.3" cy="517.3" r="2.25"/><circle cx="429.7" cy="520.3" r="2.25"/><circle cx="461.3" cy="492.3" r="2.25"/><circle cx="426.1" cy="518.6" r="2.25"/><circle cx="427.6" cy="525.0" r="2.25"/><circle cx="451.9" cy="513.6" r="2.25"/><circle cx="443.3" cy="505.5" r="2.25"/><circle cx="438.7" cy="519.7" r="2.25"/><circle cx="415.2" cy="515.7" r="2.25"/><circle cx="430.1" cy="524.9" r="2.25"/><circle cx="463.5" cy="502.8" r="2.25"/><circle cx="396.8" cy="524.0" r="2.25"/><circle cx="506.1" cy="491.1" r="2.25"/><circle cx="488.4" cy="488.0" r="2.25"/><circle cx="465.9" cy="520.4" r="2.25"/></g></g>
<line x1="382.98" y1="549.89" x2="536.82" y2="455.74" stroke="#111" stroke-width="1.05" stroke-dasharray="3.2 1.4"/>
<rect x="375.30" y="451.04" width="169.2" height="103.55" fill="none" stroke="#939393" stroke-width="1"/>
<path d="M391.10 554.59v1.6M375.30 544.92h-1.6M419.56 554.59v1.6M375.30 527.51h-1.6M448.02 554.59v1.6M375.30 510.09h-1.6M476.48 554.59v1.6M375.30 492.67h-1.6M504.94 554.59v1.6M375.30 475.25h-1.6M533.40 554.59v1.6M375.30 457.83h-1.6" stroke="#444" stroke-width="0.8" fill="none"/>
<clipPath id="cp50"><rect x="24.50" y="560.71" width="169.2" height="103.55"/></clipPath>
<g clip-path="url(#cp50)"><g fill="#0000ff" fill-opacity="0.78" stroke="#fff" stroke-opacity="0.9" stroke-width="0.4"><circle cx="88.5" cy="630.9" r="2.25"/><circle cx="57.6" cy="640.4" r="2.25"/><circle cx="54.7" cy="641.6" r="2.25"/><circle cx="52.9" cy="650.8" r="2.25"/><circle cx="80.0" cy="639.4" r="2.25"/><circle cx="52.5" cy="643.7" r="2.25"/><circle cx="81.0" cy="634.2" r="2.25"/><circle cx="77.4" cy="636.7" r="2.25"/><circle cx="63.4" cy="635.0" r="2.25"/><circle cx="66.6" cy="644.3" r="2.25"/><circle cx="86.4" cy="639.7" r="2.25"/><circle cx="80.2" cy="635.8" r="2.25"/><circle cx="48.4" cy="638.1" r="2.25"/><circle cx="78.2" cy="642.3" r="2.25"/><circle cx="62.5" cy="646.8" r="2.25"/><circle cx="93.0" cy="625.7" r="2.25"/><circle cx="52.2" cy="645.9" r="2.25"/><circle cx="62.8" cy="639.2" r="2.25"/><circle cx="88.6" cy="627.6" r="2.25"/><circle cx="70.5" cy="642.7" r="2.25"/><circle cx="77.5" cy="635.6" r="2.25"/><circle cx="71.6" cy="635.0" r="2.25"/><circle cx="53.4" cy="643.0" r="2.25"/><circle cx="39.8" cy="647.2" r="2.25"/><circle cx="43.7" cy="647.7" r="2.25"/><circle cx="60.3" cy="642.4" r="2.25"/><circle cx="43.4" cy="640.2" r="2.25"/><circle cx="49.5" cy="652.7" r="2.25"/><circle cx="66.4" cy="636.9" r="2.25"/><circle cx="60.1" cy="640.6" r="2.25"/><circle cx="69.8" cy="637.7" r="2.25"/><circle cx="59.5" cy="640.4" r="2.25"/><circle cx="69.5" cy="638.2" r="2.25"/><circle cx="73.3" cy="634.1" r="2.25"/><circle cx="83.5" cy="644.0" r="2.25"/><circle cx="37.3" cy="643.3" r="2.25"/><circle cx="78.2" cy="632.7" r="2.25"/><circle cx="61.0" cy="639.9" r="2.25"/><circle cx="54.4" cy="642.3" r="2.25"/><circle cx="45.1" cy="640.3" r="2.25"/><circle cx="68.7" cy="628.2" r="2.25"/><circle cx="76.1" cy="628.6" r="2.25"/><circle cx="94.3" cy="626.9" r="2.25"/><circle cx="57.8" cy="649.6" r="2.25"/><circle cx="91.9" cy="625.7" r="2.25"/><circle cx="68.2" cy="637.7" r="2.25"/><circle cx="85.6" cy="637.0" r="2.25"/><circle cx="43.3" cy="643.4" r="2.25"/><circle cx="40.0" cy="640.6" r="2.25"/><circle cx="64.2" cy="647.4" r="2.25"/><circle cx="35.9" cy="643.6" r="2.25"/><circle cx="57.6" cy="643.4" r="2.25"/><circle cx="36.9" cy="646.0" r="2.25"/><circle cx="81.6" cy="636.4" r="2.25"/><circle cx="42.4" cy="641.7" r="2.25"/><circle cx="69.4" cy="637.4" r="2.25"/><circle cx="90.6" cy="635.8" r="2.25"/><circle cx="65.7" cy="643.0" r="2.25"/><circle cx="57.8" cy="643.4" r="2.25"/><circle cx="83.6" cy="632.0" r="2.25"/><circle cx="77.7" cy="639.4" r="2.25"/><circle cx="47.2" cy="640.1" r="2.25"/><circle cx="63.8" cy="633.4" r="2.25"/><circle cx="60.2" cy="639.0" r="2.25"/><circle cx="80.9" cy="644.4" r="2.25"/><circle cx="66.6" cy="636.6" r="2.25"/><circle cx="63.3" cy="636.8" r="2.25"/><circle cx="63.3" cy="635.0" r="2.25"/><circle cx="76.9" cy="634.7" r="2.25"/><circle cx="91.1" cy="627.0" r="2.25"/><circle cx="73.0" cy="629.7" r="2.25"/><circle cx="63.6" cy="638.8" r="2.25"/><circle cx="72.2" cy="633.1" r="2.25"/><circle cx="94.1" cy="624.7" r="2.25"/><circle cx="85.9" cy="630.9" r="2.25"/><circle cx="43.6" cy="642.5" r="2.25"/><circle cx="54.0" cy="632.4" r="2.25"/><circle cx="69.0" cy="647.4" r="2.25"/><circle cx="66.0" cy="631.7" r="2.25"/><circle cx="63.7" cy="640.6" r="2.25"/><circle cx="58.7" cy="650.6" r="2.25"/><circle cx="82.0" cy="630.5" r="2.25"/><circle cx="68.0" cy="631.1" r="2.25"/><circle cx="38.9" cy="645.9" r="2.25"/><circle cx="70.3" cy="634.8" r="2.25"/><circle cx="92.3" cy="628.0" r="2.25"/><circle cx="61.0" cy="641.8" r="2.25"/><circle cx="61.4" cy="638.2" r="2.25"/><circle cx="83.0" cy="631.1" r="2.25"/><circle cx="71.0" cy="640.5" r="2.25"/><circle cx="68.5" cy="638.3" r="2.25"/><circle cx="50.5" cy="646.7" r="2.25"/><circle cx="69.5" cy="642.4" r="2.25"/><circle cx="49.0" cy="643.6" r="2.25"/><circle cx="70.1" cy="635.7" r="2.25"/><circle cx="79.7" cy="634.4" r="2.25"/><circle cx="42.3" cy="642.2" r="2.25"/><circle cx="79.0" cy="632.1" r="2.25"/><circle cx="81.5" cy="631.7" r="2.25"/><circle cx="42.2" cy="647.3" r="2.25"/><circle cx="82.2" cy="636.3" r="2.25"/><circle cx="40.0" cy="650.9" r="2.25"/><circle cx="88.3" cy="626.8" r="2.25"/><circle cx="58.7" cy="636.5" r="2.25"/><circle cx="59.3" cy="641.8" r="2.25"/><circle cx="60.7" cy="640.4" r="2.25"/><circle cx="56.4" cy="637.3" r="2.25"/><circle cx="43.1" cy="648.5" r="2.25"/><circle cx="70.0" cy="639.8" r="2.25"/><circle cx="42.7" cy="648.4" r="2.25"/><circle cx="62.2" cy="639.9" r="2.25"/><circle cx="47.2" cy="638.1" r="2.25"/><circle cx="72.3" cy="639.6" r="2.25"/><circle cx="53.8" cy="636.3" r="2.25"/><circle cx="42.9" cy="643.3" r="2.25"/><circle cx="35.1" cy="647.9" r="2.25"/><circle cx="81.4" cy="631.3" r="2.25"/><circle cx="58.8" cy="645.9" r="2.25"/><circle cx="81.8" cy="634.3" r="2.25"/><circle cx="86.0" cy="633.5" r="2.25"/><circle cx="39.5" cy="636.9" r="2.25"/><circle cx="49.1" cy="645.0" r="2.25"/><circle cx="43.8" cy="643.4" r="2.25"/><circle cx="49.7" cy="648.3" r="2.25"/><circle cx="54.6" cy="646.1" r="2.25"/><circle cx="51.4" cy="639.5" r="2.25"/><circle cx="49.3" cy="635.6" r="2.25"/><circle cx="82.6" cy="629.2" r="2.25"/><circle cx="85.7" cy="640.6" r="2.25"/><circle cx="81.0" cy="639.8" r="2.25"/><circle cx="84.6" cy="640.1" r="2.25"/><circle cx="68.0" cy="638.6" r="2.25"/><circle cx="47.0" cy="639.0" r="2.25"/><circle cx="47.3" cy="639.8" r="2.25"/><circle cx="60.5" cy="639.8" r="2.25"/><circle cx="39.4" cy="645.6" r="2.25"/><circle cx="61.3" cy="650.2" r="2.25"/><circle cx="59.8" cy="650.5" r="2.25"/><circle cx="57.3" cy="642.8" r="2.25"/><circle cx="61.6" cy="648.5" r="2.25"/><circle cx="87.9" cy="634.4" r="2.25"/><circle cx="39.5" cy="650.6" r="2.25"/><circle cx="70.9" cy="634.7" r="2.25"/><circle cx="81.9" cy="638.3" r="2.25"/><circle cx="83.4" cy="639.5" r="2.25"/><circle cx="54.5" cy="643.0" r="2.25"/><circle cx="61.8" cy="635.5" r="2.25"/><circle cx="80.3" cy="637.9" r="2.25"/><circle cx="82.9" cy="629.4" r="2.25"/><circle cx="55.7" cy="647.8" r="2.25"/><circle cx="67.6" cy="645.0" r="2.25"/><circle cx="43.7" cy="646.7" r="2.25"/><circle cx="86.7" cy="634.8" r="2.25"/><circle cx="77.0" cy="634.1" r="2.25"/><circle cx="81.9" cy="636.2" r="2.25"/><circle cx="54.9" cy="642.7" r="2.25"/><circle cx="32.8" cy="653.5" r="2.25"/><circle cx="54.6" cy="636.8" r="2.25"/><circle cx="70.0" cy="640.6" r="2.25"/><circle cx="61.4" cy="639.5" r="2.25"/><circle cx="48.0" cy="643.5" r="2.25"/><circle cx="62.7" cy="631.1" r="2.25"/><circle cx="66.9" cy="647.2" r="2.25"/><circle cx="40.6" cy="646.1" r="2.25"/><circle cx="84.6" cy="628.6" r="2.25"/><circle cx="81.9" cy="644.8" r="2.25"/><circle cx="78.6" cy="638.6" r="2.25"/><circle cx="50.6" cy="643.7" r="2.25"/><circle cx="90.1" cy="632.9" r="2.25"/><circle cx="46.1" cy="649.7" r="2.25"/><circle cx="64.1" cy="636.1" r="2.25"/><circle cx="68.3" cy="644.4" r="2.25"/><circle cx="52.3" cy="637.0" r="2.25"/><circle cx="59.6" cy="641.5" r="2.25"/><circle cx="87.7" cy="639.3" r="2.25"/><circle cx="75.8" cy="630.5" r="2.25"/><circle cx="43.3" cy="644.1" r="2.25"/><circle cx="85.9" cy="632.2" r="2.25"/><circle cx="56.3" cy="637.7" r="2.25"/><circle cx="62.1" cy="641.9" r="2.25"/><circle cx="71.0" cy="640.2" r="2.25"/><circle cx="38.4" cy="644.7" r="2.25"/><circle cx="38.2" cy="640.8" r="2.25"/><circle cx="50.0" cy="641.3" r="2.25"/><circle cx="72.3" cy="640.1" r="2.25"/><circle cx="32.3" cy="646.4" r="2.25"/><circle cx="34.0" cy="650.8" r="2.25"/><circle cx="63.1" cy="626.4" r="2.25"/><circle cx="73.9" cy="626.0" r="2.25"/><circle cx="95.2" cy="625.5" r="2.25"/></g></g>
<line x1="32.18" y1="659.56" x2="186.02" y2="565.41" stroke="#111" stroke-width="1.05" stroke-dasharray="3.2 1.4"/>
<rect x="24.50" y="560.71" width="169.2" height="103.55" fill="none" stroke="#939393" stroke-width="1"/>
<path d="M40.30 664.26v1.6M24.50 654.59h-1.6M68.76 664.26v1.6M24.50 637.18h-1.6M97.22 664.26v1.6M24.50 619.76h-1.6M125.68 664.26v1.6M24.50 602.34h-1.6M154.14 664.26v1.6M24.50 584.92h-1.6M182.60 664.26v1.6M24.50 567.50h-1.6" stroke="#444" stroke-width="0.8" fill="none"/>
<text transform="translate(21.60,656.94) scale(0.97,1)" text-anchor="end" class="tl">20</text>
<text transform="translate(21.60,639.53) scale(0.97,1)" text-anchor="end" class="tl">30</text>
<text transform="translate(21.60,622.11) scale(0.97,1)" text-anchor="end" class="tl">40</text>
<text transform="translate(21.60,604.69) scale(0.97,1)" text-anchor="end" class="tl">50</text>
<text transform="translate(21.60,587.27) scale(0.97,1)" text-anchor="end" class="tl">60</text>
<text transform="translate(21.60,569.85) scale(0.97,1)" text-anchor="end" class="tl">70</text>
<text transform="translate(10.80,612.88) rotate(-90) scale(0.97,1)" text-anchor="middle" class="al">Predicted</text>
<text transform="translate(40.30,671.96) scale(0.97,1)" text-anchor="middle" class="tl">20</text>
<text transform="translate(68.76,671.96) scale(0.97,1)" text-anchor="middle" class="tl">30</text>
<text transform="translate(97.22,671.96) scale(0.97,1)" text-anchor="middle" class="tl">40</text>
<text transform="translate(125.68,671.96) scale(0.97,1)" text-anchor="middle" class="tl">50</text>
<text transform="translate(154.14,671.96) scale(0.97,1)" text-anchor="middle" class="tl">60</text>
<text transform="translate(182.60,671.96) scale(0.97,1)" text-anchor="middle" class="tl">70</text>
<text transform="translate(109.10,679.76) scale(0.97,1)" text-anchor="middle" class="al">Observed</text>
<clipPath id="cp51"><rect x="199.80" y="560.71" width="169.2" height="103.55"/></clipPath>
<g clip-path="url(#cp51)"><g fill="#0000ff" fill-opacity="0.78" stroke="#fff" stroke-opacity="0.9" stroke-width="0.4"><circle cx="245.3" cy="635.4" r="2.25"/><circle cx="243.3" cy="639.9" r="2.25"/><circle cx="240.6" cy="639.3" r="2.25"/><circle cx="208.3" cy="651.1" r="2.25"/><circle cx="242.1" cy="641.9" r="2.25"/><circle cx="266.3" cy="625.3" r="2.25"/><circle cx="234.4" cy="641.6" r="2.25"/><circle cx="209.2" cy="654.2" r="2.25"/><circle cx="226.1" cy="644.8" r="2.25"/><circle cx="264.3" cy="629.9" r="2.25"/><circle cx="260.4" cy="628.5" r="2.25"/><circle cx="238.3" cy="640.7" r="2.25"/><circle cx="217.8" cy="648.1" r="2.25"/><circle cx="214.8" cy="652.7" r="2.25"/><circle cx="268.0" cy="625.2" r="2.25"/><circle cx="213.6" cy="650.1" r="2.25"/><circle cx="239.1" cy="641.9" r="2.25"/><circle cx="235.0" cy="639.7" r="2.25"/><circle cx="252.9" cy="635.5" r="2.25"/><circle cx="214.3" cy="647.7" r="2.25"/><circle cx="239.5" cy="637.0" r="2.25"/><circle cx="258.3" cy="632.3" r="2.25"/><circle cx="235.1" cy="639.5" r="2.25"/><circle cx="253.5" cy="632.9" r="2.25"/><circle cx="241.8" cy="638.5" r="2.25"/><circle cx="222.6" cy="647.0" r="2.25"/><circle cx="253.3" cy="636.3" r="2.25"/><circle cx="226.5" cy="645.9" r="2.25"/><circle cx="244.8" cy="638.1" r="2.25"/><circle cx="228.1" cy="644.3" r="2.25"/><circle cx="270.0" cy="628.5" r="2.25"/><circle cx="230.2" cy="644.4" r="2.25"/><circle cx="229.9" cy="642.9" r="2.25"/><circle cx="238.4" cy="641.7" r="2.25"/><circle cx="233.2" cy="642.1" r="2.25"/><circle cx="248.2" cy="635.2" r="2.25"/><circle cx="243.2" cy="638.9" r="2.25"/><circle cx="235.4" cy="641.6" r="2.25"/><circle cx="221.6" cy="646.7" r="2.25"/><circle cx="219.8" cy="651.1" r="2.25"/><circle cx="227.3" cy="644.6" r="2.25"/><circle cx="265.8" cy="627.7" r="2.25"/><circle cx="238.8" cy="640.4" r="2.25"/><circle cx="237.6" cy="641.7" r="2.25"/><circle cx="246.7" cy="637.7" r="2.25"/><circle cx="233.4" cy="641.8" r="2.25"/><circle cx="246.5" cy="636.3" r="2.25"/><circle cx="268.2" cy="626.5" r="2.25"/><circle cx="241.2" cy="641.9" r="2.25"/><circle cx="232.3" cy="642.8" r="2.25"/><circle cx="240.7" cy="638.8" r="2.25"/><circle cx="239.9" cy="636.9" r="2.25"/><circle cx="228.8" cy="646.0" r="2.25"/><circle cx="222.8" cy="647.2" r="2.25"/><circle cx="250.1" cy="635.5" r="2.25"/><circle cx="239.5" cy="643.8" r="2.25"/><circle cx="226.7" cy="646.9" r="2.25"/><circle cx="252.9" cy="633.1" r="2.25"/><circle cx="261.9" cy="630.3" r="2.25"/><circle cx="243.8" cy="635.6" r="2.25"/><circle cx="213.1" cy="650.8" r="2.25"/><circle cx="242.1" cy="639.5" r="2.25"/><circle cx="246.8" cy="635.2" r="2.25"/><circle cx="255.4" cy="633.1" r="2.25"/><circle cx="220.1" cy="647.0" r="2.25"/><circle cx="258.5" cy="630.5" r="2.25"/><circle cx="242.8" cy="637.9" r="2.25"/><circle cx="236.6" cy="642.4" r="2.25"/><circle cx="208.7" cy="653.3" r="2.25"/><circle cx="222.3" cy="647.1" r="2.25"/><circle cx="228.0" cy="644.9" r="2.25"/><circle cx="262.8" cy="627.8" r="2.25"/><circle cx="233.7" cy="640.0" r="2.25"/><circle cx="241.7" cy="639.4" r="2.25"/><circle cx="246.2" cy="638.2" r="2.25"/><circle cx="252.8" cy="632.7" r="2.25"/><circle cx="220.7" cy="649.1" r="2.25"/><circle cx="218.4" cy="646.9" r="2.25"/><circle cx="248.1" cy="636.8" r="2.25"/><circle cx="221.1" cy="649.4" r="2.25"/><circle cx="264.1" cy="627.5" r="2.25"/><circle cx="233.6" cy="644.5" r="2.25"/><circle cx="251.4" cy="635.2" r="2.25"/><circle cx="224.8" cy="645.5" r="2.25"/><circle cx="228.7" cy="647.8" r="2.25"/><circle cx="262.0" cy="628.8" r="2.25"/><circle cx="222.2" cy="648.5" r="2.25"/><circle cx="235.7" cy="641.9" r="2.25"/><circle cx="262.6" cy="627.4" r="2.25"/><circle cx="225.3" cy="645.9" r="2.25"/><circle cx="245.8" cy="636.3" r="2.25"/><circle cx="221.3" cy="648.9" r="2.25"/><circle cx="223.7" cy="644.9" r="2.25"/><circle cx="225.7" cy="645.5" r="2.25"/><circle cx="261.8" cy="632.2" r="2.25"/><circle cx="216.7" cy="648.0" r="2.25"/><circle cx="240.2" cy="641.8" r="2.25"/><circle cx="222.1" cy="645.9" r="2.25"/><circle cx="224.1" cy="648.4" r="2.25"/><circle cx="212.6" cy="651.0" r="2.25"/><circle cx="226.5" cy="644.2" r="2.25"/><circle cx="211.1" cy="652.8" r="2.25"/><circle cx="218.9" cy="648.6" r="2.25"/><circle cx="231.2" cy="642.9" r="2.25"/><circle cx="247.9" cy="639.0" r="2.25"/><circle cx="224.1" cy="644.0" r="2.25"/><circle cx="224.0" cy="647.2" r="2.25"/><circle cx="256.4" cy="631.3" r="2.25"/><circle cx="253.3" cy="633.4" r="2.25"/><circle cx="246.0" cy="635.8" r="2.25"/><circle cx="232.4" cy="643.3" r="2.25"/><circle cx="226.9" cy="647.6" r="2.25"/><circle cx="255.6" cy="631.1" r="2.25"/><circle cx="246.0" cy="640.8" r="2.25"/><circle cx="217.4" cy="648.3" r="2.25"/><circle cx="212.1" cy="654.7" r="2.25"/><circle cx="211.8" cy="650.4" r="2.25"/><circle cx="228.9" cy="643.9" r="2.25"/><circle cx="246.9" cy="636.7" r="2.25"/><circle cx="229.8" cy="645.2" r="2.25"/><circle cx="265.6" cy="627.3" r="2.25"/><circle cx="234.9" cy="643.5" r="2.25"/><circle cx="266.1" cy="626.0" r="2.25"/><circle cx="256.0" cy="631.5" r="2.25"/><circle cx="226.6" cy="644.4" r="2.25"/></g><g fill="#ff0000" fill-opacity="0.78" stroke="#fff" stroke-opacity="0.9" stroke-width="0.4"><circle cx="210.8" cy="655.2" r="2.25"/><circle cx="243.5" cy="630.4" r="2.25"/><circle cx="227.4" cy="641.8" r="2.25"/><circle cx="253.1" cy="634.7" r="2.25"/><circle cx="216.5" cy="644.9" r="2.25"/><circle cx="241.4" cy="636.3" r="2.25"/><circle cx="247.4" cy="642.4" r="2.25"/><circle cx="242.4" cy="636.4" r="2.25"/><circle cx="258.1" cy="633.5" r="2.25"/><circle cx="245.4" cy="647.3" r="2.25"/><circle cx="225.6" cy="639.9" r="2.25"/><circle cx="226.0" cy="642.6" r="2.25"/><circle cx="238.7" cy="640.4" r="2.25"/><circle cx="239.9" cy="637.5" r="2.25"/><circle cx="220.4" cy="649.5" r="2.25"/><circle cx="245.9" cy="633.6" r="2.25"/><circle cx="251.0" cy="638.1" r="2.25"/><circle cx="242.9" cy="643.9" r="2.25"/><circle cx="215.2" cy="641.2" r="2.25"/><circle cx="246.9" cy="634.3" r="2.25"/><circle cx="229.3" cy="642.6" r="2.25"/><circle cx="215.2" cy="647.5" r="2.25"/><circle cx="211.5" cy="648.5" r="2.25"/><circle cx="242.3" cy="632.9" r="2.25"/><circle cx="250.7" cy="633.7" r="2.25"/><circle cx="246.8" cy="632.0" r="2.25"/><circle cx="234.7" cy="643.7" r="2.25"/><circle cx="250.6" cy="639.5" r="2.25"/><circle cx="257.4" cy="634.1" r="2.25"/><circle cx="228.3" cy="641.5" r="2.25"/><circle cx="216.6" cy="648.1" r="2.25"/><circle cx="251.9" cy="639.5" r="2.25"/><circle cx="234.1" cy="642.5" r="2.25"/><circle cx="256.7" cy="631.9" r="2.25"/><circle cx="244.2" cy="635.0" r="2.25"/><circle cx="213.1" cy="653.5" r="2.25"/><circle cx="247.7" cy="634.1" r="2.25"/><circle cx="239.8" cy="637.8" r="2.25"/><circle cx="233.6" cy="640.0" r="2.25"/><circle cx="241.5" cy="635.4" r="2.25"/><circle cx="239.1" cy="638.7" r="2.25"/><circle cx="235.1" cy="634.1" r="2.25"/><circle cx="233.2" cy="643.6" r="2.25"/><circle cx="215.7" cy="651.6" r="2.25"/><circle cx="214.8" cy="647.7" r="2.25"/><circle cx="251.1" cy="634.7" r="2.25"/><circle cx="235.7" cy="645.1" r="2.25"/><circle cx="246.9" cy="635.5" r="2.25"/><circle cx="245.9" cy="636.6" r="2.25"/><circle cx="240.9" cy="643.9" r="2.25"/><circle cx="239.0" cy="641.1" r="2.25"/><circle cx="242.9" cy="634.3" r="2.25"/><circle cx="229.9" cy="638.9" r="2.25"/><circle cx="256.5" cy="639.1" r="2.25"/><circle cx="235.1" cy="637.9" r="2.25"/></g></g>
<line x1="207.48" y1="659.56" x2="361.32" y2="565.41" stroke="#111" stroke-width="1.05" stroke-dasharray="3.2 1.4"/>
<rect x="199.80" y="560.71" width="169.2" height="103.55" fill="none" stroke="#939393" stroke-width="1"/>
<path d="M215.60 664.26v1.6M199.80 654.59h-1.6M244.06 664.26v1.6M199.80 637.18h-1.6M272.52 664.26v1.6M199.80 619.76h-1.6M300.98 664.26v1.6M199.80 602.34h-1.6M329.44 664.26v1.6M199.80 584.92h-1.6M357.90 664.26v1.6M199.80 567.50h-1.6" stroke="#444" stroke-width="0.8" fill="none"/>
<text transform="translate(215.60,671.96) scale(0.97,1)" text-anchor="middle" class="tl">20</text>
<text transform="translate(244.06,671.96) scale(0.97,1)" text-anchor="middle" class="tl">30</text>
<text transform="translate(272.52,671.96) scale(0.97,1)" text-anchor="middle" class="tl">40</text>
<text transform="translate(300.98,671.96) scale(0.97,1)" text-anchor="middle" class="tl">50</text>
<text transform="translate(329.44,671.96) scale(0.97,1)" text-anchor="middle" class="tl">60</text>
<text transform="translate(357.90,671.96) scale(0.97,1)" text-anchor="middle" class="tl">70</text>
<text transform="translate(284.40,679.76) scale(0.97,1)" text-anchor="middle" class="al">Observed</text>
<text transform="translate(284.40,569.01) scale(0.97,1)" text-anchor="middle" class="tb">Rapeseed</text>
<clipPath id="cp52"><rect x="375.30" y="560.71" width="169.2" height="103.55"/></clipPath>
<g clip-path="url(#cp52)"><g fill="#0000ff" fill-opacity="0.78" stroke="#fff" stroke-opacity="0.9" stroke-width="0.4"><circle cx="398.4" cy="643.3" r="2.25"/><circle cx="413.5" cy="639.9" r="2.25"/><circle cx="389.9" cy="646.5" r="2.25"/><circle cx="416.4" cy="635.4" r="2.25"/><circle cx="390.4" cy="652.1" r="2.25"/><circle cx="410.4" cy="636.2" r="2.25"/><circle cx="421.0" cy="630.6" r="2.25"/><circle cx="393.2" cy="650.1" r="2.25"/><circle cx="436.6" cy="629.5" r="2.25"/><circle cx="437.0" cy="626.0" r="2.25"/><circle cx="411.3" cy="640.8" r="2.25"/><circle cx="423.4" cy="639.4" r="2.25"/><circle cx="394.1" cy="642.8" r="2.25"/><circle cx="395.8" cy="652.5" r="2.25"/><circle cx="426.5" cy="629.4" r="2.25"/><circle cx="406.9" cy="642.6" r="2.25"/><circle cx="429.7" cy="631.5" r="2.25"/><circle cx="438.2" cy="626.6" r="2.25"/><circle cx="397.8" cy="647.9" r="2.25"/><circle cx="420.8" cy="641.9" r="2.25"/><circle cx="421.8" cy="641.1" r="2.25"/><circle cx="429.8" cy="627.2" r="2.25"/><circle cx="392.1" cy="651.4" r="2.25"/><circle cx="385.5" cy="649.7" r="2.25"/><circle cx="402.0" cy="645.1" r="2.25"/><circle cx="418.5" cy="637.8" r="2.25"/><circle cx="438.9" cy="626.7" r="2.25"/><circle cx="439.1" cy="626.4" r="2.25"/><circle cx="401.1" cy="650.2" r="2.25"/><circle cx="386.9" cy="653.8" r="2.25"/><circle cx="386.1" cy="651.6" r="2.25"/><circle cx="409.7" cy="639.5" r="2.25"/><circle cx="419.1" cy="639.1" r="2.25"/><circle cx="395.5" cy="646.2" r="2.25"/><circle cx="388.1" cy="652.5" r="2.25"/><circle cx="391.7" cy="650.6" r="2.25"/><circle cx="390.7" cy="658.5" r="2.25"/><circle cx="414.8" cy="641.3" r="2.25"/><circle cx="443.3" cy="624.3" r="2.25"/><circle cx="398.6" cy="650.3" r="2.25"/><circle cx="404.0" cy="642.3" r="2.25"/><circle cx="430.3" cy="638.5" r="2.25"/><circle cx="422.1" cy="635.9" r="2.25"/><circle cx="404.5" cy="644.9" r="2.25"/><circle cx="425.0" cy="630.2" r="2.25"/><circle cx="425.5" cy="636.9" r="2.25"/><circle cx="395.9" cy="649.0" r="2.25"/><circle cx="394.1" cy="652.1" r="2.25"/><circle cx="407.5" cy="643.6" r="2.25"/><circle cx="411.7" cy="640.2" r="2.25"/><circle cx="401.0" cy="648.0" r="2.25"/><circle cx="432.0" cy="630.6" r="2.25"/><circle cx="440.8" cy="624.6" r="2.25"/><circle cx="385.0" cy="651.0" r="2.25"/><circle cx="386.5" cy="657.6" r="2.25"/><circle cx="409.4" cy="640.0" r="2.25"/><circle cx="429.1" cy="636.6" r="2.25"/><circle cx="401.4" cy="648.8" r="2.25"/><circle cx="423.1" cy="638.8" r="2.25"/><circle cx="426.1" cy="630.7" r="2.25"/><circle cx="423.9" cy="637.8" r="2.25"/><circle cx="390.8" cy="645.5" r="2.25"/><circle cx="397.9" cy="647.7" r="2.25"/><circle cx="442.4" cy="621.6" r="2.25"/><circle cx="427.2" cy="634.0" r="2.25"/><circle cx="424.1" cy="631.4" r="2.25"/><circle cx="393.2" cy="653.9" r="2.25"/><circle cx="414.0" cy="638.2" r="2.25"/><circle cx="401.8" cy="646.0" r="2.25"/><circle cx="432.3" cy="622.7" r="2.25"/><circle cx="389.9" cy="655.0" r="2.25"/><circle cx="426.2" cy="641.5" r="2.25"/><circle cx="397.2" cy="643.1" r="2.25"/><circle cx="407.0" cy="643.9" r="2.25"/><circle cx="401.9" cy="648.4" r="2.25"/><circle cx="402.1" cy="643.6" r="2.25"/><circle cx="434.9" cy="627.9" r="2.25"/><circle cx="420.6" cy="639.1" r="2.25"/><circle cx="397.5" cy="654.1" r="2.25"/><circle cx="435.9" cy="626.3" r="2.25"/><circle cx="408.2" cy="644.7" r="2.25"/><circle cx="402.5" cy="651.2" r="2.25"/><circle cx="413.5" cy="642.9" r="2.25"/><circle cx="408.2" cy="643.3" r="2.25"/><circle cx="431.5" cy="634.0" r="2.25"/><circle cx="432.0" cy="632.5" r="2.25"/><circle cx="416.4" cy="633.7" r="2.25"/><circle cx="384.0" cy="655.6" r="2.25"/><circle cx="424.0" cy="630.4" r="2.25"/><circle cx="395.1" cy="647.3" r="2.25"/><circle cx="412.6" cy="645.9" r="2.25"/><circle cx="424.4" cy="633.6" r="2.25"/><circle cx="391.1" cy="652.0" r="2.25"/><circle cx="418.5" cy="645.1" r="2.25"/><circle cx="403.3" cy="647.6" r="2.25"/><circle cx="408.8" cy="646.7" r="2.25"/><circle cx="394.3" cy="643.4" r="2.25"/><circle cx="397.5" cy="651.6" r="2.25"/><circle cx="394.5" cy="648.5" r="2.25"/><circle cx="397.4" cy="646.6" r="2.25"/><circle cx="412.0" cy="642.5" r="2.25"/><circle cx="405.0" cy="644.7" r="2.25"/><circle cx="390.0" cy="655.2" r="2.25"/><circle cx="385.4" cy="653.5" r="2.25"/><circle cx="411.4" cy="633.9" r="2.25"/><circle cx="417.7" cy="635.8" r="2.25"/><circle cx="416.0" cy="635.2" r="2.25"/><circle cx="392.0" cy="654.9" r="2.25"/><circle cx="401.8" cy="643.6" r="2.25"/><circle cx="430.5" cy="633.5" r="2.25"/><circle cx="413.2" cy="641.6" r="2.25"/><circle cx="393.0" cy="650.9" r="2.25"/><circle cx="395.4" cy="643.7" r="2.25"/><circle cx="420.2" cy="642.5" r="2.25"/><circle cx="390.4" cy="645.8" r="2.25"/><circle cx="402.9" cy="649.7" r="2.25"/><circle cx="396.0" cy="648.7" r="2.25"/><circle cx="400.7" cy="653.6" r="2.25"/><circle cx="410.0" cy="648.7" r="2.25"/><circle cx="426.3" cy="627.6" r="2.25"/><circle cx="403.1" cy="646.7" r="2.25"/><circle cx="410.4" cy="644.4" r="2.25"/><circle cx="429.2" cy="624.5" r="2.25"/><circle cx="425.7" cy="637.1" r="2.25"/><circle cx="435.4" cy="628.2" r="2.25"/></g><g fill="#ff0000" fill-opacity="0.78" stroke="#fff" stroke-opacity="0.9" stroke-width="0.4"><circle cx="426.3" cy="631.6" r="2.25"/><circle cx="428.4" cy="633.2" r="2.25"/><circle cx="398.3" cy="651.5" r="2.25"/><circle cx="398.9" cy="639.8" r="2.25"/><circle cx="410.5" cy="645.8" r="2.25"/><circle cx="422.1" cy="638.2" r="2.25"/><circle cx="419.7" cy="644.6" r="2.25"/><circle cx="433.7" cy="638.1" r="2.25"/><circle cx="390.5" cy="647.4" r="2.25"/><circle cx="410.4" cy="628.6" r="2.25"/><circle cx="403.7" cy="645.1" r="2.25"/><circle cx="415.1" cy="638.4" r="2.25"/><circle cx="388.8" cy="651.7" r="2.25"/><circle cx="403.8" cy="637.2" r="2.25"/><circle cx="391.4" cy="639.2" r="2.25"/><circle cx="435.9" cy="627.6" r="2.25"/><circle cx="414.5" cy="638.0" r="2.25"/><circle cx="411.1" cy="633.7" r="2.25"/><circle cx="437.0" cy="625.6" r="2.25"/><circle cx="405.2" cy="642.6" r="2.25"/><circle cx="407.8" cy="639.7" r="2.25"/><circle cx="411.8" cy="642.7" r="2.25"/><circle cx="389.8" cy="649.1" r="2.25"/><circle cx="387.4" cy="657.1" r="2.25"/><circle cx="402.3" cy="635.9" r="2.25"/><circle cx="414.5" cy="630.0" r="2.25"/><circle cx="414.3" cy="648.0" r="2.25"/><circle cx="396.4" cy="655.4" r="2.25"/><circle cx="402.5" cy="647.1" r="2.25"/><circle cx="423.0" cy="635.1" r="2.25"/><circle cx="403.6" cy="637.4" r="2.25"/><circle cx="409.2" cy="641.9" r="2.25"/><circle cx="403.1" cy="637.8" r="2.25"/><circle cx="426.7" cy="641.0" r="2.25"/><circle cx="402.6" cy="644.5" r="2.25"/><circle cx="414.8" cy="638.6" r="2.25"/><circle cx="400.7" cy="649.2" r="2.25"/><circle cx="423.2" cy="639.4" r="2.25"/><circle cx="414.9" cy="634.5" r="2.25"/><circle cx="390.1" cy="648.6" r="2.25"/><circle cx="421.1" cy="630.7" r="2.25"/><circle cx="427.8" cy="643.0" r="2.25"/><circle cx="421.5" cy="627.5" r="2.25"/><circle cx="396.1" cy="637.7" r="2.25"/><circle cx="410.5" cy="628.9" r="2.25"/><circle cx="436.7" cy="629.8" r="2.25"/><circle cx="426.4" cy="636.8" r="2.25"/><circle cx="425.6" cy="630.9" r="2.25"/><circle cx="389.2" cy="649.9" r="2.25"/><circle cx="394.5" cy="642.8" r="2.25"/><circle cx="417.7" cy="647.7" r="2.25"/><circle cx="401.3" cy="645.5" r="2.25"/><circle cx="396.8" cy="644.8" r="2.25"/><circle cx="416.2" cy="642.5" r="2.25"/><circle cx="434.7" cy="635.3" r="2.25"/></g></g>
<line x1="382.98" y1="659.56" x2="536.82" y2="565.41" stroke="#111" stroke-width="1.05" stroke-dasharray="3.2 1.4"/>
<rect x="375.30" y="560.71" width="169.2" height="103.55" fill="none" stroke="#939393" stroke-width="1"/>
<path d="M391.10 664.26v1.6M375.30 654.59h-1.6M419.56 664.26v1.6M375.30 637.18h-1.6M448.02 664.26v1.6M375.30 619.76h-1.6M476.48 664.26v1.6M375.30 602.34h-1.6M504.94 664.26v1.6M375.30 584.92h-1.6M533.40 664.26v1.6M375.30 567.50h-1.6" stroke="#444" stroke-width="0.8" fill="none"/>
<text transform="translate(391.10,671.96) scale(0.97,1)" text-anchor="middle" class="tl">20</text>
<text transform="translate(419.56,671.96) scale(0.97,1)" text-anchor="middle" class="tl">30</text>
<text transform="translate(448.02,671.96) scale(0.97,1)" text-anchor="middle" class="tl">40</text>
<text transform="translate(476.48,671.96) scale(0.97,1)" text-anchor="middle" class="tl">50</text>
<text transform="translate(504.94,671.96) scale(0.97,1)" text-anchor="middle" class="tl">60</text>
<text transform="translate(533.40,671.96) scale(0.97,1)" text-anchor="middle" class="tl">70</text>
<text transform="translate(459.90,679.76) scale(0.97,1)" text-anchor="middle" class="al">Observed</text>
<text transform="translate(109.10,9.60) scale(0.97,1)" text-anchor="middle" class="tb">Linear regression (all dataset)</text>
<text transform="translate(284.40,9.60) scale(0.97,1)" text-anchor="middle" class="tb">Random Forest</text>
<text transform="translate(459.90,9.60) scale(0.97,1)" text-anchor="middle" class="tb">Neural Networks</text>
<rect x="202.4" y="15.5" width="52.9" height="17.6" rx="1.5" fill="#fff" fill-opacity="0.8" stroke="#d9d9d9" stroke-width="0.7"/>
<circle cx="210.2" cy="19.8" r="1.9" fill="#0000ff" fill-opacity="0.78"/>
<circle cx="210.2" cy="27.7" r="1.9" fill="#ff0000" fill-opacity="0.78"/>
<text transform="translate(220.40,21.60) scale(0.94,1)" class="lg">Training Set</text>
<text transform="translate(220.40,29.50) scale(0.94,1)" class="lg">Test Set</text>
</svg>
</body></html>
